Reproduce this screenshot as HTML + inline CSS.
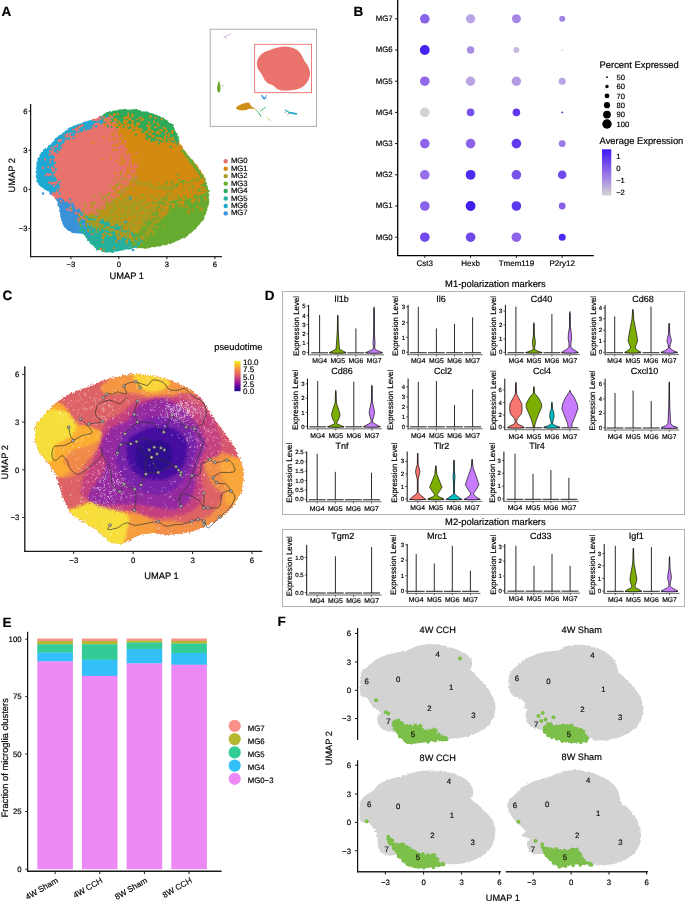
<!DOCTYPE html>
<html lang="en"><head><meta charset="utf-8"><title>Figure</title>
<style>
html,body{margin:0;padding:0;background:#fff}
svg{display:block}
text{font-family:"Liberation Sans", sans-serif;stroke:#000;stroke-width:0.18px;text-rendering:geometricPrecision}
</style></head><body>
<svg width="685" height="901" viewBox="0 0 685 901">
<rect width="685" height="901" fill="#fff"/>
<g id="panelA">
<text x="1.5" y="16" font-size="13.5" fill="#000" font-weight="bold" stroke="none">A</text>
<clipPath id="clipA"><path d="M37.7 175.6C37.8 172.4 37.5 166 38.3 162.2C39.2 158.4 40.5 155.6 42.7 152.8C44.9 149.9 48.9 147.7 51.8 145C54.7 142.4 56.9 139.4 60.2 136.6C63.5 133.8 67.5 130.5 71.6 128.2C75.7 126 80.3 124.7 84.7 123.2C89 121.7 94 120.8 97.8 119.2C101.6 117.6 103.6 114.9 107.5 113.5C111.3 112.1 116.4 111.2 120.9 110.8C125.4 110.3 129.9 110.3 134.3 110.8C138.8 111.2 143.3 112.2 147.8 113.5C152.2 114.8 157.3 116.5 161.2 118.5C165.1 120.5 168.7 122.4 171.3 125.2C173.8 128 175.1 132.1 176.3 135.3C177.5 138.5 177 141 178.6 144.4C180.3 147.7 183.4 151.7 186.4 155.5C189.3 159.3 193.6 163.6 196.4 167.2C199.2 170.9 201.3 173.4 203.1 177.3C205 181.2 206.8 186.3 207.5 190.7C208.2 195.2 208.2 199.7 207.5 204.2C206.8 208.7 205.3 213.7 203.1 217.6C201 221.5 197.8 224.6 194.8 227.7C191.7 230.8 188.6 233.8 184.7 236.1C180.8 238.5 175.7 240.3 171.3 241.8C166.8 243.3 162.3 244.3 157.8 245.2C153.4 246.1 148.3 247 144.4 247.2C140.5 247.4 137.7 246.3 134.3 246.5C131 246.7 127.6 247.8 124.3 248.5C120.9 249.3 117.6 250.5 114.2 250.9C110.8 251.3 107.2 251.6 104.1 250.9C101.1 250.2 98.3 248.4 95.7 246.5C93.2 244.7 91 242 89 239.8C87.1 237.6 85.7 234.8 84 233.4C82.3 232.1 80.9 232.1 79 231.7C77 231.4 74.5 232.3 72.2 231.4C70 230.5 67.2 228.7 65.5 226.4C63.9 224.1 63 220.8 62.2 217.6C61.3 214.5 61.3 210.6 60.5 207.5C59.7 204.5 58.8 201.8 57.1 199.1C55.5 196.5 52.9 193.5 50.4 191.4C47.9 189.3 44.2 188.1 42 186.4C39.9 184.7 38.4 183.1 37.7 181.3C36.9 179.5 37.6 178.8 37.7 175.6Z"/></clipPath>
<g clip-path="url(#clipA)">
<rect x="30" y="100" width="200" height="165" fill="#E8736C"/>
<polygon points="201.5,173.9 207.5,190.7 207.5,204.2 203.1,217.6 194.8,227.7 184.7,236.1 171.3,241.8 157.8,245.2 144.4,247.2 134.3,246.5 129.3,237.8 141.1,232.7 151.1,221 159.5,205.9 167.9,190.7 174.6,185.7 188,180.7" fill="#67AA30" stroke="#67AA30" stroke-width="3" stroke-linejoin="round"/>
<polygon points="129.3,179 141.1,183.4 157.8,186.7 169.6,190.1 161.2,207.5 151.1,222.7 141.1,233.8 132.7,239.5 117.6,232.7 100.8,226 87.3,221.7 79.3,214.9 97.4,200.2 114.2,186.7" fill="#A79B20" stroke="#A79B20" stroke-width="3" stroke-linejoin="round"/>
<polygon points="79.3,214.9 87.3,221 100.8,225 117.6,231.7 132.7,238.5 135,246.5 124.3,248.5 114.2,250.9 104.1,250.9 95.7,246.5 89,239.8 84,233.4 80.6,227.7 78,221" fill="#25B09B" stroke="#25B09B" stroke-width="3" stroke-linejoin="round"/>
<polygon points="99.1,120.2 107.5,113.5 120.9,110.8 134.3,110.8 147.8,113.5 161.2,118.5 171.3,125.2 176.3,135.3 179.7,146.4 170.6,144.4 158.8,142.4 144.1,134 129.6,127.9 114.9,122.5 108.2,124.2" fill="#2DAA5A" stroke="#2DAA5A" stroke-width="3" stroke-linejoin="round"/>
<polygon points="109.2,125.6 114.9,122.9 129.6,127.9 144.1,134 158.8,142.4 170.6,144.4 179.7,146.4 186.4,155.5 196.4,167.2 202.5,176 188,182.3 174.6,187.4 157.8,188.1 141.1,184.7 129.3,180 121.6,158.8 114.9,142" fill="#D48910" stroke="#D48910" stroke-width="3" stroke-linejoin="round"/>
<polygon points="51.1,153.8 55.5,145.4 67.2,133 84,124.2 100.8,119.5 108.2,126.2 114.9,140.3 121.6,157.1 129,172.3 114.9,188.1 98.1,201.5 84.7,211.6 79.3,215.9 71.2,205.9 63.2,195.8 56.5,189.1 51.4,178 50.4,164.5" fill="#E8736C" stroke="#E8736C" stroke-width="3" stroke-linejoin="round"/>
<polygon points="37.7,175.6 38,162.2 42,152.1 50.4,143.7 58.8,135.3 70.6,126.9 84,121.9 97.4,118.5 100.8,118.8 86.7,124.9 72.2,130.9 61.2,139.3 53.8,148.7 50.1,158.8 49.1,170.6 50.8,180.7 55.5,188.4 53.1,192.8 50.4,191.4 42,186.4 37.7,181.3" fill="#1EA9D3" stroke="#1EA9D3" stroke-width="3" stroke-linejoin="round"/>
<polygon points="59.8,199.1 67.2,203.5 78,214.3 81.3,224.3 84.7,233.8 79,231.7 72.2,231.4 65.5,226.4 62.2,217.6 60.5,207.5" fill="#3992D8" stroke="#3992D8" stroke-width="3" stroke-linejoin="round"/>
</g>
<path d="M152.1 213.8h0M138.6 235.3h0M170.9 190.3h0M143.4 229.7h0M132.4 233.6h0M137.4 237.7h0M200.3 176.1h0M150.2 222.3h0M133.1 239.1h0M140.4 231.8h0M193.5 181h0M134.9 241.7h0M138.5 237.1h0M167 183.3h0M133.8 236.8h0M152.4 213.5h0M167.8 186.9h0M174.4 186.1h0M163.3 198h0M136.5 234.4h0M146.6 226.7h0M193.5 180.1h0M136.9 234.7h0M174.5 186.5h0M157.1 207.3h0M153.7 220h0M163.3 192.8h0M170.4 189.3h0M158.3 212.7h0M188.1 183.4h0M187.6 182.6h0M182.7 181.5h0M136.2 237.3h0M177.7 175.1h0M150.2 224.2h0M155.5 216.9h0M168.3 191.5h0M145.8 229.8h0M150 210.8h0M143 230.6h0M163.4 205.6h0M194.6 178.7h0M187.4 183.9h0M143.2 227.1h0M141.6 234.9h0M204.6 179h0M204.7 180.3h0M204.8 180.9h0M205.4 182.8h0M205.9 183.7h0M205.6 185.2h0M206.7 186.6h0M206.9 188.1h0M207.1 189.7h0M208.6 191h0M207.2 192.1h0M207.6 193.4h0M208.3 194.9h0M207.4 196.1h0M207.9 197.1h0M208.1 199.2h0M208.1 200.3h0M208.2 201.7h0M207.7 203.1h0M208.1 204.3h0M207.1 205.9h0M206.8 207h0M206.4 208h0M206.3 210h0M205.4 210.7h0M205.3 212.3h0M205 213.9h0M203.7 215.3h0M203.5 216.5h0M203.2 217.6h0M203.3 219h0M201.7 219.6h0M201.6 220.8h0M199.9 221.8h0M199.4 223.2h0M198.6 224.1h0M197.4 224.7h0M197.1 225.8h0M195.7 226.9h0M195.2 228.5h0M193.7 228.9h0M192.6 229.3h0M192.4 230.5h0M191.4 231.2h0M190.4 232.5h0M188.6 232.7h0M188 233.6h0M187.3 234.9h0M186.2 235.7h0M185.3 236.5h0M184.3 237.3h0M182.7 237.1h0M181 237.9h0M179.8 238.6h0M178.8 239.3h0M177.8 239.4h0M176.1 240.3h0M175 240.1h0M174.2 241.6h0M172.3 241.8h0M171.8 242.2h0M170.5 243h0M169.4 242.9h0M167.1 243.2h0M166.5 244.2h0M165.2 244.4h0M163 244h0M161.9 244.2h0M161.1 244.8h0M159.8 245.5h0M158.2 245.6h0M156.7 245.2h0M155.4 246.2h0M154.1 246.3h0M152.5 245.8h0M151.4 246.1h0M150 246.9h0M148.6 246.5h0M147.6 247.6h0M146.2 247.6h0M144.4 247.8h0M142.7 247.1h0M141.2 247.2h0M140 247.1h0M138.7 246.8h0M137.4 247.5h0" stroke="#67AA30" stroke-width="2.3" stroke-linecap="round" fill="none"/>
<path d="M111.8 228.6h0M149.8 230.4h0M164.4 208.9h0M167.3 211.3h0M88.4 222.4h0M87.8 219.8h0M132.6 177.1h0M172.2 189h0M86.2 206.2h0M129.9 174.9h0M102.3 226.1h0M126.8 234.9h0M164.4 189h0M149.8 229h0M163.3 214.3h0M140.3 236.8h0M139.7 183.8h0M132.5 241.3h0M161.8 214.8h0M97.4 227.1h0M84.1 210.2h0M115.8 233.2h0M77.8 213.6h0M110.4 229.8h0M156 219.4h0M97.1 226.8h0M131.1 239.7h0M122 178.3h0M160.9 218.6h0M152.2 224.4h0M91.4 221.1h0M106.7 233.6h0M146 232h0M153.6 222.6h0M155.6 226.9h0M157.3 216.8h0M136.2 243h0M71.4 208.8h0M153.8 232.8h0M150.6 187.5h0M110.6 227.5h0M96.7 228.9h0M151.3 229.5h0M165.6 187.4h0M136.8 178.6h0M163.8 185.7h0M175.8 198.5h0M115.8 229.8h0M156.4 223.1h0M100.2 194.3h0M136.1 182.8h0M173.5 192.4h0M125.1 234.8h0M107.6 226.8h0M158.6 183.5h0M162.5 210.9h0M99.7 227.8h0M139.5 240h0M138.7 237.5h0M125.9 237.1h0M108.1 194.9h0M165.7 204.6h0M118.3 230.7h0M173.8 190h0M118 185.2h0M141.1 243.7h0M130.7 176.5h0M147.9 236.1h0M146.1 230.8h0M167.8 188.3h0M163.3 207.4h0M138.6 184.2h0M120.8 236.9h0M160.1 218.8h0M94.4 223.1h0M93.7 206.4h0M111.1 228.2h0M86.8 222.3h0M164.8 214.8h0M130.5 174.6h0M93.6 202.7h0M153 224.9h0M98.8 224.1h0M173.4 195.9h0M141.1 185.1h0M96.2 223.8h0M133.5 181.4h0M79.4 223.8h0M82.8 216.9h0M85.7 219.4h0M108.7 194.1h0M100.1 230h0M119.3 231.8h0M92.6 206.7h0M168.4 200.3h0M155.6 188.1h0M98 223.6h0M109.9 186.4h0M161.2 215.3h0M150.5 186.7h0M116.9 234.8h0M157.2 221.5h0M161.1 218.6h0M130.1 236.5h0M94.1 203.1h0M83.5 210h0M109.2 193.9h0M141.9 238.8h0M133.7 178h0M88.7 221.6h0M167.4 202.6h0M164.1 225.5h0M117 187.8h0M91 229.2h0M104.4 228.9h0M152.6 184.8h0M172.1 189.6h0M158.9 186.8h0M83.2 223h0M148.9 186.4h0M119.8 182.1h0M132.7 238.5h0M143.5 184.9h0M93.5 203.6h0M109.2 193.2h0M151.4 231.4h0M90.7 220.7h0" stroke="#A79B20" stroke-width="2.3" stroke-linecap="round" fill="none"/>
<path d="M115.8 225.5h0M79.8 224.3h0M83.4 229.2h0M94.6 219.8h0M109.6 226.8h0M137.8 242.3h0M112.7 227.1h0M82.6 213.5h0M126 232.7h0M83.4 226.8h0M87.5 217.2h0M134.4 238.8h0M128.3 234.7h0M134.8 239.4h0M121.5 230h0M134.8 234.4h0M83.8 230h0M83.1 215h0M131.7 233.5h0M106.4 225.6h0M81.3 222.9h0M80.9 219.7h0M93.7 219.9h0M135.1 235.5h0M133.6 235.4h0M103.7 222.8h0M116.9 224.8h0M103.9 223h0M116.8 229.5h0M81.6 220.5h0M101.7 222.6h0M83.1 226.4h0M115.6 228.9h0M102.9 221.7h0M105.9 223h0M108.5 225.8h0M111.1 227.4h0M135.7 246.7h0M134.3 247h0M133 247h0M131.4 248h0M130.1 248.3h0M128.3 248.7h0M126.9 248.2h0M125.4 248.5h0M124.6 248.6h0M123 249.5h0M121.6 249.3h0M119.9 250h0M118.4 250.2h0M116.9 250.5h0M115.9 250.6h0M114.3 250.4h0M112.9 251.9h0M111.1 251.5h0M109.5 251.2h0M108.7 251.3h0M107.1 251.4h0M105.5 251.6h0M104 250.9h0M102.5 251.1h0M101.9 249.6h0M100.4 249.3h0M99 248.4h0M97.5 248.7h0M96.5 247.8h0M95.5 247h0M94.6 245.7h0M93.8 244.9h0M92.8 244h0M91.3 243.3h0M90.6 242.3h0M90.1 241h0M89.3 239.9h0M88 239.9h0M86.9 237.7h0M86.6 236.8h0M85.6 235.3h0M84.9 234.6h0M83.8 233.2h0" stroke="#25B09B" stroke-width="2.3" stroke-linecap="round" fill="none"/>
<path d="M177.6 145.1h0M111 124h0M123.5 127h0M148.9 137.4h0M102.7 121.4h0M151.9 138.2h0M101.2 120.1h0M146.3 134.4h0M151.6 141.2h0M147.4 134.8h0M102.3 116.6h0M104 115.5h0M105.2 114.4h0M106.3 114.5h0M107.3 112.8h0M108.8 112.8h0M110.1 112.2h0M111.6 113h0M113.1 112h0M114 111.7h0M115.8 111.4h0M117.3 111.5h0M118.1 111h0M119.9 110.5h0M120.7 110.3h0M122.5 110.6h0M123.4 110.2h0M125 109.8h0M126.4 110.7h0M127.9 110.6h0M129.2 110.8h0M130.3 110.7h0M131.9 110.4h0M132.7 111.1h0M134.3 109.9h0M135.8 110.4h0M136.9 110.1h0M138.6 111.2h0M139.7 111.1h0M140.7 112.4h0M142.4 112.3h0M143.9 112.6h0M145 112.7h0M146.5 112.4h0M148 112.8h0M149.2 113.9h0M150.4 114.5h0M151.3 114.2h0M153.2 114.6h0M153.8 115h0M155.2 115.9h0M156.8 116h0M157.9 117.3h0M159.2 116.8h0M160.1 117.6h0M161.1 118.6h0M162.9 118.5h0M163.9 119.7h0M165 120.3h0M166.1 121.1h0M167.1 121.7h0M168 123.2h0M168.6 123.9h0M170.1 124.2h0M171.5 124.7h0M172.7 125.5h0M173 127.8h0M173.4 128.6h0M174.1 130.2h0M174 131.9h0M175 132.3h0M176.2 133.8h0M176.5 134.9h0M176.3 136.7h0M178 137.4h0M177.6 138.8h0M178.3 140.3h0M178.1 141.6h0" stroke="#2DAA5A" stroke-width="2.3" stroke-linecap="round" fill="none"/>
<path d="M122.9 188.3h0M126.1 191.7h0M126.1 174h0M161.1 138.7h0M175.4 142.3h0M161.1 193.6h0M200.2 180.2h0M168.1 138.6h0M149.3 130.3h0M148.9 122.4h0M166 207.6h0M137.1 129.1h0M174.5 199.6h0M113.4 150h0M132.2 121.8h0M156.5 190.7h0M181.4 189.1h0M176 189.9h0M179.8 188.6h0M140.4 129.1h0M168.8 196.8h0M114.5 195.8h0M146.4 131.7h0M181.4 192.7h0M194.3 182.9h0M200 194.2h0M161.7 195.7h0M196.1 180.9h0M171.8 189.3h0M132.3 189.8h0M186.7 190h0M165.1 138.8h0M121.7 201.8h0M186.1 187.7h0M180.3 189.4h0M140.1 191.3h0M147.8 190h0M154.1 136.1h0M180 196.5h0M125.9 186.9h0M127.1 195.2h0M145.7 195.3h0M126.5 175.2h0M136.9 127.3h0M125.5 122.6h0M194.2 189.8h0M155.6 214.1h0M128.4 113.6h0M190.8 189.9h0M107 124.5h0M140 190.8h0M143 198.2h0M199.5 182.3h0M188.6 212.7h0M92.7 143h0M138.5 191.1h0M198.8 201h0M155.2 190h0M123 181.4h0M170 191h0M136 195h0M156.4 196.1h0M151.9 130.9h0M125.8 180.7h0M131.3 126.1h0M191.1 188.3h0M163.8 189.8h0M156.6 133h0M147.6 200.7h0M136.5 189.9h0M172.4 189.8h0M194.4 188.9h0M201.9 190.8h0M135.4 199.2h0M144.8 188.5h0M175.6 191.6h0M201.4 190.2h0M181.3 194h0M117.2 160.8h0M132.2 195.1h0M173.8 193.9h0M159 197.2h0M135.7 184.7h0M115.8 119.1h0M109.8 122.5h0M124 184.4h0M157.8 131.9h0M137.3 124.5h0M151.6 200.5h0M139.6 188.7h0M197.6 184.3h0M149.4 199.6h0M160 138.2h0M133.2 120.8h0M151.9 192.9h0M150.9 116.2h0M126.1 122.7h0M185.7 185.5h0M170.3 195.9h0M154 188.9h0M177.7 189.2h0M173.1 195.5h0M126 164.2h0M204.7 192.4h0M196.6 183.5h0M123.6 180.8h0M129.5 184.4h0M131.9 191.8h0M187.1 190.7h0M150.4 191.2h0M162.1 130.7h0M187.8 195.5h0M131.2 191.4h0M167.8 199.6h0M198.6 180.6h0M162.6 194.5h0M128.2 116.3h0M155.6 118h0M137.8 189.4h0M178.1 188.6h0M128.2 171.5h0M110.9 158.2h0M191.5 195.4h0M128.2 184.6h0M162.1 139.8h0M189.1 193.2h0M167.2 196.6h0M183.8 189.5h0M165 136.6h0M131.4 125.6h0M158.7 190.6h0M195.3 186.2h0M171.6 189.8h0M147.3 125.3h0M114.7 140.7h0M132.1 121.3h0M200.1 183.5h0M169 197h0M191.9 200.9h0M140.5 196.1h0M143.7 190h0M195.3 183.7h0M119.1 189.3h0M163.8 191.3h0M171.6 139.7h0M141.5 120.7h0M107.2 122.7h0M119.3 122h0M124.9 196h0M125.9 118.2h0M149.3 134.4h0M151.4 135.6h0M143.2 119.4h0M124.4 118h0M188.8 184h0M139.7 189.5h0M165.2 137.7h0M123.8 122.1h0M178.5 190.6h0M183.3 203.7h0M133.2 127.2h0M123.8 194.7h0M199.2 193.6h0M185.8 192h0M150.6 190.3h0M198.3 185h0M187 192.9h0M181.9 187.3h0M126.6 179h0M132.9 188.1h0M112.4 134.4h0M137.1 185.2h0M118 205.5h0M143.6 184.8h0M137.2 209.2h0M98 212.1h0M150.4 212.5h0M134 234.1h0M142.8 212.4h0M121.6 228.5h0M116.7 201.8h0M137.1 184.3h0M119.4 214.4h0M126.5 233.2h0M130 186.5h0M113.5 224.9h0M121.8 211.3h0M116.6 190.5h0M121.9 212h0M91.8 221.4h0M159.4 198.3h0M138.1 227.2h0M126.5 232.8h0M132 227.8h0M103.3 207h0M143 223.1h0M131.4 200.8h0M118.8 219h0M146 201.2h0M123.2 196.6h0M126.1 226.8h0M133 218.2h0M137.9 186.6h0M131.5 229.1h0M146.4 207.3h0M140.9 220.9h0M160.4 204.8h0M128.8 203.6h0M106.3 212.8h0M151.6 218.3h0M131.7 236h0M161.4 190.4h0M118.9 185.9h0M113.7 196.5h0M140.4 198.7h0M137.2 231.5h0M141.7 204.8h0M156.5 205.7h0M158 191.8h0M139.6 217.4h0M165 204.2h0M195.7 181.5h0M200.2 181.1h0M196.6 187.5h0M181.2 196.6h0M172.5 197.9h0M181.3 195h0M163.1 205.2h0M186.7 196.4h0M174.4 186.3h0M178.4 202.3h0M185.7 185.5h0M173.2 206.1h0M171.6 204h0M164.9 203.9h0M175 186.8h0M191.2 192.7h0M197.3 186.6h0M167.6 208.9h0M206.6 191.1h0M190.4 196.6h0M204.7 188.5h0M167.8 192.4h0M196.8 189.1h0M161.1 210.5h0M182.9 202.6h0M173 195.1h0M181.9 204.2h0M162.4 212.9h0M202.6 192.9h0M206.5 190.9h0M161.6 211.7h0M199.9 193.6h0M184.2 198.9h0M179.5 186.2h0M184.6 186.1h0M203.7 188.2h0M161.3 211.3h0M189.2 184h0M192.6 195.7h0M103.1 237.2h0M118 239h0M87 225.3h0M100.9 249h0M113.9 248.1h0M102.9 241.8h0M103.1 238.3h0M120.2 233.3h0M178.7 143.1h0M178.4 144.7h0M180.1 145.5h0M180.9 146.2h0M181.8 147.1h0M181.9 148.4h0M182.6 150.1h0M183.7 151.1h0M184.4 151.9h0M185 152.9h0M186.4 154.1h0M186.5 155.3h0M187.6 156.3h0M188.4 157.2h0M189 158.7h0M189.9 159.5h0M192.2 160.6h0M191.9 161.5h0M193.3 162.5h0M194.2 163.8h0M195.2 165.2h0M196.6 165.6h0M196.7 167.4h0M197.7 167.9h0M197.7 169.3h0M199.7 170.7h0M200.1 171.3h0M200.2 173.1h0M201.4 173.6h0M201.8 175h0M202.9 175.8h0M203.3 177.2h0" stroke="#D48910" stroke-width="2.3" stroke-linecap="round" fill="none"/>
<path d="M78.8 220.5h0M123.8 184h0M118.5 187.6h0M127.8 162.9h0M128.1 167h0M96.7 204.7h0M121.4 152.1h0M107.3 118.1h0M122 151.3h0M123.2 181.4h0M113.1 130.3h0M115.7 193.2h0M103.6 199.5h0M121.7 184.8h0M111.1 127.9h0M128.7 179.4h0M127.9 161.1h0M117.2 128.6h0M121.7 147.9h0M130.8 177.7h0M112.2 196.8h0M127.8 181.9h0M100.2 204.5h0M113.7 128h0M97.4 205h0M114.9 193.1h0M109.5 199.4h0M127.6 183.1h0M124.5 187.4h0M106.2 120.4h0M101.9 119.6h0M68.8 210.2h0M109.6 202.6h0M86.7 213.1h0M81.7 218.7h0M85.5 212.8h0M101.9 202h0M116.3 135.9h0M84.9 214.8h0M116.5 122.3h0M120 141.1h0M120.2 148.4h0M119.4 186.7h0M121 186.1h0M51.6 183.8h0M129.8 179h0M99.9 203.1h0M95.1 207.7h0M125.1 183.3h0M128 159h0M85.2 215.4h0M86.5 214.3h0M136.5 153h0M131.2 166.9h0M58.7 141h0M123.9 155.7h0M135.6 177.7h0M110.6 127.2h0M114.8 190.1h0M119 195.4h0M73 129.4h0M45.1 159.5h0M120.8 135.7h0M108.2 123h0M108.9 123.7h0M137.2 165.4h0M122.3 138.1h0M113.2 191.5h0M114.9 134.9h0M123 147.4h0M119.1 186.7h0M117.7 141.1h0M88.7 212.5h0M110.3 125.4h0M126.8 164.4h0M61.7 139.9h0M112.3 123.5h0M123.6 148.3h0M114.7 136.1h0M75.7 212.8h0M85 215.7h0M108.3 196.7h0M123.1 149.8h0M124.8 141.5h0M113.7 195.2h0M124.2 148h0M136.1 176.1h0M136 167.3h0M124.1 147.3h0M48.2 166.8h0M63.9 134.4h0M129.2 176.2h0M98.2 207.5h0M81 125.1h0M112.7 193.3h0M113.5 131.2h0M130.5 163h0M115.2 133.5h0M50.1 151.1h0M111.3 195.8h0M124.1 183.3h0M104.4 201.9h0M131 165h0M106.5 119.6h0M102.2 208.8h0M118.2 141h0M123.5 151h0M114.5 190.8h0M109 123.9h0M118.8 186.8h0M71.3 210.7h0M90.4 210.8h0M53.2 152.3h0M57.3 145.2h0M98.7 120.5h0M120.6 184.4h0M129 178.6h0M52 157.9h0M91.2 209h0M113.9 128.9h0M107.2 197.4h0M128.9 154.2h0M61 201.5h0M86.2 213.3h0M129.7 157.7h0M128.4 176.5h0M50.8 182.9h0M51.7 147.8h0M111 120.3h0M103.4 117.7h0M54.2 185.9h0M94.3 212.5h0M86.4 215.5h0M96 206.9h0M115.3 137.2h0M120.1 185.9h0M125.2 192.3h0M92.4 120.3h0M93.4 119.8h0M95.3 119.9h0M96.6 119.4h0M98 118.8h0M98.8 118.2h0M99.8 117h0M101.4 116.8h0M55.6 198.2h0M55.2 196.7h0M54.6 195.9h0M52.7 195h0M52.5 193.5h0" stroke="#E8736C" stroke-width="2.3" stroke-linecap="round" fill="none"/>
<path d="M51.9 162.9h0M51.6 161.9h0M87.6 126.8h0M52.8 164.8h0M64 139.8h0M104.8 121.8h0M51.2 172.3h0M92.8 123.9h0M54.1 178.7h0M53.7 180.4h0M51.8 173.4h0M55.9 169.4h0M59.4 182h0M58.6 187.4h0M67.6 137.5h0M98.7 121.9h0M51.7 159.3h0M52.6 156.7h0M55.3 151.2h0M80.7 130.4h0M98.9 121.7h0M101.5 117.4h0M59.6 144.2h0M55.4 180.5h0M86.2 129.8h0M75.2 132.3h0M59.7 193.6h0M59.7 146.9h0M81.8 128.8h0M52.4 161.6h0M102.2 119.8h0M54.2 157.6h0M71.9 134.9h0M73.5 138.2h0M52 158.3h0M63.2 142.4h0M57.9 184.3h0M63.6 139.4h0M56.5 187h0M88.9 126.7h0M55.7 149.6h0M84.4 127.6h0M36.9 175.9h0M37.3 174.2h0M37.7 173.2h0M36.6 171.8h0M37.5 170.6h0M37 168.5h0M37.5 167.3h0M37.5 166.3h0M37.5 164.7h0M37.5 163.3h0M37.7 162.1h0M38.6 160.6h0M38.5 158.9h0M39.6 157.8h0M41.1 157.2h0M40.5 155.4h0M41.6 153.8h0M42.1 152.9h0M44 152.2h0M44 150.4h0M45.8 149.9h0M45.6 149.2h0M48 148.4h0M48.6 147.8h0M48.9 146.4h0M50.3 145.6h0M51.9 145.1h0M52.3 144.1h0M53.3 142.7h0M54.4 142.2h0M55.2 141.2h0M55.6 139.5h0M56.6 138.9h0M57.8 138h0M59 137.2h0M59.4 136.2h0M60.8 136h0M62.3 134.8h0M63.2 133.7h0M64.5 133.1h0M65.4 132.2h0M66.4 131.2h0M68 131h0M68.8 129.2h0M70 128.5h0M71.6 128.2h0M72.6 127.6h0M73.7 126.6h0M75.3 126.5h0M76.6 126.1h0M77.8 125.1h0M79.7 125.2h0M80.3 124.4h0M81.8 124.5h0M83.2 123.3h0M84.5 122.8h0M85.6 122.3h0M87.1 122.6h0M88.2 121.6h0M90.2 121.5h0M91.4 121.2h0M50.7 192.9h0M49.5 191.1h0M49.6 190.9h0M47.3 190h0M46.6 189.1h0M44.9 188.7h0M44 187.6h0M43 186.8h0M42 186.3h0M40.9 185.6h0M39.6 184.4h0M39.8 183.7h0M38.7 182.4h0M37.4 181h0M38 180h0M37.4 178.1h0M36.9 177h0" stroke="#1EA9D3" stroke-width="2.3" stroke-linecap="round" fill="none"/>
<path d="M85.3 229.6h0M83.3 223.7h0M85.2 228.1h0M85.6 220h0M83.8 216.1h0M78.8 209.7h0M88.8 236.7h0M82.4 219.1h0M72.4 205.9h0M70 199.5h0M90.3 228.8h0M74.6 208.1h0M77.4 210.2h0M82.2 233.1h0M81.1 232.4h0M79.9 232.8h0M78.9 232.1h0M77.4 232.5h0M75.4 232.3h0M74.5 231.9h0M73.2 232.1h0M72.2 231.8h0M71.1 230.7h0M69 230.2h0M68.5 229.3h0M67 228.4h0M66.6 227.5h0M65 226.6h0M64.6 225.7h0M64 224.4h0M63.4 223h0M63.2 222.1h0M62.5 220.4h0M62.1 219.5h0M61.7 217.6h0M61.4 216.5h0M61.1 214.9h0M61.1 213.3h0M60.8 211.7h0M60 210.6h0M60.6 208.7h0M60.2 207.5h0M59.8 206.3h0M58.6 205.4h0M58.5 203.9h0M58.7 201.9h0M57.6 200.6h0M56.8 199.3h0" stroke="#3992D8" stroke-width="2.3" stroke-linecap="round" fill="none"/>
<path d="M171.3 188.6h0M131.7 246.3h0M153.7 218.6h0M133.9 242.9h0M184.2 181h0M133.6 241.2h0M160.9 203.3h0M156.7 215h0M132 242.9h0M168.7 194.6h0M170.2 189.1h0M176 185.4h0M190 182.7h0M170.7 190.7h0M176.9 185.2h0M177.3 184.1h0M139.4 235.1h0M150.1 224.9h0M154.5 217.8h0M164.4 190.7h0M141.5 229.5h0M163.4 202.9h0M153.8 212.2h0M167.7 195h0M191.6 181.1h0M153.5 219.4h0M149.2 223.1h0M133.8 240.5h0M154.4 217.3h0M148.5 221.7h0M180.6 181.9h0M159.4 203.3h0M139.1 234.9h0M152 221.3h0M145.7 227.5h0M145.4 231.1h0M142.4 233.9h0M137.3 236.7h0M189.2 182.1h0M197.7 179.4h0M137.6 236.7h0M134.2 244.3h0M150.1 221.1h0M165.4 195.8h0M144.8 222.3h0M169.9 191.3h0M143.6 222.1h0M166 190.8h0M168 190.7h0M163.1 195.6h0M183.8 183.9h0M164.4 204.2h0M133.1 240.8h0M158.8 202.4h0M162.9 207h0M159.9 207h0M151.2 221.4h0M152.8 217.8h0M156.7 213.5h0M134.3 243h0M176.1 185.5h0M157.5 213.5h0M146.7 223.4h0M141.3 233.5h0M163.5 201.9h0M133 238.5h0M137.2 238h0M160.1 210.2h0M169.1 192.2h0M148 226.6h0M176.3 186.5h0M152 223.5h0M170.1 191.9h0M196.3 180.1h0" stroke="#67AA30" stroke-width="2.3" stroke-linecap="round" fill="none"/>
<path d="M121.4 234h0M148.2 228.2h0M171.3 191.9h0M161.5 189.3h0M168.9 204.2h0M123.5 236.5h0M151.1 226.2h0M108.2 227.7h0M106.4 227.7h0M107.8 227.7h0M84.6 203.8h0M133.4 181.4h0M103.2 198.1h0M155.8 220.7h0M155.6 222.3h0M148.5 228.6h0M103.2 224.7h0M139.4 236.8h0M132.9 237.6h0M128.4 236.3h0M115.9 231.3h0M103.1 196.9h0M159.8 188.2h0M97.7 223.4h0M82.8 216.5h0M132 180h0M148.1 231.9h0M158.9 187.1h0M174.1 188.3h0M127.9 236.3h0M133.4 183h0M94.9 203.1h0M139.5 185.6h0M122.8 236.1h0M143.6 235.3h0M140 242.7h0M163.2 207.6h0M130.6 238.3h0M97.8 222.8h0M139.5 236.8h0M161 211.1h0M95.3 222.8h0M154 221.8h0M88.9 223h0M88.8 222.8h0M87.4 224.7h0M145.9 239.8h0M160.4 185.1h0M126.8 243.1h0M152.6 231.6h0M80.5 213.4h0M92.7 221.9h0M146.7 232.5h0M143.2 184.9h0M101 224.5h0M159.3 221.4h0M115.3 179.6h0M93.3 225h0M142 238.8h0M139.2 242h0M120.9 174.2h0M131.4 179.4h0M173.1 203.9h0M130.3 175.3h0M160.5 214.1h0M118.8 237.1h0M81.5 220.5h0M167.3 206.4h0M84.1 226.1h0M167.6 198h0M170 204.2h0M137.8 176.4h0M102.1 228.1h0M85.7 224.2h0M142.7 239.3h0M141.6 183.2h0M80.5 217.8h0M144.2 183.1h0M120.2 238.7h0M153.5 222h0M157.7 217.3h0M134.6 244.5h0M137 181.8h0M137.5 183.9h0M116.2 184.7h0M100.6 225.7h0M94.2 196.4h0M153.5 186.2h0M149.3 233.8h0M167.4 204.1h0M105.2 232.3h0M93.8 222h0M83 216.2h0M158 228.2h0M151.5 224.7h0M136.2 239.1h0M79.1 215.4h0M116.6 235.7h0M131 178.9h0M161.4 217.9h0M118.2 185.7h0M165.8 189.1h0M170 210.5h0M127.9 238.5h0M150.3 185.4h0M149.7 186.2h0M114.5 189.7h0M115.4 230.4h0M130.1 180.9h0M119.2 232.9h0M141.4 237.2h0M168.7 187.2h0" stroke="#A79B20" stroke-width="2.3" stroke-linecap="round" fill="none"/>
<path d="M103 219.9h0M109.1 224.5h0M118.4 229.3h0M121.8 228.5h0M83.3 215.7h0M101.9 220.4h0M101.6 223.3h0M87.2 218.3h0M80.8 214.1h0M128.8 230.1h0M79.9 221.2h0M141.8 241.4h0M96.1 216h0M133.3 236.6h0M107.4 222.9h0M81.1 231.2h0M76.4 220.1h0M139.5 243.5h0M126.8 230.6h0M98.9 222.2h0M101.8 222.4h0M84.1 229.4h0M85.2 214.7h0M139 242.1h0M102.6 224.1h0M137.8 243.5h0M107.2 224.9h0M84.8 230.9h0M104.2 224.2h0M87.2 218.9h0M129 235h0M139.2 243.3h0M123.9 231.8h0M90.8 220h0M137.5 235.8h0M93.6 219.5h0M136.6 239.1h0M83.5 232.6h0M79.2 218.3h0M120.4 230.6h0M79.6 229.9h0M100.5 221.8h0M110.3 227.1h0M99.7 221.8h0M82.2 226.7h0M121 225.8h0M90.6 219.5h0M99.3 219.7h0M82.5 224.5h0M90.3 220.1h0" stroke="#25B09B" stroke-width="2.3" stroke-linecap="round" fill="none"/>
<path d="M151.9 139.1h0M158.6 143.6h0M142.9 132.1h0M108 126.5h0M133.6 130.3h0M111.8 127.1h0M109.5 124h0M149 136.7h0M105.3 121.9h0M115.5 122.4h0M128.4 128h0M119.3 125.1h0M136 134.6h0" stroke="#2DAA5A" stroke-width="2.3" stroke-linecap="round" fill="none"/>
<path d="M188.4 210.4h0M189.3 185.1h0M166.2 135h0M156.8 193.9h0M150.8 192.6h0M110.5 123.2h0M152.9 136.7h0M149.4 201.7h0M198 186h0M155.6 191.5h0M146 189.1h0M164.8 201.9h0M177.9 193.1h0M150.8 133.4h0M189.2 195.2h0M122.2 157.5h0M158.8 191h0M146.3 132.6h0M170.3 142h0M132.2 114.5h0M164.8 140.7h0M197.5 183.7h0M108.3 120.5h0M134.8 187.2h0M159.5 212.2h0M197.8 206.7h0M122.5 161h0M185 185.1h0M128 180.7h0M180.6 187.3h0M109.9 115.1h0M189.1 183.7h0M126.4 123.6h0M113.7 135.3h0M151.3 190h0M199.7 186.2h0M119 190.9h0M193.5 193.7h0M188.8 192h0M202.1 193h0M150.5 189.4h0M163.9 127.9h0M149.8 129.9h0M186.9 192.5h0M137.6 200.6h0M171.9 193.7h0M191.8 188.1h0M183.3 198.4h0M132.5 123.9h0M155.1 126.8h0M193.9 181.6h0M198.1 184.9h0M158.6 138.5h0M124.8 122.9h0M164.2 194h0M192.3 191.2h0M140.6 118.4h0M168.3 195.8h0M132.7 116.3h0M186.1 185.2h0M156.5 191.3h0M105 119.2h0M115 173.5h0M134.1 187.6h0M115 114.1h0M127.5 168h0M198.2 183.4h0M129.4 191.6h0M132.5 124.8h0M197.6 182.2h0M152.3 192.4h0M110.3 117.3h0M122.8 163.4h0M165.2 195.6h0M120.8 172.2h0M141.3 189.1h0M195.3 190.5h0M120.6 164.4h0M116.2 145h0M128.5 172.8h0M127 175.8h0M113.3 198.2h0M118.1 114.2h0M134.1 128h0M146.1 190.1h0M191.2 189.3h0M157.2 191.1h0M135.9 192.5h0M162.5 189.6h0M145 188.9h0M158.8 125.3h0M144.7 193.4h0M106.1 119.2h0M127.4 117.2h0M170.3 189.4h0M147.4 131.7h0M167.5 194.2h0M150 193.8h0M191.1 191.9h0M150.2 188.5h0M112.3 133.8h0M158 139.3h0M174.8 191.9h0M122.1 159.7h0M158.4 133.7h0M150.4 188.5h0M168.4 141h0M200.4 208.5h0M158.6 138.3h0M186.9 195.9h0M195.9 191.4h0M130.7 187.3h0M118.6 190.6h0M128.6 118.9h0M161.1 191.4h0M202.3 210.3h0M171 142.8h0M157.4 123.4h0M168.6 194.2h0M137.9 185.8h0M180.5 202.6h0M163.9 140.4h0M188.3 184.3h0M129.9 125.1h0M145.6 193h0M129.4 190.2h0M182.2 201.7h0M169.2 133.8h0M151.3 198.9h0M147.6 198.1h0M153.3 132.1h0M109.4 120.8h0M164.7 193.7h0M155.1 194.3h0M119.5 190.6h0M129.2 119.4h0M178.7 190h0M134 128h0M204.8 197.5h0M144.8 192.2h0M190.3 184.4h0M182.7 192.3h0M163.2 192.8h0M120.7 198.9h0M165.5 212.3h0M161.6 139.2h0M191.3 188.1h0M161.5 216.8h0M162 191.6h0M203.5 181h0M109.4 139.3h0M199 198.1h0M148.5 127.7h0M176.4 189h0M159.5 193h0M175.1 196.4h0M144.4 187.4h0M127.1 184.1h0M146.6 190.4h0M135.3 188.6h0M137.7 125.2h0M175.4 194.3h0M159.5 191.4h0M124.6 161.7h0M137.4 129h0M154.3 194.8h0M194.8 192.9h0M150.8 205.8h0M114.9 120h0M150.5 125.1h0M172.9 137.9h0M174.4 191.2h0M165.1 128.7h0M138.5 192.1h0M137.8 128.2h0M136.6 187.3h0M102.4 210h0M118.7 210.1h0M135.5 197.2h0M164.8 192.3h0M153.9 193.4h0M104.3 212.9h0M88.3 219.5h0M121.3 199h0M142.9 213.5h0M129.2 217.5h0M116.6 190.4h0M91 206.9h0M151 204.1h0M112 195.9h0M160.9 188.9h0M134.3 193.6h0M107.6 215.3h0M116.3 202.4h0M107.4 210h0M123.2 220.3h0M135.6 222.7h0M155.8 194.4h0M111.3 206.8h0M152.9 186.6h0M99.3 220.4h0M127.3 229.6h0M129.4 235.2h0M114.3 187.2h0M127.5 194h0M132.9 185.2h0M119.8 225.4h0M100 218.5h0M117 197.4h0M130.4 220.3h0M111 199.9h0M102.9 214.3h0M84.9 215.7h0M116.2 192.7h0M151 191.8h0M153.8 211h0M113.1 188.3h0M119 208.9h0M124.4 218.7h0M115.4 230.1h0M85.6 214.4h0M117.3 213h0M163.7 194.9h0M125.8 203.5h0M102.5 201h0M146.3 196.5h0M127.8 192.1h0M109.9 207.9h0M122.7 208.6h0M95.4 214.4h0M92.6 212.4h0M132.7 191.6h0M120 224.6h0M142.1 184.2h0M199.8 193.1h0M176.1 195.8h0M187.1 189.7h0M183.8 191.7h0M189 195.4h0M170.9 198.3h0M166.5 210.5h0M189 187.1h0M195.6 179.2h0M185 194.6h0M176.3 193.6h0M188.9 196.4h0M157.9 209.1h0M171.1 199.1h0M168.6 199.9h0M159.4 210.2h0M193.9 194.5h0M190.9 190.2h0M178.2 187.7h0M158.6 216.2h0M162.3 215.1h0M201.6 175.2h0M180.8 185.7h0M175.1 189.2h0M194.4 178.2h0M193.7 198.8h0M199.1 175.5h0M167.8 207h0M188.3 190.1h0M202.2 187.5h0M181 191.2h0M200.5 177h0M163.3 203.9h0M166.7 212.5h0M154.3 217.1h0M161.5 211.3h0M189 192.7h0M185.4 192.7h0M192.2 183.9h0M180.1 194.5h0M165.7 199.3h0M164.8 200.6h0M186 189.5h0M166.7 212h0M158.2 216.5h0M178.4 198.7h0M98.6 224.4h0M109.8 233.9h0M97.8 225h0M88.1 230.5h0M92.1 234.1h0M116.3 241.4h0M103.8 250.3h0M80.8 225.3h0M79.4 220.3h0M130 237.6h0" stroke="#D48910" stroke-width="2.3" stroke-linecap="round" fill="none"/>
<path d="M52.4 151.4h0M118.7 188h0M111.8 196.2h0M67 136.1h0M108.6 118.3h0M47.4 173.8h0M69.8 133.6h0M131.4 171.4h0M114 197.8h0M115.1 122.5h0M115.9 196.4h0M105.1 200.8h0M125.4 150.7h0M135.7 175.7h0M120 148.4h0M125.6 153.3h0M108.6 119.9h0M124.9 157.1h0M76.7 129.9h0M117.4 194.6h0M134.3 165.9h0M123.6 144.6h0M115.5 130h0M105 119.9h0M45.9 175.4h0M101.7 202.5h0M104 199h0M110.5 195.8h0M129.8 177.8h0M89.5 214.3h0M94.8 205.9h0M49.4 154.5h0M70.5 207.1h0M82.9 219h0M109.1 197.7h0M52.8 183.2h0M90.2 209.9h0M77.4 127.6h0M75.5 129.4h0M65.8 136.8h0M129 175.3h0M126.6 163.5h0M93.2 210.1h0M131.7 176.6h0M52.9 154.6h0M112.6 197.3h0M113.4 127h0M67.4 209h0M121 141.9h0M91.3 209.9h0M119 186.5h0M128.3 165h0M86.4 212.3h0M109.8 125.7h0M89 212h0M66.4 135.5h0M79.4 127.1h0M95 208.9h0M117.5 136.8h0M135.2 180h0M111.6 200.6h0M124.6 147h0M123.6 188.4h0M134.4 169.8h0M90.6 212.3h0M53.7 149.3h0M124.1 152.9h0M133.8 166.8h0M133.6 170.5h0M75.6 213.3h0M120 145.6h0M127.8 156.5h0M124 157.6h0M129.4 179.9h0M93.9 212.3h0M82.8 125.2h0M122.1 183.5h0M50.5 162.1h0M117.6 188.6h0M117.2 134.4h0M100.3 206.3h0M125.6 180.1h0M118.2 141.8h0M117.1 140.2h0M112.9 128.8h0M112.5 131.4h0M123.3 184.1h0M122 147h0M112.4 116.9h0M117.6 138.2h0M96.3 207.9h0M49 175.2h0M131.3 174.5h0M50.7 173.7h0M127.7 165h0M98.3 204.7h0M135.4 164.4h0M122.3 187.5h0M80.2 125.9h0M126.9 149.9h0" stroke="#E8736C" stroke-width="2.3" stroke-linecap="round" fill="none"/>
<path d="M90.3 128.4h0M56.7 186h0M67.8 138.2h0M91.8 126.4h0M82.1 129.1h0M54.9 179.2h0M51 171.1h0M52 161.9h0M55.9 180.2h0M96.2 126.5h0M52.1 173.3h0M73.8 134.8h0M63.2 141h0M87.1 126.7h0M50.7 170.3h0M59.2 150.1h0M103.3 118.7h0M86.7 128h0M59.9 147.2h0M87.3 128.2h0M58.7 148h0M57.9 190.5h0M61.1 147.7h0M90.9 125.5h0M81.1 131h0M60.3 144.4h0M52.3 161h0M52.8 163.6h0" stroke="#1EA9D3" stroke-width="2.3" stroke-linecap="round" fill="none"/>
<path d="M71.7 203.7h0M79 210.9h0M85.6 228.2h0M86.6 233.6h0M80.3 211.9h0M72.9 203.7h0M81.7 216h0M83 223.1h0M83.6 222.7h0M79 212.7h0M87.7 224.2h0" stroke="#3992D8" stroke-width="2.3" stroke-linecap="round" fill="none"/>
<path d="M133.4 237.1h0M134.8 239.7h0M163.4 204.7h0M154.5 219.9h0M156.8 210.2h0M174.7 188.7h0M148.5 224.8h0M139.3 236.2h0M162.2 202.4h0M154.5 218.7h0M135.7 244.4h0M164.4 201.3h0M144.7 227.7h0M152.9 202.3h0M173.2 188.4h0M201.2 177.7h0M133.2 241.8h0M166 199.3h0M171.6 181.6h0M171.3 187.3h0M188.2 182.4h0M145 228.4h0M154.3 217.9h0M136.9 235.2h0M137.8 237.2h0M143.1 233.2h0M133 244.5h0M165.9 200.9h0M200.3 178.1h0M142.5 232.7h0M179 179.7h0M156.4 215.4h0M144.3 226.8h0M161.4 209.8h0M166.2 198.5h0M154.4 214.9h0M169.6 190.7h0M167.3 194.5h0M138.1 233.7h0M162.4 199.6h0M149.6 219.3h0M172.7 183.8h0M134.8 234.3h0M164.7 197.6h0M151.5 219h0M178.5 186.2h0M151.5 222.6h0M149.6 226h0M160.3 203h0M162.6 203.1h0M164.5 187.2h0M182 151h0M183.5 150.9h0M182.7 151.1h0M184.2 152.6h0M185 152.9h0M184.7 152.7h0M185.5 154.1h0M185 154.3h0M185.9 155.6h0M185.8 156.2h0M187.8 156.6h0M188.3 156.9h0M187 156.9h0M188.6 157.6h0M188.6 158.6h0M189.8 159.4h0M190.5 159.6h0M189.3 160.6h0M191.2 160.4h0M190.5 162.2h0M192.2 161.4h0M191.1 163.1h0M192.9 163.3h0M192.3 163.2h0M193.4 163.8h0M194.1 165.3h0M193.4 165.9h0M195 166.6h0M195.7 167.2h0M196.1 167h0M195.2 167.6h0M196 168.5h0M195.9 169.1h0M197.3 169.4h0M196.7 169.7h0M197.3 171h0M199.3 171.1h0M198.3 171.7h0M198.4 172h0M199.7 172.8h0M199.3 174h0M200.2 174.2h0M201 175.6h0M200.9 175.3h0M202.8 175.9h0M202.7 176.9h0" stroke="#67AA30" stroke-width="2.3" stroke-linecap="round" fill="none"/>
<path d="M168 203h0M121.3 233.1h0M147 182.8h0M163.3 207.3h0M102.8 225.7h0M154.5 222.1h0M150.8 186.6h0M110.7 231.2h0M95.8 224.6h0M151.3 187.6h0M151.8 187.1h0M97.1 224.9h0M91.5 224h0M168.3 187.8h0M143.4 237.4h0M166.1 215h0M85.4 222.2h0M166.6 202.5h0M148.1 233.2h0M109.1 227.4h0M171.4 192.2h0M105.8 196.8h0M117.9 231.1h0M153.6 223.2h0M148.3 183.9h0M98.8 223.5h0M102.7 199.3h0M119.6 232.9h0M170.6 192.4h0M92.7 221.2h0M176 195.5h0M97 226.9h0M138.2 184.1h0M125 233.6h0M117 232.6h0M145.8 184.7h0M167.2 186.9h0M166.3 186.5h0M134.5 240.6h0M129.4 180.2h0M151.5 231h0M80.8 218h0M131.2 238h0M131 179.7h0M124.4 233.6h0M121.2 232.5h0M137.9 239h0M162.9 213.6h0M160.2 187.4h0M145 185.2h0M95.2 226.3h0M109.1 229.3h0M109.7 235.4h0M150.8 187.8h0M90.1 220.8h0M167.1 200.1h0M174.2 188.5h0M119.7 241.6h0M169.3 186h0M140.9 182.6h0M125.8 234h0M151.5 226.7h0M157.5 216.3h0M157.7 187.9h0M115.2 189.6h0M86.1 221.2h0M132.3 240.7h0M124.3 178.3h0M123.4 233h0M123.1 233.1h0M108.1 228h0M166.9 187h0M118.9 232.8h0M150.8 182h0M165.8 205.4h0M120.9 233h0M169.9 195.3h0M142.3 238.5h0M165.2 211.8h0M155.8 188.6h0M140 184.3h0M93.5 227h0M136.9 238.9h0M132.1 180.9h0M113 230.2h0M172.8 187.4h0M156.6 220.5h0M160.6 188.3h0M148.7 235.3h0M84 210.7h0M118.2 184.1h0M161.5 187.6h0M118.1 230.8h0M111.7 235.1h0M162.8 187.9h0M116.3 187.7h0M145.7 234.7h0M140.8 181.4h0M153 226.7h0M118.7 232h0M107.7 228.5h0M103.5 224.8h0M124.9 233.8h0M91.6 221.5h0M170.7 200.8h0M83.3 216.8h0M138.2 182.9h0M153.1 235.3h0M122.9 235.6h0M153.1 187.3h0M96.4 232h0M158.2 220.8h0M100 224.8h0M107.2 195.5h0M159.5 215.4h0M93.2 223.9h0M163.7 216.4h0M169.1 187.6h0M160.5 211.4h0M89.9 225h0M162.9 209.6h0M84.8 217.3h0M130.6 179.4h0M172.3 193.6h0M112.8 229.5h0M163.2 189.3h0M166.3 206h0M166.7 180.9h0M137.5 184.7h0M91.5 203.6h0M134.8 179h0M154.5 188.8h0M168.3 200.8h0M87.9 221.1h0M106.3 195.4h0" stroke="#A79B20" stroke-width="2.3" stroke-linecap="round" fill="none"/>
<path d="M105.5 224h0M116.9 229h0M116.2 228.5h0M125.4 231.8h0M81.6 227h0M106.9 223.4h0M86.2 216.3h0M113.9 227.4h0M120.9 230.1h0M121 230.2h0M132.7 235.1h0M86.9 217.7h0M120.1 228.2h0M81 222.3h0M101.3 223.3h0M89 219.5h0M86.9 217.5h0M91.2 218.9h0M83.4 229.5h0M108.6 224.5h0M103.4 222.8h0M136.6 246.2h0M138.2 244.1h0M84.5 231.8h0M108 222.3h0M108.7 224.3h0M117 229.1h0M81.1 229.5h0M115.1 228.7h0M138.4 242.7h0M118.1 228.7h0M102.5 223h0M139.3 239.3h0M118.8 226.6h0M121.8 229.9h0M121.3 230.4h0M81.9 225.7h0M135.2 241.4h0M85.5 232.8h0M118.2 227.3h0" stroke="#25B09B" stroke-width="2.3" stroke-linecap="round" fill="none"/>
<path d="M154 140.4h0M116.9 127.6h0M130.6 127.6h0M162 141.6h0M146.6 137.5h0M101.9 118.4h0M101.5 120.4h0M170.7 147h0M147.2 138.8h0M117.2 122.2h0M156.7 139.6h0M154.1 139.3h0M151.3 136.5h0M159.1 140.8h0" stroke="#2DAA5A" stroke-width="2.3" stroke-linecap="round" fill="none"/>
<path d="M120.3 156.3h0M195.4 199.6h0M179.6 187.2h0M201.2 182.6h0M133.3 184.6h0M104.7 124.5h0M202.1 183.4h0M202.1 180.7h0M205.9 199.8h0M136.1 127.3h0M178.9 190.3h0M182.3 191.9h0M198.6 188h0M181.2 193.9h0M189.6 183.5h0M185.9 185.1h0M184.1 194.3h0M149.4 128.4h0M102.2 159.3h0M172.3 192.2h0M152.6 198.3h0M163.3 197.7h0M149.2 193.4h0M171.9 197.9h0M137.5 195.7h0M151.1 188.6h0M172.2 132.9h0M139.2 189.6h0M170.2 138.3h0M152.6 190.1h0M203.1 178.7h0M147.1 131.6h0M198.3 192.1h0M114.4 119.4h0M150.7 190.9h0M186.5 185.7h0M173.7 198.8h0M183.6 206.6h0M153 189.9h0M199.6 184.5h0M134.6 193.7h0M134.6 186.1h0M134.5 185.8h0M181.8 197.4h0M194 185.3h0M163.6 191.6h0M149.9 117.3h0M135 193.7h0M195.6 188.6h0M140 197.8h0M141.8 129.6h0M139.2 129.7h0M130.5 118.7h0M169.2 190.9h0M124.6 195.4h0M142.8 187.8h0M147.1 195.6h0M161.8 119.4h0M141.6 187.8h0M139.8 190.4h0M147 188h0M103.7 137h0M192.5 209.9h0M118.1 177.6h0M182.6 186.3h0M116.3 150.1h0M140.9 189h0M164.3 193.6h0M190 187.2h0M160.1 129.9h0M148.6 126.3h0M170.1 197.9h0M114 138.5h0M168.5 135.8h0M151.8 193.1h0M176.1 196.5h0M163.4 192.2h0M152.2 136h0M133.4 125.3h0M143.3 189.5h0M168.4 190.5h0M154 122h0M186.7 206.7h0M164.3 193.2h0M134.3 185h0M157 137.9h0M150.2 134.1h0M146.1 195h0M192.8 191.4h0M116.9 145.8h0M124.1 186.8h0M120.7 184.7h0M166.9 130.9h0M173.7 143.5h0M131.3 183h0M156.9 197.7h0M195.2 182h0M155.6 127.2h0M186.1 190.9h0M191.8 194.4h0M189.1 193.1h0M117.7 189.5h0M177.3 189.4h0M144.8 188.1h0M137.4 123.5h0M161.5 207.8h0M114.1 114.9h0M124.8 117.5h0M139.3 123.7h0M140.7 187.8h0M186.5 193.1h0M172.3 131.4h0M188.5 197.8h0M179.4 202.7h0M137.3 192.1h0M132.5 126.5h0M172.7 130.8h0M179.4 194.5h0M178.7 189.4h0M141.2 117.8h0M190.5 184.7h0M128.5 115.8h0M147.5 198.8h0M126.7 121.3h0M174.4 192.3h0M154.2 201h0M127.7 121.3h0M127.7 192h0M133.9 197.7h0M178.3 188.8h0M132.1 183.9h0M124.8 120.4h0M200.5 186.9h0M180.5 187.5h0M126.2 180.3h0M140.9 187.2h0M129.8 193.1h0M167.7 192.4h0M165.9 192.9h0M173.6 139.7h0M201.5 190.2h0M165.5 191h0M193.3 202.4h0M195.3 183.2h0M146.4 193.9h0M131.2 192h0M145 193.6h0M185.2 185.4h0M137.3 190.6h0M120.1 163.8h0M137.5 119.3h0M172.2 195.3h0M128.3 124.9h0M121.2 187h0M164 192.9h0M131.9 194.1h0M142.6 191.9h0M199.3 181.4h0M116.8 120.5h0M193.2 200.7h0M200.6 180h0M163.7 201.4h0M137.3 209.1h0M202.8 180.3h0M186.9 186.9h0M157.5 200.7h0M168.8 191.2h0M113.2 145.7h0M127.7 170.6h0M192.2 182.6h0M194.3 182.8h0M129.4 189.5h0M177.4 192.2h0M165.5 132.7h0M159.9 133.1h0M175.7 189.6h0M138.9 185.5h0M195.5 185.3h0M162 194.9h0M187.4 189h0M154.8 195.1h0M149 190.6h0M162.9 195.9h0M144.3 202.8h0M140.1 222.4h0M148.9 207.8h0M140.4 197.5h0M153.6 217.7h0M115.2 218.3h0M129.6 185.1h0M119.6 197.2h0M149.8 199.8h0M112.6 194.1h0M163.2 192.3h0M112.6 215h0M151.1 219.6h0M166.5 192.6h0M120.9 229.5h0M125.8 197.6h0M138.3 194h0M130.1 183.6h0M118.6 187.6h0M152.4 206.1h0M114.7 219.1h0M149.1 213.2h0M149.6 196.5h0M117 200.9h0M131.9 184h0M90.5 213.5h0M153 191.3h0M140.8 192.8h0M134.7 216.4h0M138.2 223.6h0M131 193.8h0M128.1 212.3h0M128.8 220h0M140 212.8h0M150.9 219.2h0M115.7 195.1h0M150.9 191.3h0M134 192.4h0M129.8 209.6h0M137.3 206.6h0M124.5 227.8h0M99.7 217.6h0M103.5 201.5h0M131.5 228.5h0M179.3 206.3h0M182.7 194.4h0M176.7 198h0M160.8 204.8h0M179.9 185.2h0M184 199h0M159.7 214.3h0M178.5 187.6h0M178.3 193.8h0M186.3 184.2h0M182.4 188h0M164.4 207h0M164.3 213.5h0M183.3 199.6h0M202.1 180.1h0M174.1 205.2h0M169.3 199.7h0M197.6 194.7h0M161.3 205.8h0M163 211.5h0M176.2 188.5h0M188.5 181.3h0M167.5 203.7h0M181.9 194.9h0M187.9 197.9h0M181 194.1h0M173.5 199.3h0M179 184.5h0M192 197.7h0M153.8 217.8h0M165.6 207.8h0M172.2 194.8h0M195.8 182.4h0M184.9 188.6h0M163.8 213.9h0M173.2 207.2h0M180.6 192.2h0M184.3 199.8h0M184.1 194.8h0M203.6 189.8h0M188 193.7h0M203.2 182.3h0M194.7 187.3h0M196.6 193.2h0M121.8 234.9h0M104.6 235.8h0M126.8 241h0M118 236.4h0M102.9 234.2h0M121.1 234.1h0M97.2 224h0" stroke="#D48910" stroke-width="2.3" stroke-linecap="round" fill="none"/>
<path d="M93.7 207.6h0M94.2 208.2h0M95.1 207.1h0M108.9 201h0M118.2 137.2h0M113.1 132h0M114.1 196.2h0M135.2 171.9h0M133.2 172.5h0M104.3 206.5h0M100.3 208h0M109.7 118.1h0M126.4 149.7h0M67.3 133.9h0M122 145.4h0M131.9 167.2h0M112.4 130h0M133.5 184.7h0M76.6 128.5h0M115.7 137.4h0M95.7 213.9h0M107.7 121.5h0M125.4 156.3h0M122.8 182.2h0M105.4 120.9h0M128.4 180.1h0M43 168h0M59.4 140h0M97.3 120h0M116.6 132h0M107.7 123.5h0M53.8 193.6h0M125 184.7h0M120.7 188.3h0M80.9 216.9h0M112.6 128.6h0M116.4 135.6h0M116.6 134.7h0M125.2 181.7h0M125.4 158.2h0M124.1 153.1h0M85.8 219.1h0M125.9 158h0M50.7 159.6h0M105.7 199.2h0M103 200.7h0M105.1 199.5h0M129.1 176.4h0M126.5 163.8h0M50 174.9h0M130 160h0M116.6 140.5h0M67.2 136.5h0M108 197.7h0M118.3 129.7h0M102.5 201h0M128.7 178.7h0M52.5 154h0M95.2 212h0M103.6 203.7h0M124.7 156.5h0M77.8 129.3h0M98.1 119.2h0M120.6 146.1h0M127.7 158.2h0M49.2 182.7h0M99.2 208.6h0M104.6 205h0M110.8 194.6h0M54.8 146.7h0M65.3 200.9h0M108.7 123.9h0M135.4 167.6h0M103.8 117.6h0M104.9 120.8h0M127.1 179.3h0M131.1 154.8h0M100.7 205.7h0M101.1 118.9h0M127.1 156h0M88.2 210.9h0M95.4 208h0M113.3 123.2h0M126.4 161.4h0M116.6 189.3h0M115.1 135.2h0M86.9 212.2h0M120 146.3h0M128.2 183.3h0M125.8 142.7h0M83.8 214.3h0M60.6 141.4h0M77.8 128.8h0M118.3 142.2h0M102.5 201.4h0M81.9 126h0M104.4 208.2h0M111.1 117.1h0M117.4 189.1h0M128.3 157.2h0M132 170.6h0M128.1 175.8h0M118.7 188.6h0M121.8 191.8h0M95.7 208.6h0M126.7 183.6h0M130.8 179.3h0M126.1 160.3h0M98.4 212.5h0M123.8 154.4h0M78.9 213.7h0M102.4 204.5h0M119.2 186.8h0M131.3 168.8h0M107.8 196.9h0M78.1 219h0M104.9 119.3h0M127.5 165.6h0M127.4 185.6h0M97 214.6h0M110.4 125.1h0M51.4 153.3h0M109.6 125h0" stroke="#E8736C" stroke-width="2.3" stroke-linecap="round" fill="none"/>
<path d="M88.9 128.6h0M73.6 133.6h0M63.3 142.4h0M54.9 177.9h0M78.4 131.9h0M61.1 142.9h0M52.7 160.3h0M101.3 122.4h0M63.2 141h0M57.3 152.3h0M56.9 149h0M52.4 162.5h0M101.4 123.6h0M82.8 130h0M53.1 162.8h0M102 121.8h0M55.1 180h0M53.5 167.2h0M59.2 145.1h0M101.1 120.7h0M51.5 165.5h0M52.8 156.9h0M53.1 176.1h0M60.4 143.9h0M69.3 139h0M54.2 172.6h0M74.5 133.1h0M90.1 127.9h0M85.9 129.4h0M53.2 156.5h0M66.2 138.8h0M52.2 179.2h0M91.4 124.6h0M107.3 116h0M51.8 176.2h0M59 185.9h0M52.8 176.7h0M55 163.1h0" stroke="#1EA9D3" stroke-width="2.3" stroke-linecap="round" fill="none"/>
<path d="M84 224.4h0M87 232.7h0M77.8 211.9h0M82.3 220.4h0M73.6 206.3h0M84.3 226.7h0M82.9 223.1h0M90.4 235.4h0M83.2 224.2h0M87 232.4h0M81.8 220.2h0M84.2 223.7h0M84.8 221.5h0" stroke="#3992D8" stroke-width="2.3" stroke-linecap="round" fill="none"/>
<circle cx="43" cy="193.5" r="1.3" fill="#3992D8"/>
<circle cx="50.8" cy="193.5" r="1.3" fill="#3992D8"/>
<circle cx="130.3" cy="198.2" r="1.3" fill="#3992D8"/>
<circle cx="97.4" cy="249.2" r="1.3" fill="#25B09B"/>
<circle cx="119.5" cy="241" r="1.3" fill="#3992D8"/>
<circle cx="133" cy="250" r="1.3" fill="#3992D8"/>
<circle cx="125.5" cy="222" r="1.3" fill="#1EA9D3"/>
<path d="M30.6 104L30.6 257.2" stroke="#111" stroke-width="1.25" fill="none"/>
<path d="M30 256.6L222 256.6" stroke="#222" stroke-width="1.35" fill="none"/>
<path d="M28.6 111L30.6 111" stroke="#000" stroke-width="0.9" fill="none"/>
<text x="27.4" y="113.7" font-size="7.6" fill="#000" text-anchor="end">6</text>
<path d="M214.9 256.6L214.9 259.2" stroke="#000" stroke-width="0.9" fill="none"/>
<text x="214.9" y="266.7" font-size="7.6" fill="#000" text-anchor="middle">6</text>
<path d="M28.6 150.2L30.6 150.2" stroke="#000" stroke-width="0.9" fill="none"/>
<text x="27.4" y="152.9" font-size="7.6" fill="#000" text-anchor="end">3</text>
<path d="M166.9 256.6L166.9 259.2" stroke="#000" stroke-width="0.9" fill="none"/>
<text x="166.9" y="266.7" font-size="7.6" fill="#000" text-anchor="middle">3</text>
<path d="M28.6 189.4L30.6 189.4" stroke="#000" stroke-width="0.9" fill="none"/>
<text x="27.4" y="192.1" font-size="7.6" fill="#000" text-anchor="end">0</text>
<path d="M118.9 256.6L118.9 259.2" stroke="#000" stroke-width="0.9" fill="none"/>
<text x="118.9" y="266.7" font-size="7.6" fill="#000" text-anchor="middle">0</text>
<path d="M28.6 228.6L30.6 228.6" stroke="#000" stroke-width="0.9" fill="none"/>
<text x="27.4" y="231.3" font-size="7.6" fill="#000" text-anchor="end">−3</text>
<path d="M70.9 256.6L70.9 259.2" stroke="#000" stroke-width="0.9" fill="none"/>
<text x="70.9" y="266.7" font-size="7.6" fill="#000" text-anchor="middle">−3</text>
<text x="126.8" y="278.8" font-size="9.3" fill="#000" text-anchor="middle">UMAP 1</text>
<text x="15.4" y="175.2" font-size="9.3" fill="#000" text-anchor="middle" transform="rotate(-90 15.4 175.2)">UMAP 2</text>
<circle cx="225.7" cy="161.2" r="2.2" fill="#E8736C"/>
<text x="230.9" y="163.2" font-size="7.7" fill="#000">MG0</text>
<circle cx="225.7" cy="168.7" r="2.2" fill="#D48910"/>
<text x="230.9" y="170.7" font-size="7.7" fill="#000">MG1</text>
<circle cx="225.7" cy="176.1" r="2.2" fill="#A79B20"/>
<text x="230.9" y="178.1" font-size="7.7" fill="#000">MG2</text>
<circle cx="225.7" cy="183.6" r="2.2" fill="#67AA30"/>
<text x="230.9" y="185.6" font-size="7.7" fill="#000">MG3</text>
<circle cx="225.7" cy="191" r="2.2" fill="#2DAA5A"/>
<text x="230.9" y="193" font-size="7.7" fill="#000">MG4</text>
<circle cx="225.7" cy="198.5" r="2.2" fill="#25B09B"/>
<text x="230.9" y="200.5" font-size="7.7" fill="#000">MG5</text>
<circle cx="225.7" cy="206" r="2.2" fill="#1EA9D3"/>
<text x="230.9" y="208" font-size="7.7" fill="#000">MG6</text>
<circle cx="225.7" cy="213.4" r="2.2" fill="#3992D8"/>
<text x="230.9" y="215.4" font-size="7.7" fill="#000">MG7</text>
<rect x="210.2" y="29.3" width="106.3" height="97.1" fill="#fff" stroke="#b4b4b4" stroke-width="1.1"/>
<path d="M256.9 64.6C256.8 62.8 256.9 60.8 257.9 58.9C258.8 57 260.6 54.7 262.6 53.2C264.7 51.7 267.7 50.9 270.2 50C272.8 49 275.3 48.1 277.8 47.5C280.3 47 282.9 46.5 285.4 46.6C287.9 46.7 290.8 47.3 293 48.1C295.2 48.9 297.3 50.1 298.7 51.3C300.1 52.5 300.6 53.5 301.5 55.1C302.5 56.7 303.3 58.9 304.4 60.8C305.5 62.7 307.2 64.4 308.2 66.5C309.1 68.6 310 70.9 310.1 73.1C310.1 75.4 309.5 77.7 308.6 79.8C307.6 81.8 306 84 304.4 85.5C302.7 87 300.9 87.9 298.7 88.7C296.5 89.5 293.6 89.9 291.1 90.2C288.6 90.5 285.7 90.8 283.5 90.6C281.3 90.4 279.6 90.1 277.8 89.3C276.1 88.4 274.7 86.4 273.1 85.5C271.5 84.5 269.7 84.5 268.3 83.6C266.9 82.6 265.6 81.4 264.5 79.8C263.4 78.2 262.7 75.8 261.7 74.1C260.7 72.4 259.2 71.3 258.5 69.7C257.7 68.1 257 66.4 256.9 64.6Z" fill="#EA746D"/>
<rect x="254.7" y="44.3" width="56.9" height="48.4" fill="none" stroke="#E9605F" stroke-width="0.8"/>
<path d="M236.1 107.7C236.4 106.8 238.7 105.3 240.8 104.5C242.9 103.6 246.7 102.3 248.4 102.6C250.1 102.8 249.9 104.8 250.9 105.8C251.8 106.8 254.3 107.9 254.1 108.4C253.9 108.9 251.3 108.5 249.7 108.8C248.1 109.1 246.4 110.1 244.6 110.3C242.8 110.5 240.3 110.4 238.9 110C237.5 109.5 235.7 108.6 236.1 107.7Z" fill="#CF9017"/>
<path d="M253.1 108.3L256.9 110.1" stroke="#CF9017" stroke-width="0.6"/>
<path d="M219 81.1C219.3 81.3 219.9 83.2 220.1 84.5C220.4 85.9 220.6 87.9 220.5 89.3C220.4 90.6 219.9 92.2 219.4 92.5C218.9 92.8 217.8 92 217.5 91.2C217.1 90.3 217 88.6 217.1 87.4C217.2 86.1 217.7 84.6 218 83.6C218.3 82.5 218.6 81 219 81.1Z" fill="#6CA62F"/>
<path d="M221.3 85.5L224.3 86" stroke="#7FBF6A" stroke-width="0.5" stroke-linecap="round"/>
<path d="M223.7 37.5L230.4 34.2" stroke="#B58AD8" stroke-width="0.6" stroke-linecap="round"/>
<path d="M225.1 36.7L225.8 38.6" stroke="#B58AD8" stroke-width="0.5" stroke-linecap="round"/>
<path d="M261.7 95.5L264.5 98.8" stroke="#3F8FDD" stroke-width="1.2" stroke-linecap="round"/>
<path d="M266.4 95.5L264.1 98.8" stroke="#3F8FDD" stroke-width="1.0" stroke-linecap="round"/>
<path d="M262.3 98.2L266.4 98.2" stroke="#3F8FDD" stroke-width="0.8" stroke-linecap="round"/>
<path d="M256.9 110.7L260.7 115.8" stroke="#2EAF63" stroke-width="0.8" stroke-linecap="round"/>
<path d="M260.4 111.1L265.5 107.3" stroke="#2EAF63" stroke-width="0.8" stroke-linecap="round"/>
<path d="M259.2 113.4L261.1 116.8" stroke="#2EAF63" stroke-width="0.6" stroke-linecap="round"/>
<path d="M267.4 117.7L270.6 121" stroke="#D9A34A" stroke-width="0.7" stroke-linecap="round"/>
<path d="M285.4 110.1L289.2 112.6" stroke="#30B8C0" stroke-width="1.2" stroke-linecap="round"/>
<path d="M289.2 112.6L296.4 113.9" stroke="#1CA9C9" stroke-width="1.6" stroke-linecap="round"/>
<path d="M286.4 111.5L285 113" stroke="#E068B0" stroke-width="0.8" stroke-linecap="round"/>
<path d="M288.8 113L287.7 115.3" stroke="#E0A030" stroke-width="0.6" stroke-linecap="round"/>
</g>
<g id="panelB">
<text x="353.5" y="16" font-size="13.5" fill="#000" font-weight="bold" stroke="none">B</text>
<path d="M397.7 0L397.7 256.1" stroke="#000" stroke-width="1.3" fill="none"/>
<path d="M397.2 255.6L593.8 255.6" stroke="#000" stroke-width="1.3" fill="none"/>
<path d="M395 18.8L397.7 18.8" stroke="#000" stroke-width="0.9" fill="none"/>
<text x="392.6" y="21.1" font-size="7.8" fill="#000" text-anchor="end">MG7</text>
<circle cx="424.8" cy="18.8" r="4.8" fill="#8A63E9"/>
<circle cx="470.6" cy="18.8" r="4.6" fill="#B8A3E6"/>
<circle cx="516.4" cy="18.8" r="4.5" fill="#A587E6"/>
<circle cx="562.2" cy="18.8" r="3.0" fill="#A182E3"/>
<path d="M395 50L397.7 50" stroke="#000" stroke-width="0.9" fill="none"/>
<text x="392.6" y="52.3" font-size="7.8" fill="#000" text-anchor="end">MG6</text>
<circle cx="424.8" cy="50" r="4.9" fill="#4622F2"/>
<circle cx="470.6" cy="50" r="3.7" fill="#A98DE3"/>
<circle cx="516.4" cy="50" r="3.0" fill="#C6BADE"/>
<circle cx="562.2" cy="50" r="0.5" fill="#9070E8"/>
<path d="M395 81.2L397.7 81.2" stroke="#000" stroke-width="0.9" fill="none"/>
<text x="392.6" y="83.5" font-size="7.8" fill="#000" text-anchor="end">MG5</text>
<circle cx="424.8" cy="81.2" r="4.8" fill="#9269E8"/>
<circle cx="470.6" cy="81.2" r="4.7" fill="#B9A5E4"/>
<circle cx="516.4" cy="81.2" r="4.7" fill="#B39CE5"/>
<circle cx="562.2" cy="81.2" r="3.5" fill="#B7A2E3"/>
<path d="M395 112.4L397.7 112.4" stroke="#000" stroke-width="0.9" fill="none"/>
<text x="392.6" y="114.7" font-size="7.8" fill="#000" text-anchor="end">MG4</text>
<circle cx="424.8" cy="112.4" r="4.8" fill="#D3D3D5"/>
<circle cx="470.6" cy="112.4" r="3.8" fill="#7850EC"/>
<circle cx="516.4" cy="112.4" r="3.8" fill="#6038EE"/>
<circle cx="562.2" cy="112.4" r="0.9" fill="#4020F0"/>
<path d="M395 143.6L397.7 143.6" stroke="#000" stroke-width="0.9" fill="none"/>
<text x="392.6" y="145.9" font-size="7.8" fill="#000" text-anchor="end">MG3</text>
<circle cx="424.8" cy="143.6" r="4.8" fill="#8C62EA"/>
<circle cx="470.6" cy="143.6" r="4.8" fill="#8C64EA"/>
<circle cx="516.4" cy="143.6" r="4.8" fill="#6038EE"/>
<circle cx="562.2" cy="143.6" r="3.4" fill="#9A78E6"/>
<path d="M395 174.8L397.7 174.8" stroke="#000" stroke-width="0.9" fill="none"/>
<text x="392.6" y="177.1" font-size="7.8" fill="#000" text-anchor="end">MG2</text>
<circle cx="424.8" cy="174.8" r="4.8" fill="#966FE8"/>
<circle cx="470.6" cy="174.8" r="4.9" fill="#4F2AEF"/>
<circle cx="516.4" cy="174.8" r="4.8" fill="#7A52EA"/>
<circle cx="562.2" cy="174.8" r="4.3" fill="#7048EC"/>
<path d="M395 206L397.7 206" stroke="#000" stroke-width="0.9" fill="none"/>
<text x="392.6" y="208.3" font-size="7.8" fill="#000" text-anchor="end">MG1</text>
<circle cx="424.8" cy="206" r="4.8" fill="#8860EA"/>
<circle cx="470.6" cy="206" r="4.9" fill="#3F1EF0"/>
<circle cx="516.4" cy="206" r="4.8" fill="#5E38EE"/>
<circle cx="562.2" cy="206" r="3.4" fill="#8A60EA"/>
<path d="M395 237.2L397.7 237.2" stroke="#000" stroke-width="0.9" fill="none"/>
<text x="392.6" y="239.5" font-size="7.8" fill="#000" text-anchor="end">MG0</text>
<circle cx="424.8" cy="237.2" r="4.8" fill="#7448EC"/>
<circle cx="470.6" cy="237.2" r="4.8" fill="#7048EC"/>
<circle cx="516.4" cy="237.2" r="4.8" fill="#8C62EA"/>
<circle cx="562.2" cy="237.2" r="3.5" fill="#4C28F0"/>
<path d="M424.8 255.6L424.8 258" stroke="#000" stroke-width="0.8" fill="none"/>
<text x="424.8" y="265.8" font-size="8" fill="#000" text-anchor="middle">Cst3</text>
<path d="M470.6 255.6L470.6 258" stroke="#000" stroke-width="0.8" fill="none"/>
<text x="470.6" y="265.8" font-size="8" fill="#000" text-anchor="middle">Hexb</text>
<path d="M516.4 255.6L516.4 258" stroke="#000" stroke-width="0.8" fill="none"/>
<text x="516.4" y="265.8" font-size="8" fill="#000" text-anchor="middle">Tmem119</text>
<path d="M562.2 255.6L562.2 258" stroke="#000" stroke-width="0.8" fill="none"/>
<text x="562.2" y="265.8" font-size="8" fill="#000" text-anchor="middle">P2ry12</text>
<text x="599.6" y="67.8" font-size="9.4" fill="#000">Percent Expressed</text>
<circle cx="607" cy="77.2" r="0.9" fill="#000"/>
<text x="616.6" y="79.9" font-size="7.6" fill="#000">50</text>
<circle cx="607" cy="86.5" r="1.7" fill="#000"/>
<text x="616.6" y="89.2" font-size="7.6" fill="#000">60</text>
<circle cx="607" cy="95.9" r="2.4" fill="#000"/>
<text x="616.6" y="98.6" font-size="7.6" fill="#000">70</text>
<circle cx="607" cy="105.2" r="3.1" fill="#000"/>
<text x="616.6" y="108" font-size="7.6" fill="#000">80</text>
<circle cx="607" cy="114.6" r="3.9" fill="#000"/>
<text x="616.6" y="117.3" font-size="7.6" fill="#000">90</text>
<circle cx="607" cy="124" r="4.7" fill="#000"/>
<text x="616.6" y="126.7" font-size="7.6" fill="#000">100</text>
<text x="599.6" y="144.4" font-size="9.4" fill="#000">Average Expression</text>
<defs><linearGradient id="gB" x1="0" y1="0" x2="0" y2="1"><stop offset="0" stop-color="#3A18F6"/><stop offset="0.35" stop-color="#7C52EC"/><stop offset="0.7" stop-color="#AE94E2"/><stop offset="1" stop-color="#D3D3D3"/></linearGradient></defs>
<rect x="602" y="149.3" width="9.3" height="46.1" fill="url(#gB)"/>
<text x="616.2" y="159.1" font-size="7.6" fill="#000">1</text>
<text x="616.2" y="171.1" font-size="7.6" fill="#000">0</text>
<text x="616.2" y="182.7" font-size="7.6" fill="#000">−1</text>
<text x="616.2" y="194.9" font-size="7.6" fill="#000">−2</text>
</g>
<g id="panelC">
<text x="2.5" y="299.8" font-size="13.5" fill="#000" font-weight="bold" stroke="none">C</text>
<defs><clipPath id="clipC"><path d="M35.1 432.2C35.2 428.6 35.1 426.9 36.8 423.8C38.5 420.7 42.4 416.8 45.2 413.7C48 410.6 51.1 407.7 53.6 405.3C56.1 403 57.5 401.6 60.3 399.6C63.1 397.7 65.9 395.7 70.4 393.6C74.8 391.5 81 389.3 87.2 386.9C93.3 384.5 101.7 380.9 107.3 379.1C112.9 377.3 116.3 377 120.7 376.1C125.2 375.3 128.6 374.1 134.2 374.1C139.8 374.1 148.2 375 154.3 376.1C160.5 377.2 165.5 378.7 171.1 380.8C176.7 382.9 183.1 385.9 187.9 388.5C192.7 391.2 196.6 393.9 199.7 396.9C202.7 400 204.1 403.7 206.4 407C208.6 410.4 210.6 413.4 213.1 417.1C215.6 420.7 218.7 424.9 221.5 428.8C224.3 432.8 227.1 436.1 229.9 440.6C232.7 445.1 236 450.7 238.3 455.7C240.5 460.7 242.6 465.5 243.3 470.8C244 476.1 243.4 482.6 242.3 487.6C241.2 492.6 238.9 497.1 236.6 501C234.2 505 231.6 507.9 228.2 511.1C224.8 514.4 220.9 517.7 216.4 520.5C212 523.3 206.6 525.8 201.3 527.9C196 530 190.1 531.8 184.5 532.9C178.9 534.1 172.8 534.6 167.8 534.6C162.7 534.6 158.8 532.9 154.3 532.9C149.8 532.9 144.8 533.5 140.9 534.6C137 535.7 134.2 538.1 130.8 539.7C127.5 541.2 124 543.1 120.7 543.7C117.5 544.2 114.1 544.2 111.3 543C108.5 541.8 106.6 538.5 103.9 536.3C101.3 534.1 98.6 531.8 95.6 529.6C92.5 527.3 88.8 524.9 85.5 522.9C82.1 520.8 78.2 519.4 75.4 517.2C72.6 514.9 70.6 512.4 68.7 509.4C66.7 506.5 65.2 503 63.7 499.4C62.1 495.7 60.9 491.5 59.6 487.6C58.4 483.7 57.8 479.5 56.3 475.8C54.7 472.2 52.6 469.1 50.2 465.8C47.8 462.4 44.2 459.1 41.8 455.7C39.5 452.3 37.2 449.5 36.1 445.6C35 441.7 35 435.8 35.1 432.2Z"/></clipPath>
<filter id="blC" x="-10%" y="-10%" width="120%" height="120%"><feGaussianBlur stdDeviation="1.3"/></filter>
<filter id="rghC" x="-5%" y="-5%" width="110%" height="110%"><feTurbulence type="fractalNoise" baseFrequency="0.55" numOctaves="2" seed="3" result="n"/><feDisplacementMap in="SourceGraphic" in2="n" scale="5" xChannelSelector="R" yChannelSelector="G"/></filter></defs>
<g filter="url(#rghC)">
<g clip-path="url(#clipC)">
<rect x="25" y="365" width="230" height="190" fill="#DD6265"/>
<g filter="url(#blC)">
<path d="M48.5 407C51.9 405.2 56.7 401.9 60.3 403C63.9 404.1 67.6 410.3 70.4 413.7C73.2 417.2 73.4 421.6 77.1 423.8C80.7 426 88.3 425.8 92.2 427.2C96.1 428.6 99.5 429.7 100.6 432.2C101.7 434.7 101.7 439.8 98.9 442.3C96.1 444.8 88.6 445.6 83.8 447.3C79 449 73.7 450.1 70.4 452.3C67 454.6 63.7 457.7 63.7 460.7C63.7 463.8 70.9 468 70.4 470.8C69.8 473.6 63.4 477.5 60.3 477.5C57.2 477.5 55.3 473.6 51.9 470.8C48.5 468 43.8 464.7 40.1 460.7C36.5 456.8 31.8 452.9 30.1 447.3C28.4 441.7 28.4 432.8 30.1 427.2C31.8 421.6 37.1 417.1 40.1 413.7C43.2 410.4 45.2 408.8 48.5 407Z" fill="#FBAE33"/>
<path d="M63.7 460.7C63.7 457.7 67 454.6 70.4 452.3C73.7 450.1 79 449 83.8 447.3C88.6 445.6 97 441.4 98.9 442.3C100.9 443.1 97.5 449.3 95.6 452.3C93.6 455.4 89.7 457.7 87.2 460.7C84.6 463.8 83.2 468.1 80.4 470.8C77.6 473.5 73.8 475.7 70.4 476.9C66.9 478 59.6 478.5 59.6 477.5C59.6 476.5 69.7 473.6 70.4 470.8C71 468 63.7 463.8 63.7 460.7Z" fill="#F18A48"/>
<path d="M30.1 432.2C30.4 428.1 31.2 425.5 33.4 422.1C35.7 418.8 40.4 414.1 43.5 412C46.6 410 48.3 409.7 51.9 409.7C55.5 409.7 61.4 409.7 65.3 412C69.3 414.4 74.6 420 75.7 423.8C76.9 427.6 74.4 432.1 72.4 434.9C70.4 437.6 66.6 438.5 63.7 440.3C60.7 442 56.7 442.7 54.9 445.6C53.1 448.5 54.3 454.9 52.9 457.7C51.6 460.5 49.3 462.5 46.9 462.4C44.5 462.4 41 460 38.5 457.4C36 454.8 33.2 450.8 31.8 446.6C30.4 442.4 29.8 436.3 30.1 432.2Z" fill="#F7DF3A"/>
<path d="M103.9 383.5C106.7 380.8 112.3 375.7 117.4 373.4C122.4 371.2 128 370.4 134.2 370.1C140.3 369.8 148.2 370.6 154.3 371.8C160.5 372.9 166.1 374.8 171.1 376.8C176.1 378.7 180.1 381 184.5 383.5C189 386 194.3 388.8 198 391.9C201.6 395 206.9 400 206.4 402C205.8 403.9 198.8 404.5 194.6 403.7C190.4 402.8 186.2 398.3 181.2 396.9C176.1 395.5 170 395.3 164.4 395.3C158.8 395.3 152.4 397.2 147.6 396.9C142.8 396.7 140.3 394.1 135.8 393.6C131.4 393 125.5 393.5 120.7 393.6C116 393.7 110.7 394.9 107.3 394.3C103.9 393.6 101.2 391.3 100.6 389.6C100 387.8 101.2 386.2 103.9 383.5Z" fill="#F59642"/>
<path d="M133.5 371.8C136.6 370.4 148.3 372.1 154.3 373.4C160.3 374.7 167.6 377 169.4 379.5C171.2 382 167.9 386.5 165.1 388.5C162.3 390.6 156.7 391.9 152.6 391.9C148.6 391.9 143.7 390.2 140.9 388.5C138.1 386.9 137.1 384.6 135.8 381.8C134.6 379 130.4 373.2 133.5 371.8Z" fill="#F9D339"/>
<path d="M203 457.4C203.8 453.5 208.9 453.7 213.1 452.3C217.3 450.9 223.2 448.7 228.2 449C233.2 449.3 239.9 450.4 243.3 454C246.7 457.7 247.8 464.9 248.3 470.8C248.9 476.7 247.8 483.7 246.7 489.3C245.5 494.9 244.1 499.9 241.6 504.4C239.1 508.9 235.5 512.7 231.6 516.1C227.6 519.6 222.9 522.6 218.1 525.2C213.4 527.8 208.6 529.9 203 531.9C197.4 533.9 190.4 536.2 184.5 537.3C178.7 538.4 172.8 538.6 167.8 538.6C162.7 538.6 156.6 539.9 154.3 537.3C152.1 534.7 151.5 525.7 154.3 522.9C157.1 520.1 165.5 520.5 171.1 520.5C176.7 520.5 182 523.3 187.9 522.9C193.8 522.4 201.6 520.3 206.4 517.8C211.1 515.3 213.6 511.7 216.4 507.8C219.2 503.8 223.4 497.7 223.2 494.3C222.9 491 217.3 490.7 214.8 487.6C212.2 484.5 210 480.9 208 475.8C206.1 470.8 202.2 461.3 203 457.4Z" fill="#F18F47"/>
<path d="M221.5 460.7C224.6 458.2 235.9 456.8 239.9 459.1C244 461.3 245.1 468.7 245.7 474.2C246.2 479.6 245.1 486.6 243.3 491.6C241.5 496.7 238 502.7 234.9 504.4C231.8 506.1 226.2 504.5 224.8 501.7C223.4 498.9 227.1 492.2 226.5 487.6C226 483 222.3 478.6 221.5 474.2C220.6 469.7 218.4 463.3 221.5 460.7Z" fill="#F9A63A"/>
<path d="M120.7 511.8C121.6 510.9 129.7 511.8 134.2 512.8C138.6 513.8 144.2 516.1 147.6 517.8C151 519.5 153.1 519.6 154.3 522.9C155.5 526.1 157.2 534.5 155 537.3C152.8 540.1 144.9 538.5 140.9 539.7C136.9 540.8 134.2 542.6 130.8 544C127.5 545.4 121.3 550.7 120.7 548C120.2 545.4 126.1 532.9 127.5 527.9C128.9 522.9 130.3 520.5 129.1 517.8C128 515.1 119.9 512.6 120.7 511.8Z" fill="#F69D3E"/>
<path d="M65.3 511.1C66.5 508.9 72.9 508.5 77.1 507.1C81.3 505.7 86 502.6 90.5 502.7C95 502.8 98.9 506.2 103.9 507.8C109 509.3 116.5 510.1 120.7 511.8C124.9 513.5 128 515.1 129.1 517.8C130.3 520.5 128.7 523 127.5 527.9C126.2 532.8 124.5 544 121.4 547.4C118.3 550.7 112.5 549.3 109 548C105.5 546.8 103.4 542.2 100.6 539.7C97.8 537.1 95.3 535.2 92.2 532.9C89.1 530.7 85.8 528.3 82.1 526.2C78.5 524.1 73.2 523 70.4 520.5C67.6 518 64.2 513.3 65.3 511.1Z" fill="#F8DE3A"/>
<path d="M177.8 392.9C180.9 392.5 193.6 392.3 199.7 396.3C205.7 400.2 210 410.8 214.1 416.4C218.2 422 219.9 423.3 224.2 429.8C228.5 436.4 240.3 451.9 239.9 455.7C239.6 459.5 225.8 452.5 222.1 452.7C218.5 452.8 218.1 458.2 218.1 456.7C218.1 455.3 222.1 448.3 222.1 443.9C222.1 439.6 219.9 435 218.1 430.5C216.3 426 214.8 421.3 211.4 417.1C208 412.9 203 408.4 198 405.3C192.9 402.3 184.5 400.7 181.2 398.6C177.8 396.5 174.7 393.3 177.8 392.9Z" fill="#D7586E"/>
<path d="M102.3 432.2C103.6 428.3 104.2 423.5 107.3 420.4C110.4 417.4 116.5 416.5 120.7 413.7C124.9 410.9 128 406.3 132.5 403.7C137 401 142.3 398.7 147.6 397.6C152.9 396.5 158.8 396.8 164.4 396.9C170 397.1 175.6 397.2 181.2 398.6C186.8 400 192.9 402.3 198 405.3C203 408.4 208 412.9 211.4 417.1C214.8 421.3 216.4 426 218.1 430.5C219.8 435 221.5 439.8 221.5 443.9C221.5 448.1 220.6 452.9 218.1 455.7C215.6 458.5 209.2 457.7 206.4 460.7C203.6 463.8 201.9 469.1 201.3 474.2C200.8 479.2 203.3 485.9 203 491C202.7 496 202.2 500.8 199.7 504.4C197.1 508 192.1 510.8 187.9 512.8C183.7 514.7 178.9 515.3 174.5 516.1C170 517 165.5 517.8 161 517.8C156.6 517.8 152.1 517.2 147.6 516.1C143.1 515.1 138.6 512.7 134.2 511.8C129.7 510.8 125.8 511.2 120.7 510.4C115.7 509.7 109 508.5 103.9 507.1C98.9 505.6 94.4 504.1 90.5 501.7C86.6 499.3 81.6 496.7 80.4 492.6C79.3 488.6 82 482.3 83.8 477.5C85.6 472.8 89.4 468 91.2 464.1C93 460.2 93.2 457.4 94.5 454C95.9 450.7 98 447.6 99.2 443.9C100.5 440.3 100.9 436.1 102.3 432.2Z" fill="#C4417F"/>
<path d="M102.3 440.6C104.2 436.7 108.1 430.5 112.3 427.2C116.5 423.8 123.3 423.8 127.5 420.4C131.7 417.1 133.1 410.5 137.5 407C142 403.5 148.7 400.6 154.3 399.6C159.9 398.6 166 399.2 171.1 401C176.3 402.8 181.2 406.8 185.2 410.4C189.2 413.9 192.3 417.9 195.3 422.1C198.3 426.3 201.7 431.4 203.3 435.6C205 439.8 205.8 443.6 205.4 447.3C204.9 451.1 202.2 454.1 200.7 458.1C199.1 462 197.3 465.9 196.3 470.8C195.3 475.7 196 482.3 194.6 487.6C193.2 492.9 191.3 499.1 187.9 502.7C184.5 506.4 179.5 508.6 174.5 509.4C169.4 510.3 163.3 508.6 157.7 507.8C152.1 506.9 147 505 140.9 504.4C134.7 503.8 127.5 504.4 120.7 504.4C114 504.4 105.9 505.2 100.6 504.4C95.3 503.6 90.2 502.2 88.8 499.4C87.4 496.6 90 491.8 92.2 487.6C94.4 483.4 100 478.6 102.3 474.2C104.5 469.7 105.9 464.7 105.6 460.7C105.3 456.8 101.2 454 100.6 450.7C100 447.3 100.3 444.5 102.3 440.6Z" fill="#952AA0"/>
<path d="M120.7 438.9C123.3 433.9 126.3 430.5 130.8 427.2C135.3 423.8 142 420.4 147.6 418.8C153.2 417.1 158.8 416.5 164.4 417.1C170 417.6 176.4 419.6 181.2 422.1C185.9 424.6 190.4 428 192.9 432.2C195.5 436.4 196.6 442 196.3 447.3C196 452.6 193.2 459.1 191.3 464.1C189.3 469.1 187.3 473.3 184.5 477.5C181.7 481.7 178.4 486.5 174.5 489.3C170.5 492.1 166.1 493.8 161 494.3C156 494.9 149.3 494 144.2 492.6C139.2 491.2 134.7 489 130.8 485.9C126.9 482.8 123.3 478.9 120.7 474.2C118.2 469.4 115.7 463.3 115.7 457.4C115.7 451.5 118.2 443.9 120.7 438.9Z" fill="#7720A8"/>
<path d="M127.5 442.3C128.7 437.8 131.9 436.4 135.8 433.9C139.8 431.4 145.6 428.3 151 427.2C156.3 426 162.7 426 167.8 427.2C172.8 428.3 177.9 430.8 181.2 433.9C184.4 437 186.6 441.2 187.2 445.6C187.9 450.1 186.8 456.3 185.2 460.7C183.6 465.2 181.3 469.4 177.8 472.5C174.4 475.6 169.1 478.1 164.4 479.2C159.6 480.3 154 480 149.3 479.2C144.5 478.4 139.4 477.2 135.8 474.2C132.3 471.1 129.5 466.1 128.1 460.7C126.7 455.4 126.2 446.7 127.5 442.3Z" fill="#4511A0"/>
<path d="M135.8 450.7C136.7 446.9 139.5 444.1 142.6 442.3C145.6 440.5 150.4 439.9 154.3 439.9C158.2 439.9 163.2 440.2 166.1 442.3C169 444.3 171.2 448.4 171.8 452.3C172.3 456.3 171.5 462.4 169.4 465.8C167.4 469.1 163.3 471.4 159.4 472.5C155.4 473.6 149.6 473.8 145.9 472.5C142.3 471.2 139.2 468.4 137.5 464.8C135.8 461.1 135 454.4 135.8 450.7Z" fill="#2D0C90"/>
</g>
<path d="M78.5 475.7h0M212.3 431.4h0M73.2 454.2h0M179.8 511.8h0M87.3 401.9h0M198.4 483.5h0M230.2 499h0M137.7 428.1h0M255.7 447.7h0M105.6 403.4h0M170.8 482.1h0M112.2 451.7h0M170.3 497.6h0M218.6 468h0M61.1 486.3h0M69.8 449.3h0M67.6 457.5h0M97.6 469.4h0M258.6 456.1h0M197.5 397.4h0M130.3 496.3h0M141.2 489.3h0M157.5 405h0M187 414.8h0M244.5 436.7h0M201.3 457.5h0M209.5 427h0M214.5 450.9h0M223.5 486.8h0M160.7 413.2h0M201.6 482.7h0M239 440.8h0M190 486.7h0M182.7 476.5h0M164.9 419.7h0M87.9 437.2h0M183.2 524.9h0M206.7 506.7h0M199.8 493.4h0M163.6 501h0M243.1 443.4h0M117.7 534.4h0M166.5 508.1h0M200.9 404.2h0M237.6 509.2h0M163.3 500.4h0M159.3 409.5h0M139.4 489.1h0M216.4 491.5h0M154.4 522h0M103.8 497.7h0M219 442.7h0M63.3 421h0M169.9 492h0M230.4 415.1h0M151.1 497.4h0M144.1 372.6h0M185.3 538.2h0M209.3 413.7h0M113.5 473.9h0M253.1 478.2h0M157.3 528.1h0M146.8 535.3h0M104.6 431h0M190.5 521.5h0M197.9 475.1h0M60.4 428.3h0M109.2 427.5h0M194.3 437.1h0M205.3 462h0M113.8 468.2h0M178.6 502.8h0M110.9 441.4h0M86.2 519.9h0M233.3 449.1h0M122.9 398h0M174.8 481.2h0M251.8 466.7h0M119 375.1h0M231.7 466.3h0M63.2 465.4h0M105.7 537.7h0M217.6 485.3h0M142.7 375.1h0M144 386.8h0M178.3 377h0M100.2 513.3h0M231 410.2h0M70.5 495.2h0M201.2 409.7h0M106.5 420.9h0M82 425h0M222.5 489.7h0M250.1 454h0M142.3 405.9h0M143.7 394.2h0M61.4 486.2h0M228.6 494.4h0M228.5 469.4h0M99.5 462.5h0M128.2 402h0M74.1 402.2h0M149.6 486.7h0M124.3 523.1h0M164.9 494.5h0M220 419.3h0M57.5 486.7h0M112.1 518.1h0M172.1 509h0M186 379.1h0M197 422h0M100.6 433.6h0M197.7 501.5h0M201.4 389.5h0M125.8 374.3h0M143 495.7h0M98.5 471.2h0M165.6 509.5h0M101 416h0M112.5 529.7h0M218.6 451.1h0M184.2 471.2h0M177.5 435h0M131.3 396.6h0M117.3 528.3h0M195.6 461.8h0M115.6 465.8h0M176.1 419.7h0M175.3 481.8h0M104.4 417.2h0M94.3 407.9h0M188 376.8h0M131.1 420.1h0M103.5 463.5h0M220.3 461.2h0M140.2 419h0M142.5 506.3h0M127.2 400.8h0M83.1 408.7h0M78.2 504.6h0M185.4 438.5h0M230.9 427.8h0M197.6 498.1h0M79.5 398.4h0M96.2 501.2h0M218.6 404.8h0M215.6 438h0M121.9 424h0M134.3 380.9h0M95.9 401.7h0M174 537.8h0M256.5 446.7h0M60.7 439.9h0M107.5 532.5h0M188.2 418.4h0M209.3 484.8h0M64.4 434.2h0M114 459.8h0M165.4 427.1h0M165.6 420.2h0M103.9 522.7h0M180.1 486.4h0M63.6 449.9h0M196.7 398.3h0M217.8 437.9h0M190.2 446.7h0M164.1 516.6h0M128.9 527.4h0M103.9 411.4h0M193.1 405.6h0M127.2 505.1h0M207.7 389.1h0M176.1 534.3h0M222.8 445.5h0M106.4 439.3h0M81 444.2h0M121.7 438.7h0M222.3 446h0M75.1 502.2h0M85.6 435h0M136.5 427h0M87.7 444.5h0M249.6 434.9h0M142.6 514h0M197.5 496.5h0M191.4 381.7h0M93.4 464.4h0M179.8 518.7h0M190.6 440.9h0M157.7 427.8h0M168.7 497.1h0M128.4 413.1h0M101.6 509.3h0M220.8 501.7h0M202.8 498.7h0M150.8 497.9h0M85.3 447h0M104.7 495h0M105.1 450.4h0M173.9 521.1h0M103.5 411.2h0M198.3 404.8h0M183.3 424h0M145.5 380.3h0M198.5 430h0M110.3 534.4h0M172.4 544.1h0M185 433.5h0M156.8 529.4h0M148.5 491.8h0M183.4 410.5h0M161.9 422.3h0M81.3 497.4h0M200.3 461.9h0M109.1 381.5h0M193.5 450.4h0M60.7 454.7h0M65.9 456.2h0M166 487.9h0M180.6 476.5h0M82.2 438.4h0M109.5 441.7h0M170.9 494.9h0M208.6 383.2h0M188.6 442.1h0M247.6 489.9h0M62.7 475h0M118.9 507.6h0M84.9 452.2h0M122 439.9h0M121.7 381.9h0M179.5 508.1h0M146.6 404.5h0M166.9 493.7h0M114.9 455h0M224.2 409.7h0M123.5 380.4h0M106.6 418.9h0M92.8 422.9h0M244.2 449h0M145.7 540.5h0M147.8 382.2h0M176.5 408.7h0M230 408.1h0M120 387.2h0M157.1 404.6h0M144.1 424.9h0M113.2 505h0M211.8 460.7h0M99.1 406.8h0M162.6 542.1h0M120.9 415.1h0M109.8 404.4h0M88.9 446.6h0M232.8 457.3h0M123.6 386.5h0M187.3 453.6h0M84.4 409h0M148.3 510.1h0M197.8 470h0M121 481.7h0M150.4 540.3h0M82.4 439.1h0M225.8 444.5h0M232.5 455.3h0M165.8 426.4h0M77 414.7h0M249.8 481h0M188.2 505.4h0M185.6 508.4h0M120.9 436.7h0M212.8 439.2h0M73.4 446.6h0M113.9 491.6h0M108.3 405.9h0M132.7 527.4h0M140.7 485.7h0M152.2 488.6h0M200.9 518.9h0M73.5 509.9h0M150.6 425.7h0M254.6 451.4h0M241.5 494.3h0M87.8 481.9h0M203 450.1h0M48.7 445h0M139.2 401.5h0M244.7 447.1h0M116.4 435.8h0M102.5 418h0M162.1 487.9h0M107.6 451h0M72.5 481.5h0M98.9 469.6h0M93.9 430.8h0M163.9 397.8h0M255.5 456.1h0M145.8 414.6h0M226.6 511.3h0M168.2 392.8h0M116.2 492.2h0M120.7 400h0M82.8 421.1h0M152 417.3h0M151.7 544.7h0M236.5 416.3h0M189.2 465.3h0M142.3 511.1h0M120.6 433h0M112 448.8h0M223.2 493.1h0M74 436.6h0M102.1 498.4h0M165.7 505.2h0M147.8 378.5h0M190 473.5h0M180.2 395.9h0M156.9 416.2h0M103.1 477.6h0M173.7 410.1h0M90 385.1h0M116.7 512.1h0M148.5 373.6h0M95.3 479.7h0M232 503.8h0M187.1 473.3h0M86.2 434.7h0M128.5 414.6h0M157.4 424.6h0M170 523.9h0M200.8 480.4h0M137.6 388h0M141.6 493.8h0M95.8 513.6h0M121.9 484h0M131.6 396.6h0M241.3 415.8h0M208.3 428.9h0M169.7 413h0M124.5 505.3h0M242.9 424.6h0M151.6 507.7h0M110.1 495.1h0M100.8 489h0M176.8 516.1h0M172.7 399h0M190.3 404h0M191.2 523.8h0M191.7 426.4h0M222.9 465.7h0M77.5 440.2h0M231.7 443.2h0M164.2 426.7h0M62.4 435.4h0M186.3 474.3h0M142.8 375.1h0M221 491.2h0M206.3 515h0M119.6 422.4h0M167.7 530.6h0M61 447.3h0M104 487.5h0M233.4 443.7h0M76.8 459.8h0M135.2 387.5h0M206.9 430.3h0M189.5 396.5h0M207.8 396.1h0M201.2 386.6h0M229.8 439.8h0M65.1 446.7h0M172.2 406.3h0M110.9 475.3h0M145 369.5h0M117.4 484.7h0M169.6 509.3h0M123.3 541.1h0M204.5 474.5h0M212.8 502h0M158.8 418.5h0M214.3 478.8h0M63.4 415.5h0M192.8 465.4h0M171.3 495.6h0M159 528.7h0M108.5 433.8h0M173 499.2h0M193.2 522.8h0M122.6 514.3h0M179.6 405h0M144.4 539h0M202.4 432.1h0M50.7 432.2h0M100.1 462h0M250.1 483.6h0M171 408.3h0M79.4 447.1h0M134.5 544.3h0M122.2 421.5h0M220.3 461.3h0M86.5 512.6h0M132.8 394.1h0M176.5 489.2h0M127.4 497.2h0M200.5 413.7h0M80.9 390.5h0M143.3 517.8h0M204.3 518.1h0M245.9 458h0M204.9 393.3h0M198.5 479.6h0M142.2 423.6h0M82.3 464.5h0M225.8 439.8h0M186.7 420.8h0M167 405.4h0M187 440.3h0M174.1 420.9h0M80.3 441.2h0M203.5 523h0M129.3 501.2h0M201.9 479h0M65.6 472h0M96.8 511.3h0M201.2 489.6h0M48.4 478h0M190.7 397.9h0M213.3 461.4h0M137.9 415.8h0M88 435.4h0M258.1 463.2h0M166.3 418.3h0M109.1 426.7h0M98 500.3h0M133.2 504.1h0M85.8 500.4h0M149 498h0M144.1 409.3h0M222.6 436.3h0M141.3 409.5h0M170.3 427.1h0M177.5 484h0M112.9 393.5h0M178.4 505.1h0M191.6 402.5h0M194.5 480h0M175.2 487.5h0M117.4 475.6h0M209.1 431.4h0M68.9 452.5h0M161 380h0M106.3 489.3h0M120.2 472.9h0M81.1 498.6h0M243 448.8h0M108.5 402.3h0M209.7 463h0M105.8 514h0M200.1 489.1h0M58.6 452.9h0M187.2 399.2h0M200.5 519.9h0M212.5 422.2h0M108 504.3h0M205.7 512.9h0M223.4 452.4h0M130.2 380.5h0M184.8 538h0M116.5 428.3h0M196.8 479h0M74.8 424.8h0M101.9 531.5h0M106.7 500.6h0M226.4 518.5h0M217.5 519.7h0M77.8 440.6h0M100.5 440.9h0M241.4 409.9h0M183.4 398.4h0M219.3 511.8h0M126.8 537.4h0M155.4 520.3h0M174.5 422.6h0M112.2 447.5h0M198.1 465.3h0M254.2 450.5h0M119.7 417.9h0M108.8 393.3h0M93.4 500.8h0M163 429.4h0M172.5 511.3h0M190.3 497.9h0M107.8 440.8h0M97.1 451.9h0M97 437.2h0M127.2 433.3h0M129.3 424.5h0M227.2 441h0M87.1 467.4h0M90.2 408.3h0M155.5 383.8h0M43.8 465.2h0M202.2 389.5h0M94.9 487h0M58.4 424h0M78.6 447.6h0M59 491.6h0M134.2 486.3h0M135.6 375.8h0M142.1 393.3h0M151.6 410.4h0M117.6 439.2h0M198.9 496.5h0M87 456.5h0M232.2 479.9h0M99.2 450.3h0M128.8 506.5h0M154.5 490h0M240.5 411.6h0M101.3 387.9h0M83.5 492.9h0M113.7 503.7h0M77.4 468.6h0M132.1 495.3h0M123.1 493.1h0M109.5 480.7h0M109.5 492.7h0M106.4 485.4h0M132.2 465.1h0M97 488.8h0M104.8 478.7h0M142.6 486.7h0M102.3 496.3h0M149.3 465.4h0M98.3 482.5h0M98.8 511.3h0M117.4 475.3h0M116.8 469.7h0M99.3 482.4h0M147.2 449.4h0M115.7 499.8h0M120.8 507.8h0M116.2 482.9h0M106.9 468.9h0M135.1 464.3h0M107 473.6h0M96.4 449.8h0M102.9 482.8h0M111.3 492.7h0M106.4 471.9h0M113.9 490.2h0M94.5 459.6h0M92.6 495.7h0M125 468.5h0M110.8 492.6h0M130.2 471.7h0M105.1 500.6h0M147.6 502.3h0M90.7 487.2h0M104.2 480.1h0M98.4 474.2h0M108.8 506.1h0M120.2 486.9h0M109.4 470.4h0M105.3 498.2h0M122.3 508.4h0M113.2 480.6h0M83.1 486.5h0M81.4 502.2h0M98.9 480.9h0M87.4 473.9h0M94.1 496.7h0M113 464.4h0M78.1 479.9h0M101.2 465.3h0M118.4 478.3h0M110.8 472.6h0M99.9 474.4h0M83.3 489.7h0M115.4 456.8h0M110.6 497h0M112.8 499h0M104.7 480.9h0M88.2 468.2h0M79.8 468.4h0M112.9 488.2h0M127.6 482.7h0M93.1 486.9h0M106.7 505.9h0M140.3 494.3h0M90.8 473.5h0M112 470.9h0M117.4 490.5h0M122.4 484.1h0M94.8 469.1h0M107 499.5h0M134.2 494.6h0M114.8 490.3h0M122.1 499h0M122.7 459.4h0M124.2 486.3h0M101.6 488.2h0M113.6 480.1h0M82 482.4h0M117.9 480.2h0M83.6 487.3h0M120.5 483.4h0M115.8 476h0M98.5 488.2h0M103.3 483.4h0M161.1 490.9h0M111.2 458.2h0M110.5 491.5h0M97.7 477.6h0M72.9 488.7h0M99.5 490.5h0M130.8 478.6h0M124.7 484.4h0M105.7 477h0M95.4 498.9h0M123.1 466.8h0M122.5 470.7h0M84.9 497.7h0M88.5 497.5h0M112.2 493.5h0M117.2 497.1h0M114.5 489h0M113 496.2h0M102.7 495.1h0M133.1 480h0M116 473.7h0M104.4 484.5h0M103.5 468.5h0M108.5 483.6h0M114.2 490.8h0M80.6 500.7h0M106.2 470.1h0M103 487.1h0M122.9 475.8h0M111.5 458.5h0M111.7 479.3h0M102.1 493.3h0M137.7 495.3h0M96.5 502.3h0M103.6 480.3h0M99.7 487.3h0M117.8 482.9h0M105.6 478.9h0M102.6 494.5h0M100.7 478.8h0M105.6 470.4h0M105.3 460.4h0M115.5 488.5h0M104.2 502.6h0M95.9 488.6h0M116.6 473.4h0M105.1 493.3h0M110 484.8h0M131.3 483.9h0M82.3 470.6h0M122.3 479.1h0M91.8 453.3h0M114.1 501.8h0M89 450.7h0M116.9 473.4h0M104.3 476.4h0M94.6 487h0M123.6 486h0M100.1 495.4h0M107.2 489h0M94.1 490h0M120.8 498.8h0M109.4 487.1h0M99.8 493.2h0M121.3 495.9h0M102.9 463.9h0M107.9 478h0M97.2 489.3h0M124 486.4h0M126.6 486.4h0M93.5 472.8h0M103.4 490.4h0M123.6 482.8h0M125.1 469.5h0M107.2 501.6h0M116 495.4h0M79.2 457.8h0M95.4 494.8h0M134.7 472.4h0M93.5 466.9h0M94.9 488.6h0M104.1 506.9h0M120.4 471.5h0M112.7 478.8h0M121.5 493.4h0M103.5 493.2h0M118 479.7h0M113.1 490.3h0M104 471.6h0M129 481h0M99.7 487.3h0M85.8 481.7h0M87.6 475.1h0M81 471h0M123.1 478.4h0M89.9 504.9h0M99.1 501.4h0M100.8 460.8h0M138.1 475h0M121 497.3h0M88.4 481.9h0M100 489.3h0M108.9 463.6h0M110 491.5h0M104.4 488.7h0M100.7 480.3h0M114.6 482.9h0M129 494h0M122.3 490.9h0M111.5 465h0M125.7 504.8h0M112.6 477.5h0M108.5 497.5h0M113.6 467.5h0M106.4 470.5h0M105.9 468.7h0M95.4 501.3h0M125.5 458.9h0M93.7 474.9h0M103 462h0M123 458.9h0M120 490.5h0M103.4 472h0M110 483h0M76.3 463.8h0M117.4 479.5h0M102.6 467.4h0M98.1 470.5h0M152.8 463.8h0M133.1 487.6h0M112.5 483.7h0M103.2 503h0M117.1 480.6h0M107.2 483.7h0M91.3 476.6h0M99.4 489.5h0M118.5 455.5h0M105.6 494.5h0M88.9 464.8h0M124.8 479.2h0M102.1 464.4h0M111.8 473.4h0M112.4 486.8h0M120.1 476.6h0M100.9 481.4h0M107.6 483.4h0M100.8 477.7h0M99.9 472.9h0M111.6 496.8h0M100.7 489h0M114.5 482.5h0M119.7 473.4h0M117.9 485.1h0M54.5 485.9h0M118.5 507.8h0M92.5 482.3h0M114.6 467.7h0M127.9 487.2h0M96.6 464.6h0M102.6 513.5h0M142.9 447.1h0M80.6 490.2h0M107.4 472.3h0M118.6 482.3h0M113.6 484.6h0M92.1 499h0M101.9 496.5h0M120 481.5h0M111.3 480.4h0M80.2 476.5h0M188.1 400.9h0M163.6 416.8h0M192.9 401.3h0M188.5 410.1h0M195.1 408.5h0M179.8 406h0M184.9 409.7h0M174.3 408.4h0M173 414.1h0M169.4 401.2h0M170.3 416.8h0M176.1 414.2h0M192 407.4h0M192.3 413.4h0M182.1 406.2h0M181.8 402.8h0M179.1 407h0M188.2 412.4h0M174.4 415.5h0M197.9 410.8h0M173.1 413.4h0M151.3 406.9h0M190.1 422.2h0M173.1 419.4h0M212.4 421.5h0M152.4 416.9h0M185.1 416.4h0M180.3 406.8h0M179.7 419.3h0M193.4 408.7h0M187.5 415.5h0M189.9 410.1h0M174.1 406h0M177 407.1h0M162.3 402h0M193.9 403.7h0M165.7 410.1h0M201.2 417.9h0M177.3 404.2h0M175.7 405h0M175.5 413.2h0M168.9 405.7h0M179.2 410.2h0M172.7 405.7h0M168 405.9h0M189.3 408.9h0M142.4 414.1h0M181.7 405.2h0M179.3 392.3h0M161.2 417.3h0M210.1 423.4h0M173 410.6h0M192.6 403h0M205.1 406.1h0M187.1 403.5h0M187.3 410.3h0M196.6 403.5h0M182.4 421.3h0M167.1 412.5h0M188.2 407.4h0M179.1 418.8h0M197.3 413.8h0M186 403.6h0M183.7 421.1h0M196.2 402.2h0M155.6 406.4h0M184.7 407.1h0M178.5 412.4h0M194.2 411.6h0M198.8 401.8h0M188.6 412.9h0M163.2 417.9h0M161.8 401.7h0M217.3 418.1h0M187.4 418.5h0M197.5 403.6h0M188.8 418.8h0M180.5 410.8h0M176.5 414.8h0M175.3 406.8h0M166.6 404.8h0M185.4 413.2h0M177.5 404.1h0M187 412.5h0M199.2 407.4h0M177.2 413.5h0M202.5 410.1h0M181.5 404.7h0M177.6 416.1h0M193.7 417.1h0M161.1 415.4h0M170.4 414h0M151.6 409.8h0M171 418.1h0M184.1 418.2h0M176.8 422.3h0M176.7 421.8h0M176.2 404.4h0M194.3 408h0M181.8 402.2h0M178 411.1h0M173.3 412.7h0M152.4 415.8h0M177.2 419.3h0M177.9 406.4h0M176.6 412.1h0M190.4 407.6h0M172.1 413h0M193.4 399.8h0M168.8 406.3h0M205 417.8h0M193 413.4h0M167.8 417.2h0M176.7 405.6h0M208 401.6h0M200.7 411.6h0M170.4 411.5h0M171.5 411.5h0M174.1 403.2h0M217.5 407.3h0M195.5 410.1h0M191.5 402.7h0M168.8 390.5h0M195.8 413.1h0M167.1 415.5h0M190.4 428.2h0M185.7 415.9h0M190.6 415.1h0M182.2 407.9h0M191.9 417.9h0M167.2 403.5h0M182 421.3h0M179.8 400.1h0M193.2 415h0M208.2 411.5h0M208.5 406h0M194.5 411.2h0M166.9 408.7h0M200.1 417.2h0M177.6 417.1h0M194.5 415.9h0M186.4 412.2h0M171.7 410h0M184.2 405.9h0M178.8 411.4h0M185.4 416.8h0M169.1 408h0M186.1 408.1h0M187 407.6h0M198.1 409h0M167.6 414.9h0M204.5 398.7h0M180.9 410.8h0M196.2 419.5h0M180.5 400.9h0M191.4 416.5h0M188.7 410.9h0M171.9 425.2h0M166.8 401.3h0M195.5 412.1h0M191.4 412.6h0M204.8 419.1h0M175.4 416.5h0M167.1 400.1h0M198.4 407.8h0M154.4 410.3h0M173.9 413.5h0M181.9 405.7h0M173.2 415.1h0M170.4 411.2h0M169.6 413.1h0M206 413.9h0M197.3 413.1h0M170 408.6h0M183.5 413.1h0M174.7 414.1h0M173.2 410.8h0M182.5 403.4h0M195.8 410.7h0M184 410.2h0M155 401.9h0M170.9 416.4h0M175 414.1h0M169.1 405.3h0M176.5 416.8h0M160.9 409.3h0M187.9 411.2h0M182.4 415.1h0M186.4 404.3h0M190.9 405.7h0M178.2 419.2h0M214.7 419.2h0M188.2 405.7h0M172.6 420.5h0M187 402h0M203.2 413.9h0M199.9 412.9h0M154.3 406h0M180.7 409.4h0M202.4 406.3h0M181.3 410.1h0M181.4 404.1h0M166.6 394.8h0M187 409.2h0M185.3 404h0M182.6 404.5h0M169.3 412.4h0M190.9 413.9h0M182 408.1h0M200.9 417.9h0M174.3 403.8h0M187.5 412.3h0M170.6 424.2h0M155.2 405.4h0M185.8 416.4h0M158.3 407.8h0M201.4 418.9h0M179.3 410.6h0M171 412.8h0M168.9 398.1h0M162.7 410.7h0M165.3 417.1h0M199.4 416.4h0M191.2 417.3h0M186.1 415.7h0M188.7 415.1h0M169.3 406.4h0M169.5 415.4h0M189.2 405.6h0M169.7 406.9h0M194 409.7h0M179.4 406.2h0M181 420.1h0M173.6 408.3h0M204.8 414.8h0M167.7 417h0M166.1 413.8h0M149.5 404.4h0M194.6 406.8h0M173.1 410.7h0M182.6 407.6h0M173.8 421.3h0M202.2 412.4h0M167.5 407.2h0M178.8 413.4h0M203.6 407.3h0M184.5 407.8h0M184.5 406.3h0M187.6 417.4h0M177.4 408.4h0M184.1 402.5h0M206.3 402.3h0M177.9 405.1h0M202.3 407.5h0M176 421.8h0M181 405.7h0M182.5 411.6h0M172.9 409.3h0M179.9 414.8h0M192.7 415.5h0M181 415.2h0M179.9 417.4h0M187.9 407.8h0M198.8 401.3h0M169.9 405.6h0M180.9 403h0M166.9 399h0M184.1 405.8h0M211.3 415.1h0M167.7 418.4h0M184 416.9h0M168.1 417.4h0M197 407.9h0M171.5 408.1h0M186.1 425h0M206.3 419.5h0M179.8 408.4h0M187.4 408.8h0M176.5 409.2h0M193.7 410h0M185.7 408.8h0M180.1 408.4h0M199.1 411.8h0M202.2 409.4h0M196.5 402.1h0M177.4 410.1h0M174.3 409.7h0M170.5 409.4h0M173.9 410.4h0M178.8 404.4h0M177.3 410.6h0M166 411h0M199 409h0M189.8 414.2h0M172.2 418.4h0M215.4 404.2h0M210.7 406.1h0M201.7 399.5h0M197.5 411.2h0M165.9 405.4h0M168.9 405h0M187.6 409.3h0M149.8 408.5h0M188.7 410.9h0M204.7 399.3h0M185.8 410.6h0M192.1 402.3h0M165.5 409.4h0M183.6 399.5h0M187.4 410.4h0M192.2 394.7h0M189.2 405.1h0M176.4 415.1h0M204.7 411.3h0M181.2 418.3h0M170.9 409.5h0M176 404.5h0M185.2 422.7h0M185.9 413.4h0M182.2 417.2h0M185 405.1h0M183.9 419.1h0M181.5 417.7h0M181.7 422.6h0M186.3 414.4h0M178.8 415.5h0M179.7 401.5h0M186.6 403.1h0M202 415.2h0M182.8 414.6h0M175.3 459h0M194.9 446.8h0M227.2 414.6h0M197.2 442.2h0M205.6 413.5h0M192 458.3h0M195.4 445.1h0M187.6 424.5h0M183.1 441.1h0M213 438.7h0M198.6 440.7h0M206.1 433.2h0M207 464.8h0M223.8 429.3h0M188.7 464.3h0M211.3 454.5h0M207.5 434.2h0M211.2 453.1h0M213.2 422.1h0M211.8 432.4h0M197.8 442.3h0M197.9 470h0M207.1 441.1h0M199.5 440.9h0M199.1 445.6h0M210.1 449.2h0M188.8 432.7h0M202.3 420.2h0M205.2 435.4h0M202 442.7h0M195.2 459.3h0M211.9 429.6h0M206.1 447.8h0M193.7 432.4h0M208.5 401h0M188.2 442h0M207.7 424.3h0M210.1 468.6h0M203.5 436.8h0M202.1 423.1h0M207 439.9h0M208.9 457.5h0M201.8 439.9h0M204.7 461.9h0M186.8 437.3h0M195.1 439.2h0M209.8 438.4h0M208.8 440h0M194.3 428.1h0M187.5 440.5h0M197.5 449.2h0M211.2 424.9h0M190.5 445.9h0M192.6 440.3h0M207.6 432h0M219.3 426.5h0M205.7 431.6h0M172.5 435h0M199.9 445.6h0M200.1 427.1h0M196.3 433.1h0M209.1 433.5h0M213.8 449.4h0M194 451.9h0M178.7 437.8h0M191.6 436h0M213 437.4h0M199.8 455.4h0M193.8 425.7h0M211.2 446h0M187.1 439.5h0M209.3 435.1h0M197.4 439.3h0M203.6 427.5h0M209.9 415.2h0M200.7 467.5h0M190.8 436.9h0M178.6 425.7h0M189.9 438.3h0M196.5 463.2h0M192.2 437h0M203.6 446.4h0M210.4 415.4h0M223.4 433.1h0M194.2 414.3h0M197 412.5h0M203.3 429h0M204.7 426.3h0M202.2 468.6h0M213.2 439.6h0M191.5 457.9h0M184.4 417.5h0M214.4 428.9h0M215 445.4h0M223.3 462.4h0M207.3 428.5h0M207.4 457.1h0M202.8 396.7h0M197.6 432.2h0M200.8 432.4h0M212.9 419.5h0M205.8 409.5h0M179.6 423.1h0M193.9 424.7h0M194.3 445.9h0M207.2 438.4h0M203.4 427.6h0M191.5 417.3h0M197.2 421.4h0M198.1 447.5h0M206.9 455.9h0M192 406.4h0M190.2 465.3h0M208.4 431.1h0M214.6 431.5h0M218.1 431.6h0M197.3 447h0M189.9 434.9h0M220.8 443.4h0M190.3 433.7h0M96.7 399.4h0M106.3 419.5h0M98.3 415.9h0M103.8 408.4h0M80.7 416.7h0M127.1 402.5h0M77.9 412.2h0M99.5 418.3h0M108.1 405.7h0M66.7 413.2h0M99.4 394.3h0M64.4 388.7h0M110.9 402.6h0M24 398.2h0M83.2 405.9h0M98 403.6h0M113.6 417.3h0M92.3 422.8h0M94.4 398.3h0M100.6 392.6h0M90.6 396.4h0M87.7 409h0M43.2 410.9h0M102.9 404.8h0M113 410.4h0M89.2 396.9h0M113.3 414.6h0M64.7 399.7h0M71.1 415.3h0M84.5 394.5h0M130.4 411.5h0M102.3 409.4h0M93.2 407.3h0M116.9 411.4h0M87 407.9h0M138.4 401.4h0M68 408.1h0M72 433.3h0M110.9 412.8h0M105.2 426.7h0M74.7 406.4h0M60.3 419.4h0M95.4 424.7h0M91 396.5h0M81.6 415h0M78.9 409.5h0M81.1 399.8h0M84.7 423.3h0M73.3 410.2h0M114.8 399.5h0M63.8 422h0M135.4 404.4h0M70.5 415.7h0M96.2 398.6h0M88.5 382.9h0M79 394.7h0M67.8 412.8h0M102.9 424h0M37.6 400.2h0M78.3 420.2h0M119.9 408.1h0M99 399.3h0M85.5 402.4h0M41 426h0M113.2 427.9h0M124.3 411.9h0M115.4 389.8h0M74.4 415.4h0M88.4 390.6h0M96.6 393.9h0M96.9 422.6h0M71.7 402.3h0M109.1 406.6h0M101 398.3h0M89.3 382.8h0M92.9 419.8h0M71.9 404.9h0M112.6 419.2h0M122.7 397.9h0M87.5 424.6h0M86.4 409.7h0M78 400.2h0M30.8 401.3h0M47.8 396.5h0M74.9 420.5h0M113.8 410.9h0M85.2 392.7h0M107.4 398.4h0M94.2 416.3h0M92.5 406.5h0M74.5 417.4h0M108.5 414h0M132.9 390.3h0M97.3 413.3h0M104.1 409.9h0M107.1 391.2h0M94.9 418.6h0M95.5 404.8h0M115.5 389h0M105.5 422.1h0M91 398.4h0M108.4 402.2h0M78.4 408.4h0M59.6 413.5h0M69.9 401.2h0M112.8 406.4h0M102.4 420.7h0M130.5 427.9h0M84.4 416.1h0M59.8 414.9h0M125.7 399.4h0M107 415.3h0M93.1 400.3h0M130.3 393.4h0M100.3 416.4h0M101.9 422.8h0M129.7 411.5h0M136.2 414.4h0M69.2 403.5h0M102.7 408.7h0" stroke="#fff" stroke-width="0.75" stroke-linecap="round" fill="none" opacity="0.85"/>
</g>
</g>
<path d="M140.2 387.5C139.9 386.9 138.9 384.5 138.2 383.5C137.5 382.6 137.4 381.9 135.8 381.8C134.3 381.7 131.1 382.1 129.1 382.8C127.2 383.6 124.5 384.4 124.1 386.2C123.7 388 127.3 392.5 126.8 393.6C126.2 394.7 122.3 393.2 120.7 392.9C119.2 392.6 118.8 391.7 117.4 391.9C116 392.1 113.9 394 112.3 394.3C110.8 394.5 109.5 393 108 393.6C106.5 394.1 104.1 396.9 103.3 397.6M135.8 381.8C137 382.2 140.6 383.6 142.6 384.2C144.5 384.7 145.9 385.9 147.6 385.2C149.3 384.5 150.7 380.9 152.6 380.1C154.6 379.4 157.4 380.3 159.4 380.8C161.3 381.4 162.7 382.1 164.4 383.5C166.1 385 167.2 388.4 169.4 389.6C171.7 390.7 175.3 390.4 177.8 390.2C180.3 390.1 182.4 388 184.5 388.5C186.7 389.1 188.9 392.2 190.6 393.6C192.3 395 192.5 395.5 194.6 396.9C196.7 398.3 201.2 400 203 402C204.8 403.9 204.8 406.7 205.4 408.7C205.9 410.6 206.6 411.9 206.4 413.7C206.1 415.6 204.6 418.1 204 419.8C203.5 421.5 204 422.7 203 423.8C202 424.9 199.4 425.6 198 426.5C196.6 427.3 195.2 428.4 194.6 428.8M68.7 427.2C69 428.6 69.6 433.3 70.4 435.6C71.1 437.8 73.5 439.2 73.1 440.6C72.6 442 69.3 443.1 67.7 443.9C66.1 444.8 65.3 445.3 63.7 445.6C62 446 59.3 445.7 57.6 446C55.9 446.2 54.5 445.7 53.6 447.3C52.6 448.9 51.6 453.5 51.9 455.7C52.2 457.9 53.6 460.7 55.3 460.7C56.9 460.7 60 455.7 62 455.7C63.9 455.7 65.6 458.5 67 460.7C68.4 463 68.7 466.9 70.4 469.1C72 471.4 75.1 473.6 77.1 474.2C79 474.7 80.4 473.3 82.1 472.5C83.8 471.7 85.5 470.4 87.2 469.1C88.8 467.8 90.5 466.2 92.2 464.8C93.9 463.4 95.6 462.5 97.2 460.7C98.9 458.9 101.7 456.3 102.3 454C102.8 451.8 100.9 448.4 100.6 447.3M73.1 440.6C74.6 439.8 79.8 436.6 82.1 435.6C84.5 434.5 85.5 435.1 87.2 434.5C88.8 434 92.2 433.7 92.2 432.2C92.2 430.7 89.1 427.7 87.2 425.5C85.2 423.2 81.6 419.9 80.4 418.8M88.8 423.8C90 423.7 93.3 423.5 95.6 423.1C97.8 422.7 101.9 422.3 102.3 421.5C102.7 420.6 99 419 97.9 417.8C96.8 416.5 95.8 415.4 95.6 413.7C95.3 412 96 409.4 96.6 407.7C97.1 406 97.4 404.8 98.9 403.7C100.4 402.5 103.7 401.5 105.6 401C107.6 400.4 108.8 400 110.7 400.3C112.5 400.6 115 402.4 116.7 403C118.4 403.5 119.4 404.2 120.7 403.7C122.1 403.1 123.6 400.7 124.8 399.6C125.9 398.5 127 397.4 127.5 396.9M110 525.2C109.7 525.9 106.7 529.1 108 529.6C109.2 530 115 528.7 117.4 527.9C119.8 527.1 120.7 525.4 122.4 524.5C124.1 523.7 125.5 522.7 127.5 522.9C129.4 523 131.9 524.9 134.2 525.2C136.4 525.5 138.1 525 140.9 524.5C143.7 524.1 148.1 523 151 522.5C153.9 522.1 156.2 521.4 158.3 521.9C160.5 522.3 162.2 524.5 163.7 525.2C165.3 525.9 165.8 526.3 167.8 526.2C169.7 526.1 172.9 524.8 175.1 524.5C177.4 524.3 178.4 525.1 181.2 524.5C184 524 189.1 522 191.9 521.2C194.7 520.3 196 519.5 198 519.5C200 519.5 202.3 519.8 204 521.2C205.7 522.6 206.3 527.8 208 527.9C209.8 528 212.8 523.6 214.8 521.9C216.7 520.1 218 518.8 219.8 517.2C221.6 515.5 223.8 513.3 225.5 511.8C227.2 510.2 228.3 510.1 229.9 507.8C231.4 505.4 234.7 500.5 234.9 497.7C235.1 494.9 232.4 492 230.9 491C229.3 490 227.1 491.1 225.5 491.6C223.9 492.2 222.3 492.6 221.5 494.3C220.7 496 221.4 499.5 220.8 501.7C220.2 503.9 220.2 506.7 218.1 507.8C216 508.8 210.4 507.8 208 507.8C205.7 507.8 205.4 508.8 204 507.8C202.6 506.7 201.2 503.4 199.7 501.7C198.1 500 196.6 498.8 194.6 497.7C192.7 496.6 189.9 495.5 187.9 495C185.9 494.4 184.5 493.3 182.9 494.3C181.2 495.3 178.1 499.1 177.8 501C177.5 503 180.6 505.2 181.2 506.1M230.9 491C230.2 489.8 228.1 485.5 226.5 484.2C224.9 483 223.2 483.9 221.5 483.6C219.8 483.3 217.8 483.6 216.4 482.6C215 481.6 212.9 478.9 213.1 477.5C213.3 476.1 216 475 217.4 474.2C218.8 473.3 219.6 472.8 221.5 472.5C223.4 472.2 226.6 472.8 228.9 472.5C231.1 472.2 234.5 472.5 234.9 470.8C235.4 469.1 233 464.2 231.6 462.4C230.2 460.6 228.3 460.2 226.5 460.1C224.7 460 222.8 461.4 220.8 461.7C218.8 462.1 216.6 462.8 214.8 462.4C212.9 462.1 211.3 459.7 209.7 459.7C208.2 459.7 206.8 461.7 205.4 462.4C204 463.1 202.3 462.1 201.3 464.1C200.4 466.1 201.2 472.2 199.7 474.2C198.1 476.1 193.2 475.6 191.9 475.8M117.4 453C117.9 451.6 119.3 446.2 120.7 444.6C122.1 443 124.1 443.4 125.8 443.3C127.5 443.2 129 444.2 130.8 443.9C132.6 443.7 134.7 442.4 136.5 441.6C138.3 440.8 139.7 439.7 141.6 439.2C143.4 438.8 145.9 438.1 147.6 438.9C149.3 439.7 150.5 442.5 151.6 443.9C152.8 445.3 152.8 446.6 154.3 447.3C155.9 448 159.4 447.5 161 448C162.7 448.4 163.8 449.7 164.4 450M102.3 454C103 455.4 105.2 459.6 106.6 462.4C108 465.2 109.7 467.2 110.7 470.8C111.6 474.5 110.8 480.8 112.3 484.2C113.9 487.7 117.8 491.6 119.7 491.6C121.7 491.6 122.5 484.9 124.1 484.2C125.7 483.6 127.3 486.8 129.1 487.6C130.9 488.4 133.7 487.3 134.8 489.3C136 491.2 136 495.9 135.8 499.4C135.7 502.8 134.5 508.3 134.2 510.1M140.9 484.9C141.7 483.1 144 476.2 145.9 474.2C147.9 472.1 150.6 472.8 152.6 472.5C154.7 472.2 156.5 473 158.3 472.5C160.2 472 162.2 470.3 163.7 469.5C165.3 468.6 165.7 467.9 167.8 467.5C169.8 467 174.4 466.3 176.1 466.8C177.9 467.2 177.7 469.2 178.5 470.1C179.3 471.1 180.8 471.7 181.2 472.5C181.5 473.3 180.6 474.7 180.5 475.2M191.9 475.8C191.3 477.5 189.1 483.5 187.9 485.9C186.7 488.3 185.7 489.2 184.5 490.3C183.4 491.4 182 491.1 181.2 492.6C180.4 494.2 179.8 497.1 179.8 499.4C179.8 501.6 181 505 181.2 506.1M124.8 433.9C125.9 432.8 129.4 429.1 131.5 427.2C133.6 425.2 137.1 424.2 137.5 422.1C138 420 134.5 416.9 134.2 414.4C133.9 411.9 135.3 409.3 135.8 407C136.4 404.8 137.2 402 137.5 401M137.5 422.1C138.9 422.2 143.1 422.2 145.9 422.5C148.7 422.7 151.4 422.2 154.3 423.8C157.3 425.4 161.5 432.3 163.7 432.2C166 432.1 166.4 425.9 167.8 423.1C169.1 420.3 169.8 415.9 171.8 415.4C173.7 415 177.1 418.5 179.5 420.4C181.9 422.4 183.7 425.8 186.2 427.2C188.7 428.6 192.4 427.3 194.6 428.8C196.9 430.4 198.3 434 199.7 436.6C201 439.1 203.3 440.5 203 443.9C202.7 447.4 199.4 453.5 198 457.4C196.6 461.3 195.6 464.4 194.6 467.5C193.6 470.5 192.4 474.5 191.9 475.8M151.6 457.4C151.2 456.1 149.7 451.2 149.3 450M151.6 457.4C152.5 456.8 155.4 455.6 157 454C158.6 452.5 160.4 449 161 448M151.6 457.4C152.1 458.5 153.2 461.6 154.3 464.1C155.4 466.6 157.7 471.1 158.3 472.5M151.6 457.4C150.7 457.9 146.9 457.9 145.9 460.7C145 463.5 145.9 471.9 145.9 474.2M151.6 457.4C153.8 457.9 160.3 459.2 164.4 460.7C168.5 462.3 174.2 465.8 176.1 466.8M151.6 457.4C150.4 456.8 146.8 456.7 144.2 454C141.7 451.4 137.8 443.7 136.5 441.6M204 493.3C204 495.7 204 505.3 204 507.8M204 521.2C204 521.7 204 524 204 524.5" fill="none" stroke="#30352f" stroke-width="0.7" stroke-linejoin="round"/>
<circle cx="140.2" cy="387.5" r="1.45" fill="#cfcfcf" stroke="#222" stroke-width="0.5"/><circle cx="140.2" cy="387.5" r="0.45" fill="#333"/>
<circle cx="124.1" cy="386.2" r="1.45" fill="#cfcfcf" stroke="#222" stroke-width="0.5"/><circle cx="124.1" cy="386.2" r="0.45" fill="#333"/>
<circle cx="135.8" cy="381.8" r="1.45" fill="#cfcfcf" stroke="#222" stroke-width="0.5"/><circle cx="135.8" cy="381.8" r="0.45" fill="#333"/>
<circle cx="103.3" cy="397.6" r="1.45" fill="#cfcfcf" stroke="#222" stroke-width="0.5"/><circle cx="103.3" cy="397.6" r="0.45" fill="#333"/>
<circle cx="106.6" cy="394.3" r="1.45" fill="#cfcfcf" stroke="#222" stroke-width="0.5"/><circle cx="106.6" cy="394.3" r="0.45" fill="#333"/>
<circle cx="137.5" cy="401" r="1.45" fill="#cfcfcf" stroke="#222" stroke-width="0.5"/><circle cx="137.5" cy="401" r="0.45" fill="#333"/>
<circle cx="80.4" cy="418.8" r="1.45" fill="#cfcfcf" stroke="#222" stroke-width="0.5"/><circle cx="80.4" cy="418.8" r="0.45" fill="#333"/>
<circle cx="88.8" cy="423.8" r="1.45" fill="#cfcfcf" stroke="#222" stroke-width="0.5"/><circle cx="88.8" cy="423.8" r="0.45" fill="#333"/>
<circle cx="102.3" cy="421.5" r="1.45" fill="#cfcfcf" stroke="#222" stroke-width="0.5"/><circle cx="102.3" cy="421.5" r="0.45" fill="#333"/>
<circle cx="68.7" cy="427.2" r="1.45" fill="#cfcfcf" stroke="#222" stroke-width="0.5"/><circle cx="68.7" cy="427.2" r="0.45" fill="#333"/>
<circle cx="73.1" cy="440.6" r="1.45" fill="#cfcfcf" stroke="#222" stroke-width="0.5"/><circle cx="73.1" cy="440.6" r="0.45" fill="#333"/>
<circle cx="134.2" cy="414.4" r="1.45" fill="#cfcfcf" stroke="#222" stroke-width="0.5"/><circle cx="134.2" cy="414.4" r="0.45" fill="#333"/>
<circle cx="137.5" cy="422.1" r="1.45" fill="#cfcfcf" stroke="#222" stroke-width="0.5"/><circle cx="137.5" cy="422.1" r="0.45" fill="#333"/>
<circle cx="171.8" cy="415.4" r="1.45" fill="#cfcfcf" stroke="#222" stroke-width="0.5"/><circle cx="171.8" cy="415.4" r="0.45" fill="#333"/>
<circle cx="186.2" cy="427.2" r="1.45" fill="#cfcfcf" stroke="#222" stroke-width="0.5"/><circle cx="186.2" cy="427.2" r="0.45" fill="#333"/>
<circle cx="194.6" cy="428.8" r="1.45" fill="#cfcfcf" stroke="#222" stroke-width="0.5"/><circle cx="194.6" cy="428.8" r="0.45" fill="#333"/>
<circle cx="124.8" cy="433.9" r="1.45" fill="#cfcfcf" stroke="#222" stroke-width="0.5"/><circle cx="124.8" cy="433.9" r="0.45" fill="#333"/>
<circle cx="163.7" cy="432.2" r="1.45" fill="#cfcfcf" stroke="#222" stroke-width="0.5"/><circle cx="163.7" cy="432.2" r="0.45" fill="#333"/>
<circle cx="120.7" cy="444.6" r="1.45" fill="#cfcfcf" stroke="#222" stroke-width="0.5"/><circle cx="120.7" cy="444.6" r="0.45" fill="#333"/>
<circle cx="130.8" cy="443.9" r="1.45" fill="#cfcfcf" stroke="#222" stroke-width="0.5"/><circle cx="130.8" cy="443.9" r="0.45" fill="#333"/>
<circle cx="136.5" cy="441.6" r="1.45" fill="#cfcfcf" stroke="#222" stroke-width="0.5"/><circle cx="136.5" cy="441.6" r="0.45" fill="#333"/>
<circle cx="117.4" cy="453" r="1.45" fill="#cfcfcf" stroke="#222" stroke-width="0.5"/><circle cx="117.4" cy="453" r="0.45" fill="#333"/>
<circle cx="149.3" cy="450" r="1.45" fill="#cfcfcf" stroke="#222" stroke-width="0.5"/><circle cx="149.3" cy="450" r="0.45" fill="#333"/>
<circle cx="154.3" cy="447.3" r="1.45" fill="#cfcfcf" stroke="#222" stroke-width="0.5"/><circle cx="154.3" cy="447.3" r="0.45" fill="#333"/>
<circle cx="161" cy="448" r="1.45" fill="#cfcfcf" stroke="#222" stroke-width="0.5"/><circle cx="161" cy="448" r="0.45" fill="#333"/>
<circle cx="164.4" cy="450" r="1.45" fill="#cfcfcf" stroke="#222" stroke-width="0.5"/><circle cx="164.4" cy="450" r="0.45" fill="#333"/>
<circle cx="157" cy="454" r="1.45" fill="#cfcfcf" stroke="#222" stroke-width="0.5"/><circle cx="157" cy="454" r="0.45" fill="#333"/>
<circle cx="176.1" cy="466.8" r="1.45" fill="#cfcfcf" stroke="#222" stroke-width="0.5"/><circle cx="176.1" cy="466.8" r="0.45" fill="#333"/>
<circle cx="178.5" cy="470.1" r="1.45" fill="#cfcfcf" stroke="#222" stroke-width="0.5"/><circle cx="178.5" cy="470.1" r="0.45" fill="#333"/>
<circle cx="181.2" cy="472.5" r="1.45" fill="#cfcfcf" stroke="#222" stroke-width="0.5"/><circle cx="181.2" cy="472.5" r="0.45" fill="#333"/>
<circle cx="180.5" cy="475.2" r="1.45" fill="#cfcfcf" stroke="#222" stroke-width="0.5"/><circle cx="180.5" cy="475.2" r="0.45" fill="#333"/>
<circle cx="191.9" cy="475.8" r="1.45" fill="#cfcfcf" stroke="#222" stroke-width="0.5"/><circle cx="191.9" cy="475.8" r="0.45" fill="#333"/>
<circle cx="145.9" cy="474.2" r="1.45" fill="#cfcfcf" stroke="#222" stroke-width="0.5"/><circle cx="145.9" cy="474.2" r="0.45" fill="#333"/>
<circle cx="158.3" cy="472.5" r="1.45" fill="#cfcfcf" stroke="#222" stroke-width="0.5"/><circle cx="158.3" cy="472.5" r="0.45" fill="#333"/>
<circle cx="140.9" cy="484.9" r="1.45" fill="#cfcfcf" stroke="#222" stroke-width="0.5"/><circle cx="140.9" cy="484.9" r="0.45" fill="#333"/>
<circle cx="124.1" cy="484.2" r="1.45" fill="#cfcfcf" stroke="#222" stroke-width="0.5"/><circle cx="124.1" cy="484.2" r="0.45" fill="#333"/>
<circle cx="134.8" cy="489.3" r="1.45" fill="#cfcfcf" stroke="#222" stroke-width="0.5"/><circle cx="134.8" cy="489.3" r="0.45" fill="#333"/>
<circle cx="119.7" cy="491.6" r="1.45" fill="#cfcfcf" stroke="#222" stroke-width="0.5"/><circle cx="119.7" cy="491.6" r="0.45" fill="#333"/>
<circle cx="134.2" cy="510.1" r="1.45" fill="#cfcfcf" stroke="#222" stroke-width="0.5"/><circle cx="134.2" cy="510.1" r="0.45" fill="#333"/>
<circle cx="181.2" cy="506.1" r="1.45" fill="#cfcfcf" stroke="#222" stroke-width="0.5"/><circle cx="181.2" cy="506.1" r="0.45" fill="#333"/>
<circle cx="204" cy="507.8" r="1.45" fill="#cfcfcf" stroke="#222" stroke-width="0.5"/><circle cx="204" cy="507.8" r="0.45" fill="#333"/>
<circle cx="208" cy="507.8" r="1.45" fill="#cfcfcf" stroke="#222" stroke-width="0.5"/><circle cx="208" cy="507.8" r="0.45" fill="#333"/>
<circle cx="204" cy="493.3" r="1.45" fill="#cfcfcf" stroke="#222" stroke-width="0.5"/><circle cx="204" cy="493.3" r="0.45" fill="#333"/>
<circle cx="209.7" cy="459.7" r="1.45" fill="#cfcfcf" stroke="#222" stroke-width="0.5"/><circle cx="209.7" cy="459.7" r="0.45" fill="#333"/>
<circle cx="214.8" cy="462.4" r="1.45" fill="#cfcfcf" stroke="#222" stroke-width="0.5"/><circle cx="214.8" cy="462.4" r="0.45" fill="#333"/>
<circle cx="226.5" cy="460.1" r="1.45" fill="#cfcfcf" stroke="#222" stroke-width="0.5"/><circle cx="226.5" cy="460.1" r="0.45" fill="#333"/>
<circle cx="213.1" cy="477.5" r="1.45" fill="#cfcfcf" stroke="#222" stroke-width="0.5"/><circle cx="213.1" cy="477.5" r="0.45" fill="#333"/>
<circle cx="216.4" cy="482.6" r="1.45" fill="#cfcfcf" stroke="#222" stroke-width="0.5"/><circle cx="216.4" cy="482.6" r="0.45" fill="#333"/>
<circle cx="230.9" cy="491" r="1.45" fill="#cfcfcf" stroke="#222" stroke-width="0.5"/><circle cx="230.9" cy="491" r="0.45" fill="#333"/>
<circle cx="219.8" cy="517.2" r="1.45" fill="#cfcfcf" stroke="#222" stroke-width="0.5"/><circle cx="219.8" cy="517.2" r="0.45" fill="#333"/>
<circle cx="191.9" cy="521.2" r="1.45" fill="#cfcfcf" stroke="#222" stroke-width="0.5"/><circle cx="191.9" cy="521.2" r="0.45" fill="#333"/>
<circle cx="198" cy="519.5" r="1.45" fill="#cfcfcf" stroke="#222" stroke-width="0.5"/><circle cx="198" cy="519.5" r="0.45" fill="#333"/>
<circle cx="204" cy="521.2" r="1.45" fill="#cfcfcf" stroke="#222" stroke-width="0.5"/><circle cx="204" cy="521.2" r="0.45" fill="#333"/>
<circle cx="204" cy="524.5" r="1.45" fill="#cfcfcf" stroke="#222" stroke-width="0.5"/><circle cx="204" cy="524.5" r="0.45" fill="#333"/>
<circle cx="158.3" cy="521.9" r="1.45" fill="#cfcfcf" stroke="#222" stroke-width="0.5"/><circle cx="158.3" cy="521.9" r="0.45" fill="#333"/>
<circle cx="110" cy="525.2" r="1.45" fill="#cfcfcf" stroke="#222" stroke-width="0.5"/><circle cx="110" cy="525.2" r="0.45" fill="#333"/>
<circle cx="151.6" cy="457.4" r="1.1" fill="#fff" stroke="#7a7a20" stroke-width="0.4"/>
<path d="M24.8 366.3L24.8 552" stroke="#1a1a1a" stroke-width="1.35" fill="none"/>
<path d="M24.2 551.4L262.2 551.4" stroke="#1a1a1a" stroke-width="1.35" fill="none"/>
<path d="M22 374.4L24.8 374.4" stroke="#000" stroke-width="0.8" fill="none"/>
<text x="19.3" y="377.2" font-size="7.8" fill="#000" text-anchor="end">6</text>
<path d="M252 551.4L252 554" stroke="#000" stroke-width="0.9" fill="none"/>
<text x="252" y="563.4" font-size="7.8" fill="#000" text-anchor="middle">6</text>
<path d="M22 422.1L24.8 422.1" stroke="#000" stroke-width="0.8" fill="none"/>
<text x="19.3" y="424.9" font-size="7.8" fill="#000" text-anchor="end">3</text>
<path d="M192.6 551.4L192.6 554" stroke="#000" stroke-width="0.9" fill="none"/>
<text x="192.6" y="563.4" font-size="7.8" fill="#000" text-anchor="middle">3</text>
<path d="M22 469.8L24.8 469.8" stroke="#000" stroke-width="0.8" fill="none"/>
<text x="19.3" y="472.6" font-size="7.8" fill="#000" text-anchor="end">0</text>
<path d="M133.2 551.4L133.2 554" stroke="#000" stroke-width="0.9" fill="none"/>
<text x="133.2" y="563.4" font-size="7.8" fill="#000" text-anchor="middle">0</text>
<path d="M22 517.5L24.8 517.5" stroke="#000" stroke-width="0.8" fill="none"/>
<text x="19.3" y="520.3" font-size="7.8" fill="#000" text-anchor="end">−3</text>
<path d="M73.8 551.4L73.8 554" stroke="#000" stroke-width="0.9" fill="none"/>
<text x="73.8" y="563.4" font-size="7.8" fill="#000" text-anchor="middle">−3</text>
<text x="161.5" y="578.6" font-size="9.3" fill="#000" text-anchor="middle">UMAP 1</text>
<text x="7.9" y="462.3" font-size="9.3" fill="#000" text-anchor="middle" transform="rotate(-90 7.9 462.3)">UMAP 2</text>
<text x="214.3" y="349.7" font-size="9.3" fill="#000">pseudotime</text>
<defs><linearGradient id="gC" x1="0" y1="0" x2="0" y2="1"><stop offset="0" stop-color="#F2F227"/><stop offset="0.12" stop-color="#FBC328"/><stop offset="0.3" stop-color="#F48849"/><stop offset="0.5" stop-color="#D6556D"/><stop offset="0.68" stop-color="#A62098"/><stop offset="0.85" stop-color="#5B02A3"/><stop offset="1" stop-color="#1A0C87"/></linearGradient></defs>
<rect x="234.4" y="360.9" width="6.2" height="30.3" fill="url(#gC)"/>
<text x="243" y="365.1" font-size="8" fill="#000">10.0</text>
<text x="243" y="372.3" font-size="8" fill="#000">7.5</text>
<text x="243" y="379.5" font-size="8" fill="#000">5.0</text>
<text x="243" y="386.8" font-size="8" fill="#000">2.5</text>
<text x="243" y="394" font-size="8" fill="#000">0.0</text>
</g>
<g id="panelD">
<text x="264.8" y="300.2" font-size="13.5" fill="#000" font-weight="bold" stroke="none">D</text>
<text x="495.4" y="286.9" font-size="9.4" fill="#000" text-anchor="middle">M1-polarization markers</text>
<text x="495.4" y="524.6" font-size="9.4" fill="#000" text-anchor="middle">M2-polarization markers</text>
<rect x="282.5" y="291.5" width="402" height="223" fill="none" stroke="#b2b2b2" stroke-width="1"/>
<rect x="282.5" y="529.5" width="402" height="77" fill="none" stroke="#b2b2b2" stroke-width="1"/>
<path d="M311.2 352.8H328" stroke="#4d4d4d" stroke-width="1.3"/>
<path d="M329.4 352.8H346.1" stroke="#4d4d4d" stroke-width="1.3"/>
<path d="M347.5 352.8H364.3" stroke="#4d4d4d" stroke-width="1.3"/>
<path d="M365.7 352.8H382.4" stroke="#4d4d4d" stroke-width="1.3"/>
<path d="M319.6 352.8L319.6 314.9" stroke="#151515" stroke-width="0.9" fill="none"/>
<path d="M337.8 352.4L337.8 314.9" stroke="#151515" stroke-width="0.9" fill="none"/>
<path d="M337.94 315.78L338.12 328.81L338.74 338.73L339.24 346.18L339.61 349.28L342.71 350.89L346.19 352.63L341.12 353.2L334.38 353.2L329.31 352.63L332.79 350.89L335.89 349.28L336.26 346.18L336.76 338.73L337.38 328.81L337.56 315.78Z" fill="#7CAE00" stroke="#111" stroke-width="0.7" stroke-linejoin="round"/>
<path d="M355.9 352.8L355.9 328.4" stroke="#151515" stroke-width="0.9" fill="none"/>
<path d="M374.1 352.4L374.1 306.6" stroke="#151515" stroke-width="0.9" fill="none"/>
<path d="M374.24 308.33L374.42 335.01L374.92 339.97L375.04 343.69L374.67 347.42L375.29 349.65L379.01 351.14L382.49 352.63L377.42 353.2L370.68 353.2L365.61 352.63L369.09 351.14L372.81 349.65L373.43 347.42L373.06 343.69L373.18 339.97L373.68 335.01L373.86 308.33Z" fill="#C77CFF" stroke="#111" stroke-width="0.7" stroke-linejoin="round"/>
<path d="M308.6 304.9L308.6 355.3" stroke="#111" stroke-width="1.0" fill="none"/>
<path d="M308.1 354.8L384.1 354.8" stroke="#6a6a6a" stroke-width="1.0" fill="none"/>
<path d="M306.6 352.4L308.6 352.4" stroke="#000" stroke-width="0.6" fill="none"/>
<text x="305.6" y="354.5" font-size="6" fill="#000" text-anchor="end">0</text>
<path d="M306.6 343.2L308.6 343.2" stroke="#000" stroke-width="0.6" fill="none"/>
<text x="305.6" y="345.3" font-size="6" fill="#000" text-anchor="end">1</text>
<path d="M306.6 333.8L308.6 333.8" stroke="#000" stroke-width="0.6" fill="none"/>
<text x="305.6" y="335.9" font-size="6" fill="#000" text-anchor="end">2</text>
<path d="M306.6 324.6L308.6 324.6" stroke="#000" stroke-width="0.6" fill="none"/>
<text x="305.6" y="326.7" font-size="6" fill="#000" text-anchor="end">3</text>
<path d="M306.6 315.4L308.6 315.4" stroke="#000" stroke-width="0.6" fill="none"/>
<text x="305.6" y="317.5" font-size="6" fill="#000" text-anchor="end">4</text>
<path d="M306.6 306L308.6 306" stroke="#000" stroke-width="0.6" fill="none"/>
<text x="305.6" y="308.1" font-size="6" fill="#000" text-anchor="end">5</text>
<path d="M319.6 354.8L319.6 356.6" stroke="#000" stroke-width="0.6" fill="none"/>
<text x="319.6" y="363.3" font-size="6.8" fill="#000" text-anchor="middle">MG4</text>
<path d="M337.8 354.8L337.8 356.6" stroke="#000" stroke-width="0.6" fill="none"/>
<text x="337.8" y="363.3" font-size="6.8" fill="#000" text-anchor="middle">MG5</text>
<path d="M355.9 354.8L355.9 356.6" stroke="#000" stroke-width="0.6" fill="none"/>
<text x="355.9" y="363.3" font-size="6.8" fill="#000" text-anchor="middle">MG6</text>
<path d="M374.1 354.8L374.1 356.6" stroke="#000" stroke-width="0.6" fill="none"/>
<text x="374.1" y="363.3" font-size="6.8" fill="#000" text-anchor="middle">MG7</text>
<text x="341.6" y="302" font-size="9" fill="#000" text-anchor="middle">Il1b</text>
<text x="299.2" y="326" font-size="7.9" fill="#000" text-anchor="middle" transform="rotate(-90 299.2 326)">Expression Level</text>
<path d="M409.9 352.7H426.7" stroke="#4d4d4d" stroke-width="1.3"/>
<path d="M428 352.7H444.8" stroke="#4d4d4d" stroke-width="1.3"/>
<path d="M446.1 352.7H462.9" stroke="#4d4d4d" stroke-width="1.3"/>
<path d="M464.2 352.7H481" stroke="#4d4d4d" stroke-width="1.3"/>
<path d="M418.3 352.7L418.3 306.8" stroke="#151515" stroke-width="0.9" fill="none"/>
<path d="M436.4 352.7L436.4 328.4" stroke="#151515" stroke-width="0.9" fill="none"/>
<path d="M454.5 352.7L454.5 323.9" stroke="#151515" stroke-width="0.9" fill="none"/>
<path d="M472.6 352.7L472.6 317.3" stroke="#151515" stroke-width="0.9" fill="none"/>
<path d="M408.1 304.9L408.1 355.2" stroke="#111" stroke-width="1.0" fill="none"/>
<path d="M407.6 354.7L482.6 354.7" stroke="#6a6a6a" stroke-width="1.0" fill="none"/>
<path d="M406.1 352.3L408.1 352.3" stroke="#000" stroke-width="0.6" fill="none"/>
<text x="405.1" y="354.4" font-size="6" fill="#000" text-anchor="end">0</text>
<path d="M406.1 337.4L408.1 337.4" stroke="#000" stroke-width="0.6" fill="none"/>
<text x="405.1" y="339.5" font-size="6" fill="#000" text-anchor="end">1</text>
<path d="M406.1 322.4L408.1 322.4" stroke="#000" stroke-width="0.6" fill="none"/>
<text x="405.1" y="324.5" font-size="6" fill="#000" text-anchor="end">2</text>
<path d="M406.1 306.9L408.1 306.9" stroke="#000" stroke-width="0.6" fill="none"/>
<text x="405.1" y="309" font-size="6" fill="#000" text-anchor="end">3</text>
<path d="M418.3 354.7L418.3 356.5" stroke="#000" stroke-width="0.6" fill="none"/>
<text x="418.3" y="363.2" font-size="6.8" fill="#000" text-anchor="middle">MG4</text>
<path d="M436.4 354.7L436.4 356.5" stroke="#000" stroke-width="0.6" fill="none"/>
<text x="436.4" y="363.2" font-size="6.8" fill="#000" text-anchor="middle">MG5</text>
<path d="M454.5 354.7L454.5 356.5" stroke="#000" stroke-width="0.6" fill="none"/>
<text x="454.5" y="363.2" font-size="6.8" fill="#000" text-anchor="middle">MG6</text>
<path d="M472.6 354.7L472.6 356.5" stroke="#000" stroke-width="0.6" fill="none"/>
<text x="472.6" y="363.2" font-size="6.8" fill="#000" text-anchor="middle">MG7</text>
<text x="441" y="302" font-size="9" fill="#000" text-anchor="middle">Il6</text>
<text x="398" y="326" font-size="7.9" fill="#000" text-anchor="middle" transform="rotate(-90 398 326)">Expression Level</text>
<path d="M507.5 352.7H524.3" stroke="#4d4d4d" stroke-width="1.3"/>
<path d="M525.5 352.7H542.3" stroke="#4d4d4d" stroke-width="1.3"/>
<path d="M543.5 352.7H560.3" stroke="#4d4d4d" stroke-width="1.3"/>
<path d="M561.5 352.7H578.3" stroke="#4d4d4d" stroke-width="1.3"/>
<path d="M515.9 352.7L515.9 306.6" stroke="#151515" stroke-width="0.9" fill="none"/>
<path d="M533.9 352.3L533.9 322.4" stroke="#151515" stroke-width="0.9" fill="none"/>
<path d="M534.09 323.74L534.4 334.91L535.14 339.87L535.39 343.59L534.64 347.32L534.89 349.8L538.24 351.29L541.96 352.53L537.13 353.1L530.67 353.1L525.84 352.53L529.56 351.29L532.91 349.8L533.16 347.32L532.41 343.59L532.66 339.87L533.4 334.91L533.71 323.74Z" fill="#7CAE00" stroke="#111" stroke-width="0.7" stroke-linejoin="round"/>
<path d="M551.9 352.7L551.9 314" stroke="#151515" stroke-width="0.9" fill="none"/>
<path d="M569.9 352.3L569.9 311.3" stroke="#151515" stroke-width="0.9" fill="none"/>
<path d="M570.09 312.83L570.4 327.47L571.39 333.67L571.64 338.63L570.89 343.59L570.89 347.32L573 349.18L576.1 351.04L578.34 352.53L573.27 353.1L566.53 353.1L561.46 352.53L563.7 351.04L566.8 349.18L568.91 347.32L568.91 343.59L568.16 338.63L568.41 333.67L569.4 327.47L569.71 312.83Z" fill="#C77CFF" stroke="#111" stroke-width="0.7" stroke-linejoin="round"/>
<path d="M505.4 304.9L505.4 355.2" stroke="#111" stroke-width="1.0" fill="none"/>
<path d="M504.9 354.7L579.9 354.7" stroke="#6a6a6a" stroke-width="1.0" fill="none"/>
<path d="M503.4 352.3L505.4 352.3" stroke="#000" stroke-width="0.6" fill="none"/>
<text x="502.4" y="354.4" font-size="6" fill="#000" text-anchor="end">0</text>
<path d="M503.4 338.9L505.4 338.9" stroke="#000" stroke-width="0.6" fill="none"/>
<text x="502.4" y="341" font-size="6" fill="#000" text-anchor="end">1</text>
<path d="M503.4 324.8L505.4 324.8" stroke="#000" stroke-width="0.6" fill="none"/>
<text x="502.4" y="326.9" font-size="6" fill="#000" text-anchor="end">2</text>
<path d="M503.4 311L505.4 311" stroke="#000" stroke-width="0.6" fill="none"/>
<text x="502.4" y="313.1" font-size="6" fill="#000" text-anchor="end">3</text>
<path d="M515.9 354.7L515.9 356.5" stroke="#000" stroke-width="0.6" fill="none"/>
<text x="515.9" y="363.2" font-size="6.8" fill="#000" text-anchor="middle">MG4</text>
<path d="M533.9 354.7L533.9 356.5" stroke="#000" stroke-width="0.6" fill="none"/>
<text x="533.9" y="363.2" font-size="6.8" fill="#000" text-anchor="middle">MG5</text>
<path d="M551.9 354.7L551.9 356.5" stroke="#000" stroke-width="0.6" fill="none"/>
<text x="551.9" y="363.2" font-size="6.8" fill="#000" text-anchor="middle">MG6</text>
<path d="M569.9 354.7L569.9 356.5" stroke="#000" stroke-width="0.6" fill="none"/>
<text x="569.9" y="363.2" font-size="6.8" fill="#000" text-anchor="middle">MG7</text>
<text x="541.4" y="302" font-size="9" fill="#000" text-anchor="middle">Cd40</text>
<text x="496.3" y="326" font-size="7.9" fill="#000" text-anchor="middle" transform="rotate(-90 496.3 326)">Expression Level</text>
<path d="M606.3 352.7H623.1" stroke="#4d4d4d" stroke-width="1.3"/>
<path d="M624.5 352.7H641.2" stroke="#4d4d4d" stroke-width="1.3"/>
<path d="M642.6 352.7H659.4" stroke="#4d4d4d" stroke-width="1.3"/>
<path d="M660.8 352.7H677.6" stroke="#4d4d4d" stroke-width="1.3"/>
<path d="M614.7 352.7L614.7 316.4" stroke="#151515" stroke-width="0.9" fill="none"/>
<path d="M632.9 352.3L632.9 308.9" stroke="#151515" stroke-width="0.9" fill="none"/>
<path d="M633.04 310.1L633.84 320.02L635.58 328.71L637.19 337.39L637.56 341.11L635.58 346.08L635.08 347.94L637.81 350.42L640.91 352.28L636.08 353.1L629.62 353.1L624.79 352.28L627.89 350.42L630.62 347.94L630.12 346.08L628.14 341.11L628.51 337.39L630.12 328.71L631.86 320.02L632.66 310.1Z" fill="#7CAE00" stroke="#111" stroke-width="0.7" stroke-linejoin="round"/>
<path d="M651 352.7L651 306.6" stroke="#151515" stroke-width="0.9" fill="none"/>
<path d="M669.2 352.3L669.2 323" stroke="#151515" stroke-width="0.9" fill="none"/>
<path d="M669.34 323.74L669.77 333.67L671.01 338.63L671.38 341.11L670.14 344.84L669.77 347.94L672.87 350.42L677.21 352.28L672.38 353.1L665.92 353.1L661.09 352.28L665.43 350.42L668.53 347.94L668.16 344.84L666.92 341.11L667.29 338.63L668.53 333.67L668.96 323.74Z" fill="#C77CFF" stroke="#111" stroke-width="0.7" stroke-linejoin="round"/>
<path d="M605.1 304.9L605.1 355.2" stroke="#111" stroke-width="1.0" fill="none"/>
<path d="M604.6 354.7L679.2 354.7" stroke="#6a6a6a" stroke-width="1.0" fill="none"/>
<path d="M603.1 352.3L605.1 352.3" stroke="#000" stroke-width="0.6" fill="none"/>
<text x="602.1" y="354.4" font-size="6" fill="#000" text-anchor="end">0</text>
<path d="M603.1 341.3L605.1 341.3" stroke="#000" stroke-width="0.6" fill="none"/>
<text x="602.1" y="343.4" font-size="6" fill="#000" text-anchor="end">1</text>
<path d="M603.1 330.2L605.1 330.2" stroke="#000" stroke-width="0.6" fill="none"/>
<text x="602.1" y="332.3" font-size="6" fill="#000" text-anchor="end">2</text>
<path d="M603.1 318.8L605.1 318.8" stroke="#000" stroke-width="0.6" fill="none"/>
<text x="602.1" y="320.9" font-size="6" fill="#000" text-anchor="end">3</text>
<path d="M603.1 308L605.1 308" stroke="#000" stroke-width="0.6" fill="none"/>
<text x="602.1" y="310.1" font-size="6" fill="#000" text-anchor="end">4</text>
<path d="M614.7 354.7L614.7 356.5" stroke="#000" stroke-width="0.6" fill="none"/>
<text x="614.7" y="363.2" font-size="6.8" fill="#000" text-anchor="middle">MG4</text>
<path d="M632.9 354.7L632.9 356.5" stroke="#000" stroke-width="0.6" fill="none"/>
<text x="632.9" y="363.2" font-size="6.8" fill="#000" text-anchor="middle">MG5</text>
<path d="M651 354.7L651 356.5" stroke="#000" stroke-width="0.6" fill="none"/>
<text x="651" y="363.2" font-size="6.8" fill="#000" text-anchor="middle">MG6</text>
<path d="M669.2 354.7L669.2 356.5" stroke="#000" stroke-width="0.6" fill="none"/>
<text x="669.2" y="363.2" font-size="6.8" fill="#000" text-anchor="middle">MG7</text>
<text x="643.1" y="302" font-size="9" fill="#000" text-anchor="middle">Cd68</text>
<text x="595.6" y="326" font-size="7.9" fill="#000" text-anchor="middle" transform="rotate(-90 595.6 326)">Expression Level</text>
<path d="M309.3 426.8H326.1" stroke="#4d4d4d" stroke-width="1.3"/>
<path d="M327.4 426.8H344.1" stroke="#4d4d4d" stroke-width="1.3"/>
<path d="M345.4 426.8H362.2" stroke="#4d4d4d" stroke-width="1.3"/>
<path d="M363.5 426.8H380.2" stroke="#4d4d4d" stroke-width="1.3"/>
<path d="M317.7 426.8L317.7 381" stroke="#151515" stroke-width="0.9" fill="none"/>
<path d="M335.8 426.4L335.8 389.9" stroke="#151515" stroke-width="0.9" fill="none"/>
<path d="M335.94 391.39L336.37 402.81L338.48 409.01L340.09 414.59L338.85 418.94L336.74 422.66L336.99 423.9L340.71 425.39L343.81 426.75L338.98 427.2L332.52 427.2L327.69 426.75L330.79 425.39L334.51 423.9L334.76 422.66L332.65 418.94L331.41 414.59L333.02 409.01L335.13 402.81L335.56 391.39Z" fill="#7CAE00" stroke="#111" stroke-width="0.7" stroke-linejoin="round"/>
<path d="M353.8 426.8L353.8 381.6" stroke="#151515" stroke-width="0.9" fill="none"/>
<path d="M371.9 426.4L371.9 384.8" stroke="#151515" stroke-width="0.9" fill="none"/>
<path d="M372.04 386.06L372.35 401.57L373.71 407.77L374.58 412.73L373.71 416.45L372.47 420.8L372.84 422.66L376.81 424.89L380.29 426.63L375.22 427.2L368.48 427.2L363.41 426.63L366.89 424.89L370.86 422.66L371.23 420.8L369.99 416.45L369.12 412.73L369.99 407.77L371.35 401.57L371.66 386.06Z" fill="#C77CFF" stroke="#111" stroke-width="0.7" stroke-linejoin="round"/>
<path d="M307.5 378.6L307.5 429.3" stroke="#111" stroke-width="1.0" fill="none"/>
<path d="M307 428.8L381.9 428.8" stroke="#6a6a6a" stroke-width="1.0" fill="none"/>
<path d="M305.5 426.4L307.5 426.4" stroke="#000" stroke-width="0.6" fill="none"/>
<text x="304.5" y="428.5" font-size="6" fill="#000" text-anchor="end">0</text>
<path d="M305.5 412.4L307.5 412.4" stroke="#000" stroke-width="0.6" fill="none"/>
<text x="304.5" y="414.5" font-size="6" fill="#000" text-anchor="end">1</text>
<path d="M305.5 398.3L307.5 398.3" stroke="#000" stroke-width="0.6" fill="none"/>
<text x="304.5" y="400.4" font-size="6" fill="#000" text-anchor="end">2</text>
<path d="M305.5 383.9L307.5 383.9" stroke="#000" stroke-width="0.6" fill="none"/>
<text x="304.5" y="386" font-size="6" fill="#000" text-anchor="end">3</text>
<path d="M317.7 428.8L317.7 430.6" stroke="#000" stroke-width="0.6" fill="none"/>
<text x="317.7" y="437.7" font-size="6.8" fill="#000" text-anchor="middle">MG4</text>
<path d="M335.8 428.8L335.8 430.6" stroke="#000" stroke-width="0.6" fill="none"/>
<text x="335.8" y="437.7" font-size="6.8" fill="#000" text-anchor="middle">MG5</text>
<path d="M353.8 428.8L353.8 430.6" stroke="#000" stroke-width="0.6" fill="none"/>
<text x="353.8" y="437.7" font-size="6.8" fill="#000" text-anchor="middle">MG6</text>
<path d="M371.9 428.8L371.9 430.6" stroke="#000" stroke-width="0.6" fill="none"/>
<text x="371.9" y="437.7" font-size="6.8" fill="#000" text-anchor="middle">MG7</text>
<text x="342" y="374.3" font-size="9" fill="#000" text-anchor="middle">Cd86</text>
<text x="298.4" y="399.9" font-size="7.9" fill="#000" text-anchor="middle" transform="rotate(-90 298.4 399.9)">Expression Level</text>
<path d="M409.9 426.8H426.7" stroke="#4d4d4d" stroke-width="1.3"/>
<path d="M428 426.8H444.8" stroke="#4d4d4d" stroke-width="1.3"/>
<path d="M446.1 426.8H462.9" stroke="#4d4d4d" stroke-width="1.3"/>
<path d="M464.2 426.8H481" stroke="#4d4d4d" stroke-width="1.3"/>
<path d="M418.3 426.8L418.3 381.8" stroke="#151515" stroke-width="0.9" fill="none"/>
<path d="M436.4 426.8L436.4 381" stroke="#151515" stroke-width="0.9" fill="none"/>
<path d="M454.5 426.8L454.5 404.9" stroke="#151515" stroke-width="0.9" fill="none"/>
<path d="M472.6 426.8L472.6 389.3" stroke="#151515" stroke-width="0.9" fill="none"/>
<path d="M408.1 378.6L408.1 429.3" stroke="#111" stroke-width="1.0" fill="none"/>
<path d="M407.6 428.8L482.6 428.8" stroke="#6a6a6a" stroke-width="1.0" fill="none"/>
<path d="M406.1 426.4L408.1 426.4" stroke="#000" stroke-width="0.6" fill="none"/>
<text x="405.1" y="428.5" font-size="6" fill="#000" text-anchor="end">0</text>
<path d="M406.1 416.9L408.1 416.9" stroke="#000" stroke-width="0.6" fill="none"/>
<text x="405.1" y="419" font-size="6" fill="#000" text-anchor="end">1</text>
<path d="M406.1 407L408.1 407" stroke="#000" stroke-width="0.6" fill="none"/>
<text x="405.1" y="409.1" font-size="6" fill="#000" text-anchor="end">2</text>
<path d="M406.1 396.8L408.1 396.8" stroke="#000" stroke-width="0.6" fill="none"/>
<text x="405.1" y="398.9" font-size="6" fill="#000" text-anchor="end">3</text>
<path d="M406.1 386.9L408.1 386.9" stroke="#000" stroke-width="0.6" fill="none"/>
<text x="405.1" y="389" font-size="6" fill="#000" text-anchor="end">4</text>
<path d="M418.3 428.8L418.3 430.6" stroke="#000" stroke-width="0.6" fill="none"/>
<text x="418.3" y="437.7" font-size="6.8" fill="#000" text-anchor="middle">MG4</text>
<path d="M436.4 428.8L436.4 430.6" stroke="#000" stroke-width="0.6" fill="none"/>
<text x="436.4" y="437.7" font-size="6.8" fill="#000" text-anchor="middle">MG5</text>
<path d="M454.5 428.8L454.5 430.6" stroke="#000" stroke-width="0.6" fill="none"/>
<text x="454.5" y="437.7" font-size="6.8" fill="#000" text-anchor="middle">MG6</text>
<path d="M472.6 428.8L472.6 430.6" stroke="#000" stroke-width="0.6" fill="none"/>
<text x="472.6" y="437.7" font-size="6.8" fill="#000" text-anchor="middle">MG7</text>
<text x="443.1" y="374.3" font-size="9" fill="#000" text-anchor="middle">Ccl2</text>
<text x="393.2" y="399.9" font-size="7.9" fill="#000" text-anchor="middle" transform="rotate(-90 393.2 399.9)">Expression Level</text>
<path d="M507.5 427.7H524.3" stroke="#4d4d4d" stroke-width="1.3"/>
<path d="M525.5 427.7H542.3" stroke="#4d4d4d" stroke-width="1.3"/>
<path d="M543.5 427.7H560.3" stroke="#4d4d4d" stroke-width="1.3"/>
<path d="M561.5 427.7H578.3" stroke="#4d4d4d" stroke-width="1.3"/>
<path d="M515.9 427.3L515.9 381.8" stroke="#151515" stroke-width="0.9" fill="none"/>
<path d="M516.09 383.23L516.52 393.78L518.38 397.5L521.86 403.71L522.1 409.91L521.48 413.63L517.39 418.59L516.52 421.7L517.76 424.18L522.1 426.04L524.34 427.53L519.27 428.1L512.53 428.1L507.46 427.53L509.7 426.04L514.04 424.18L515.28 421.7L514.41 418.59L510.32 413.63L509.7 409.91L509.94 403.71L513.42 397.5L515.28 393.78L515.71 383.23Z" fill="#F8766D" stroke="#111" stroke-width="0.7" stroke-linejoin="round"/>
<path d="M533.9 427.3L533.9 386.3" stroke="#151515" stroke-width="0.9" fill="none"/>
<path d="M534.09 387.33L534.52 393.16L538.24 397.5L541.59 403.71L541.59 407.43L538.86 413.63L536.38 419.84L534.89 424.8L534.52 427.9L534.15 428.1L533.65 428.1L533.28 427.9L532.91 424.8L531.42 419.84L528.94 413.63L526.21 407.43L526.21 403.71L529.56 397.5L533.28 393.16L533.71 387.33Z" fill="#7CAE00" stroke="#111" stroke-width="0.7" stroke-linejoin="round"/>
<path d="M551.9 427.3L551.9 401.9" stroke="#151515" stroke-width="0.9" fill="none"/>
<path d="M552.09 402.84L552.52 408.67L553.76 412.39L554.13 416.73L552.89 421.08L552.52 423.56L555 425.42L559.96 427.28L555.13 428.1L548.67 428.1L543.84 427.28L548.8 425.42L551.28 423.56L550.91 421.08L549.67 416.73L550.04 412.39L551.28 408.67L551.71 402.84Z" fill="#00BFC4" stroke="#111" stroke-width="0.7" stroke-linejoin="round"/>
<path d="M569.9 427.3L569.9 389.9" stroke="#151515" stroke-width="0.9" fill="none"/>
<path d="M570.09 391.05L570.89 392.54L574.24 397.5L577.1 403.71L577.96 408.67L576.1 413.63L574.24 418.59L572.13 423.56L571.76 427.28L570.64 428.1L569.16 428.1L568.04 427.28L567.67 423.56L565.56 418.59L563.7 413.63L561.84 408.67L562.7 403.71L565.56 397.5L568.91 392.54L569.71 391.05Z" fill="#C77CFF" stroke="#111" stroke-width="0.7" stroke-linejoin="round"/>
<path d="M504.8 378.6L504.8 430.2" stroke="#111" stroke-width="1.0" fill="none"/>
<path d="M504.3 429.7L579.9 429.7" stroke="#6a6a6a" stroke-width="1.0" fill="none"/>
<path d="M502.8 427.3L504.8 427.3" stroke="#000" stroke-width="0.6" fill="none"/>
<text x="501.8" y="429.4" font-size="6" fill="#000" text-anchor="end">0</text>
<path d="M502.8 415.1L504.8 415.1" stroke="#000" stroke-width="0.6" fill="none"/>
<text x="501.8" y="417.2" font-size="6" fill="#000" text-anchor="end">2</text>
<path d="M502.8 402.5L504.8 402.5" stroke="#000" stroke-width="0.6" fill="none"/>
<text x="501.8" y="404.6" font-size="6" fill="#000" text-anchor="end">4</text>
<path d="M502.8 389.9L504.8 389.9" stroke="#000" stroke-width="0.6" fill="none"/>
<text x="501.8" y="392" font-size="6" fill="#000" text-anchor="end">6</text>
<path d="M515.9 429.7L515.9 431.5" stroke="#000" stroke-width="0.6" fill="none"/>
<text x="515.9" y="438.6" font-size="6.8" fill="#000" text-anchor="middle">MG4</text>
<path d="M533.9 429.7L533.9 431.5" stroke="#000" stroke-width="0.6" fill="none"/>
<text x="533.9" y="438.6" font-size="6.8" fill="#000" text-anchor="middle">MG5</text>
<path d="M551.9 429.7L551.9 431.5" stroke="#000" stroke-width="0.6" fill="none"/>
<text x="551.9" y="438.6" font-size="6.8" fill="#000" text-anchor="middle">MG6</text>
<path d="M569.9 429.7L569.9 431.5" stroke="#000" stroke-width="0.6" fill="none"/>
<text x="569.9" y="438.6" font-size="6.8" fill="#000" text-anchor="middle">MG7</text>
<text x="542" y="374.3" font-size="9" fill="#000" text-anchor="middle">Ccl4</text>
<text x="496.3" y="400.3" font-size="7.9" fill="#000" text-anchor="middle" transform="rotate(-90 496.3 400.3)">Expression Level</text>
<path d="M606.6 428H623.4" stroke="#4d4d4d" stroke-width="1.3"/>
<path d="M624.7 428H641.5" stroke="#4d4d4d" stroke-width="1.3"/>
<path d="M642.8 428H659.6" stroke="#4d4d4d" stroke-width="1.3"/>
<path d="M660.9 428H677.7" stroke="#4d4d4d" stroke-width="1.3"/>
<path d="M615 428L615 392.9" stroke="#151515" stroke-width="0.9" fill="none"/>
<path d="M633.1 428L633.1 390.5" stroke="#151515" stroke-width="0.9" fill="none"/>
<path d="M651.2 428L651.2 401" stroke="#151515" stroke-width="0.9" fill="none"/>
<path d="M669.3 427.6L669.3 381.6" stroke="#151515" stroke-width="0.9" fill="none"/>
<path d="M669.42 382.41L669.75 405.75L670.35 417.72L670.8 423.71L672.89 425.81L676.18 427L677.38 427.9L672.53 428.4L666.07 428.4L661.22 427.9L662.42 427L665.71 425.81L667.8 423.71L668.25 417.72L668.85 405.75L669.18 382.41Z" fill="#C77CFF" stroke="#111" stroke-width="0.7" stroke-linejoin="round"/>
<path d="M605.1 378.6L605.1 430.5" stroke="#111" stroke-width="1.0" fill="none"/>
<path d="M604.6 430L679.3 430" stroke="#6a6a6a" stroke-width="1.0" fill="none"/>
<path d="M603.1 427.6L605.1 427.6" stroke="#000" stroke-width="0.6" fill="none"/>
<text x="602.1" y="429.7" font-size="6" fill="#000" text-anchor="end">0</text>
<path d="M603.1 413.3L605.1 413.3" stroke="#000" stroke-width="0.6" fill="none"/>
<text x="602.1" y="415.4" font-size="6" fill="#000" text-anchor="end">2</text>
<path d="M603.1 398.9L605.1 398.9" stroke="#000" stroke-width="0.6" fill="none"/>
<text x="602.1" y="401" font-size="6" fill="#000" text-anchor="end">4</text>
<path d="M603.1 383.9L605.1 383.9" stroke="#000" stroke-width="0.6" fill="none"/>
<text x="602.1" y="386" font-size="6" fill="#000" text-anchor="end">6</text>
<path d="M615 430L615 431.8" stroke="#000" stroke-width="0.6" fill="none"/>
<text x="615" y="438.9" font-size="6.8" fill="#000" text-anchor="middle">MG4</text>
<path d="M633.1 430L633.1 431.8" stroke="#000" stroke-width="0.6" fill="none"/>
<text x="633.1" y="438.9" font-size="6.8" fill="#000" text-anchor="middle">MG5</text>
<path d="M651.2 430L651.2 431.8" stroke="#000" stroke-width="0.6" fill="none"/>
<text x="651.2" y="438.9" font-size="6.8" fill="#000" text-anchor="middle">MG6</text>
<path d="M669.3 430L669.3 431.8" stroke="#000" stroke-width="0.6" fill="none"/>
<text x="669.3" y="438.9" font-size="6.8" fill="#000" text-anchor="middle">MG7</text>
<text x="644.6" y="374.3" font-size="9" fill="#000" text-anchor="middle">Cxcl10</text>
<text x="594.7" y="400.5" font-size="7.9" fill="#000" text-anchor="middle" transform="rotate(-90 594.7 400.5)">Expression Level</text>
<path d="M308.8 499.7H325.6" stroke="#4d4d4d" stroke-width="1.3"/>
<path d="M326.9 499.7H343.7" stroke="#4d4d4d" stroke-width="1.3"/>
<path d="M345 499.7H361.8" stroke="#4d4d4d" stroke-width="1.3"/>
<path d="M363.1 499.7H379.9" stroke="#4d4d4d" stroke-width="1.3"/>
<path d="M317.2 499.7L317.2 453.8" stroke="#151515" stroke-width="0.9" fill="none"/>
<path d="M335.3 499.7L335.3 471.8" stroke="#151515" stroke-width="0.9" fill="none"/>
<path d="M371.5 499.7L371.5 472.7" stroke="#151515" stroke-width="0.9" fill="none"/>
<path d="M306.7 451.6L306.7 502.2" stroke="#111" stroke-width="1.0" fill="none"/>
<path d="M306.2 501.7L381.5 501.7" stroke="#6a6a6a" stroke-width="1.0" fill="none"/>
<path d="M304.7 499.3L306.7 499.3" stroke="#000" stroke-width="0.6" fill="none"/>
<text x="303.7" y="501.4" font-size="6" fill="#000" text-anchor="end">0.0</text>
<path d="M304.7 490L306.7 490" stroke="#000" stroke-width="0.6" fill="none"/>
<text x="303.7" y="492.1" font-size="6" fill="#000" text-anchor="end">0.5</text>
<path d="M304.7 480.5L306.7 480.5" stroke="#000" stroke-width="0.6" fill="none"/>
<text x="303.7" y="482.6" font-size="6" fill="#000" text-anchor="end">1.0</text>
<path d="M304.7 471.2L306.7 471.2" stroke="#000" stroke-width="0.6" fill="none"/>
<text x="303.7" y="473.3" font-size="6" fill="#000" text-anchor="end">1.5</text>
<path d="M304.7 461.7L306.7 461.7" stroke="#000" stroke-width="0.6" fill="none"/>
<text x="303.7" y="463.8" font-size="6" fill="#000" text-anchor="end">2.0</text>
<path d="M304.7 452.3L306.7 452.3" stroke="#000" stroke-width="0.6" fill="none"/>
<text x="303.7" y="454.4" font-size="6" fill="#000" text-anchor="end">2.5</text>
<path d="M317.2 501.7L317.2 503.5" stroke="#000" stroke-width="0.6" fill="none"/>
<text x="317.2" y="510.7" font-size="6.8" fill="#000" text-anchor="middle">MG4</text>
<path d="M335.3 501.7L335.3 503.5" stroke="#000" stroke-width="0.6" fill="none"/>
<text x="335.3" y="510.7" font-size="6.8" fill="#000" text-anchor="middle">MG5</text>
<path d="M353.4 501.7L353.4 503.5" stroke="#000" stroke-width="0.6" fill="none"/>
<text x="353.4" y="510.7" font-size="6.8" fill="#000" text-anchor="middle">MG6</text>
<path d="M371.5 501.7L371.5 503.5" stroke="#000" stroke-width="0.6" fill="none"/>
<text x="371.5" y="510.7" font-size="6.8" fill="#000" text-anchor="middle">MG7</text>
<text x="342" y="449" font-size="9" fill="#000" text-anchor="middle">Tnf</text>
<text x="291.7" y="472.8" font-size="7.9" fill="#000" text-anchor="middle" transform="rotate(-90 291.7 472.8)">Expression Level</text>
<path d="M409.3 499.4H426.1" stroke="#4d4d4d" stroke-width="1.3"/>
<path d="M427.4 499.4H444.2" stroke="#4d4d4d" stroke-width="1.3"/>
<path d="M445.6 499.4H462.4" stroke="#4d4d4d" stroke-width="1.3"/>
<path d="M463.8 499.4H480.5" stroke="#4d4d4d" stroke-width="1.3"/>
<path d="M417.7 499L417.7 453" stroke="#151515" stroke-width="0.9" fill="none"/>
<path d="M417.89 453.69L418.07 464.24L419.19 467.96L419.93 471.68L418.94 476.03L418.07 479.75L418.07 492.16L419.19 494.02L423.28 497.12L425.39 499.23L420.78 499.8L414.62 499.8L410.01 499.23L412.12 497.12L416.21 494.02L417.33 492.16L417.33 479.75L416.46 476.03L415.47 471.68L416.21 467.96L417.33 464.24L417.51 453.69Z" fill="#F8766D" stroke="#111" stroke-width="0.7" stroke-linejoin="round"/>
<path d="M435.8 499L435.8 465.5" stroke="#151515" stroke-width="0.9" fill="none"/>
<path d="M436.04 466.1L436.84 474.17L439.57 480.99L442.05 487.19L439.32 491.54L437.09 494.64L438.33 496.5L443.54 498.73L438.93 499.8L432.77 499.8L428.16 498.73L433.37 496.5L434.61 494.64L432.38 491.54L429.65 487.19L432.13 480.99L434.86 474.17L435.66 466.1Z" fill="#7CAE00" stroke="#111" stroke-width="0.7" stroke-linejoin="round"/>
<path d="M454 499L454 459.8" stroke="#151515" stroke-width="0.9" fill="none"/>
<path d="M454.19 460.52L454.25 469.2L454.99 476.65L454.37 485.33L454.37 493.4L455.86 495.26L459.58 497.74L461.44 499.23L456.98 499.8L451.02 499.8L446.56 499.23L448.42 497.74L452.14 495.26L453.63 493.4L453.63 485.33L453.01 476.65L453.75 469.2L453.81 460.52Z" fill="#00BFC4" stroke="#111" stroke-width="0.7" stroke-linejoin="round"/>
<path d="M472.1 499L472.1 458.9" stroke="#151515" stroke-width="0.9" fill="none"/>
<path d="M472.34 459.9L473.14 467.96L475.87 475.41L478.97 484.71L476.49 489.05L474.01 492.78L473.64 494.64L476.49 497.12L479.84 499.23L475.23 499.8L469.07 499.8L464.46 499.23L467.81 497.12L470.66 494.64L470.29 492.78L467.81 489.05L465.33 484.71L468.43 475.41L471.16 467.96L471.96 459.9Z" fill="#C77CFF" stroke="#111" stroke-width="0.7" stroke-linejoin="round"/>
<path d="M407.2 451.6L407.2 501.9" stroke="#111" stroke-width="1.0" fill="none"/>
<path d="M406.7 501.4L482.1 501.4" stroke="#6a6a6a" stroke-width="1.0" fill="none"/>
<path d="M405.2 499L407.2 499" stroke="#000" stroke-width="0.6" fill="none"/>
<text x="404.2" y="501.1" font-size="6" fill="#000" text-anchor="end">0</text>
<path d="M405.2 486.5L407.2 486.5" stroke="#000" stroke-width="0.6" fill="none"/>
<text x="404.2" y="488.6" font-size="6" fill="#000" text-anchor="end">1</text>
<path d="M405.2 473.9L407.2 473.9" stroke="#000" stroke-width="0.6" fill="none"/>
<text x="404.2" y="476" font-size="6" fill="#000" text-anchor="end">2</text>
<path d="M405.2 461.3L407.2 461.3" stroke="#000" stroke-width="0.6" fill="none"/>
<text x="404.2" y="463.4" font-size="6" fill="#000" text-anchor="end">3</text>
<path d="M417.7 501.4L417.7 503.2" stroke="#000" stroke-width="0.6" fill="none"/>
<text x="417.7" y="510.4" font-size="6.8" fill="#000" text-anchor="middle">MG4</text>
<path d="M435.8 501.4L435.8 503.2" stroke="#000" stroke-width="0.6" fill="none"/>
<text x="435.8" y="510.4" font-size="6.8" fill="#000" text-anchor="middle">MG5</text>
<path d="M454 501.4L454 503.2" stroke="#000" stroke-width="0.6" fill="none"/>
<text x="454" y="510.4" font-size="6.8" fill="#000" text-anchor="middle">MG6</text>
<path d="M472.1 501.4L472.1 503.2" stroke="#000" stroke-width="0.6" fill="none"/>
<text x="472.1" y="510.4" font-size="6.8" fill="#000" text-anchor="middle">MG7</text>
<text x="441.6" y="449" font-size="9" fill="#000" text-anchor="middle">Tlr2</text>
<text x="397.1" y="472.7" font-size="7.9" fill="#000" text-anchor="middle" transform="rotate(-90 397.1 472.7)">Expression Level</text>
<path d="M506.6 499.4H523.4" stroke="#4d4d4d" stroke-width="1.3"/>
<path d="M524.6 499.4H541.4" stroke="#4d4d4d" stroke-width="1.3"/>
<path d="M542.5 499.4H559.3" stroke="#4d4d4d" stroke-width="1.3"/>
<path d="M560.5 499.4H577.3" stroke="#4d4d4d" stroke-width="1.3"/>
<path d="M515 499.4L515 453.6" stroke="#151515" stroke-width="0.9" fill="none"/>
<path d="M533 499.4L533 473.9" stroke="#151515" stroke-width="0.9" fill="none"/>
<path d="M550.9 499.4L550.9 470" stroke="#151515" stroke-width="0.9" fill="none"/>
<path d="M568.9 499.4L568.9 477.8" stroke="#151515" stroke-width="0.9" fill="none"/>
<path d="M503.9 451.6L503.9 501.9" stroke="#111" stroke-width="1.0" fill="none"/>
<path d="M503.4 501.4L578.9 501.4" stroke="#6a6a6a" stroke-width="1.0" fill="none"/>
<path d="M501.9 499L503.9 499" stroke="#000" stroke-width="0.6" fill="none"/>
<text x="500.9" y="501.1" font-size="6" fill="#000" text-anchor="end">0</text>
<path d="M501.9 486.2L503.9 486.2" stroke="#000" stroke-width="0.6" fill="none"/>
<text x="500.9" y="488.3" font-size="6" fill="#000" text-anchor="end">1</text>
<path d="M501.9 473.3L503.9 473.3" stroke="#000" stroke-width="0.6" fill="none"/>
<text x="500.9" y="475.4" font-size="6" fill="#000" text-anchor="end">2</text>
<path d="M501.9 460.4L503.9 460.4" stroke="#000" stroke-width="0.6" fill="none"/>
<text x="500.9" y="462.5" font-size="6" fill="#000" text-anchor="end">3</text>
<path d="M515 501.4L515 503.2" stroke="#000" stroke-width="0.6" fill="none"/>
<text x="515" y="510.4" font-size="6.8" fill="#000" text-anchor="middle">MG4</text>
<path d="M533 501.4L533 503.2" stroke="#000" stroke-width="0.6" fill="none"/>
<text x="533" y="510.4" font-size="6.8" fill="#000" text-anchor="middle">MG5</text>
<path d="M550.9 501.4L550.9 503.2" stroke="#000" stroke-width="0.6" fill="none"/>
<text x="550.9" y="510.4" font-size="6.8" fill="#000" text-anchor="middle">MG6</text>
<path d="M568.9 501.4L568.9 503.2" stroke="#000" stroke-width="0.6" fill="none"/>
<text x="568.9" y="510.4" font-size="6.8" fill="#000" text-anchor="middle">MG7</text>
<text x="536.9" y="449" font-size="9" fill="#000" text-anchor="middle">Tlr4</text>
<text x="495.4" y="472.7" font-size="7.9" fill="#000" text-anchor="middle" transform="rotate(-90 495.4 472.7)">Expression Level</text>
<path d="M308.9 593H325.7" stroke="#4d4d4d" stroke-width="1.3"/>
<path d="M327 593H343.8" stroke="#4d4d4d" stroke-width="1.3"/>
<path d="M345.1 593H361.9" stroke="#4d4d4d" stroke-width="1.3"/>
<path d="M363.2 593H380" stroke="#4d4d4d" stroke-width="1.3"/>
<path d="M335.4 593L335.4 556.3" stroke="#151515" stroke-width="0.9" fill="none"/>
<path d="M371.6 593L371.6 547" stroke="#151515" stroke-width="0.9" fill="none"/>
<path d="M306.7 544.9L306.7 595.5" stroke="#111" stroke-width="1.0" fill="none"/>
<path d="M306.2 595L381.6 595" stroke="#6a6a6a" stroke-width="1.0" fill="none"/>
<path d="M304.7 592.6L306.7 592.6" stroke="#000" stroke-width="0.6" fill="none"/>
<text x="303.7" y="594.7" font-size="6" fill="#000" text-anchor="end">0.0</text>
<path d="M304.7 575L306.7 575" stroke="#000" stroke-width="0.6" fill="none"/>
<text x="303.7" y="577.1" font-size="6" fill="#000" text-anchor="end">0.5</text>
<path d="M304.7 557.5L306.7 557.5" stroke="#000" stroke-width="0.6" fill="none"/>
<text x="303.7" y="559.6" font-size="6" fill="#000" text-anchor="end">1.0</text>
<path d="M317.3 595L317.3 596.8" stroke="#000" stroke-width="0.6" fill="none"/>
<text x="317.3" y="603.2" font-size="6.8" fill="#000" text-anchor="middle">MG4</text>
<path d="M335.4 595L335.4 596.8" stroke="#000" stroke-width="0.6" fill="none"/>
<text x="335.4" y="603.2" font-size="6.8" fill="#000" text-anchor="middle">MG5</text>
<path d="M353.5 595L353.5 596.8" stroke="#000" stroke-width="0.6" fill="none"/>
<text x="353.5" y="603.2" font-size="6.8" fill="#000" text-anchor="middle">MG6</text>
<path d="M371.6 595L371.6 596.8" stroke="#000" stroke-width="0.6" fill="none"/>
<text x="371.6" y="603.2" font-size="6.8" fill="#000" text-anchor="middle">MG7</text>
<text x="342.8" y="538.9" font-size="9" fill="#000" text-anchor="middle">Tgm2</text>
<text x="292.4" y="566.2" font-size="7.9" fill="#000" text-anchor="middle" transform="rotate(-90 292.4 566.2)">Expression Level</text>
<path d="M407.8 591.4H424.6" stroke="#4d4d4d" stroke-width="1.3"/>
<path d="M425.9 591.4H442.7" stroke="#4d4d4d" stroke-width="1.3"/>
<path d="M443.9 591.4H460.7" stroke="#4d4d4d" stroke-width="1.3"/>
<path d="M462 591.4H478.8" stroke="#4d4d4d" stroke-width="1.3"/>
<path d="M416.2 591.4L416.2 553.9" stroke="#151515" stroke-width="0.9" fill="none"/>
<path d="M434.3 591.4L434.3 563.5" stroke="#151515" stroke-width="0.9" fill="none"/>
<path d="M452.3 591.4L452.3 545.8" stroke="#151515" stroke-width="0.9" fill="none"/>
<path d="M470.4 591.4L470.4 570.6" stroke="#151515" stroke-width="0.9" fill="none"/>
<path d="M407.2 544L407.2 593.9" stroke="#111" stroke-width="1.0" fill="none"/>
<path d="M406.7 593.4L480.4 593.4" stroke="#6a6a6a" stroke-width="1.0" fill="none"/>
<path d="M405.2 591L407.2 591" stroke="#000" stroke-width="0.6" fill="none"/>
<text x="404.2" y="593.1" font-size="6" fill="#000" text-anchor="end">0</text>
<path d="M405.2 575.7L407.2 575.7" stroke="#000" stroke-width="0.6" fill="none"/>
<text x="404.2" y="577.8" font-size="6" fill="#000" text-anchor="end">1</text>
<path d="M405.2 560.2L407.2 560.2" stroke="#000" stroke-width="0.6" fill="none"/>
<text x="404.2" y="562.3" font-size="6" fill="#000" text-anchor="end">2</text>
<path d="M405.2 544.9L407.2 544.9" stroke="#000" stroke-width="0.6" fill="none"/>
<text x="404.2" y="547" font-size="6" fill="#000" text-anchor="end">3</text>
<path d="M416.2 593.4L416.2 595.2" stroke="#000" stroke-width="0.6" fill="none"/>
<text x="416.2" y="601.6" font-size="6.8" fill="#000" text-anchor="middle">MG4</text>
<path d="M434.3 593.4L434.3 595.2" stroke="#000" stroke-width="0.6" fill="none"/>
<text x="434.3" y="601.6" font-size="6.8" fill="#000" text-anchor="middle">MG5</text>
<path d="M452.3 593.4L452.3 595.2" stroke="#000" stroke-width="0.6" fill="none"/>
<text x="452.3" y="601.6" font-size="6.8" fill="#000" text-anchor="middle">MG6</text>
<path d="M470.4 593.4L470.4 595.2" stroke="#000" stroke-width="0.6" fill="none"/>
<text x="470.4" y="601.6" font-size="6.8" fill="#000" text-anchor="middle">MG7</text>
<text x="437.1" y="538.9" font-size="9" fill="#000" text-anchor="middle">Mrc1</text>
<text x="396.5" y="564.9" font-size="7.9" fill="#000" text-anchor="middle" transform="rotate(-90 396.5 564.9)">Expression Level</text>
<path d="M507.5 591.2H524.3" stroke="#4d4d4d" stroke-width="1.3"/>
<path d="M525.6 591.2H542.4" stroke="#4d4d4d" stroke-width="1.3"/>
<path d="M543.6 591.2H560.4" stroke="#4d4d4d" stroke-width="1.3"/>
<path d="M561.7 591.2H578.5" stroke="#4d4d4d" stroke-width="1.3"/>
<path d="M515.9 591.2L515.9 545.8" stroke="#151515" stroke-width="0.9" fill="none"/>
<path d="M534 591.2L534 565.8" stroke="#151515" stroke-width="0.9" fill="none"/>
<path d="M552 591.2L552 553.9" stroke="#151515" stroke-width="0.9" fill="none"/>
<path d="M570.1 591.2L570.1 565.8" stroke="#151515" stroke-width="0.9" fill="none"/>
<path d="M504.8 544L504.8 593.7" stroke="#111" stroke-width="1.0" fill="none"/>
<path d="M504.3 593.2L580.1 593.2" stroke="#6a6a6a" stroke-width="1.0" fill="none"/>
<path d="M502.8 590.8L504.8 590.8" stroke="#000" stroke-width="0.6" fill="none"/>
<text x="501.8" y="592.9" font-size="6" fill="#000" text-anchor="end">0</text>
<path d="M502.8 576L504.8 576" stroke="#000" stroke-width="0.6" fill="none"/>
<text x="501.8" y="578.1" font-size="6" fill="#000" text-anchor="end">1</text>
<path d="M502.8 561.1L504.8 561.1" stroke="#000" stroke-width="0.6" fill="none"/>
<text x="501.8" y="563.2" font-size="6" fill="#000" text-anchor="end">2</text>
<path d="M502.8 546.4L504.8 546.4" stroke="#000" stroke-width="0.6" fill="none"/>
<text x="501.8" y="548.5" font-size="6" fill="#000" text-anchor="end">3</text>
<path d="M515.9 593.2L515.9 595" stroke="#000" stroke-width="0.6" fill="none"/>
<text x="515.9" y="601.4" font-size="6.8" fill="#000" text-anchor="middle">MG4</text>
<path d="M534 593.2L534 595" stroke="#000" stroke-width="0.6" fill="none"/>
<text x="534" y="601.4" font-size="6.8" fill="#000" text-anchor="middle">MG5</text>
<path d="M552 593.2L552 595" stroke="#000" stroke-width="0.6" fill="none"/>
<text x="552" y="601.4" font-size="6.8" fill="#000" text-anchor="middle">MG6</text>
<path d="M570.1 593.2L570.1 595" stroke="#000" stroke-width="0.6" fill="none"/>
<text x="570.1" y="601.4" font-size="6.8" fill="#000" text-anchor="middle">MG7</text>
<text x="540.8" y="538.9" font-size="9" fill="#000" text-anchor="middle">Cd33</text>
<text x="496" y="564.8" font-size="7.9" fill="#000" text-anchor="middle" transform="rotate(-90 496 564.8)">Expression Level</text>
<path d="M606.9 591.4H623.7" stroke="#4d4d4d" stroke-width="1.3"/>
<path d="M625 591.4H641.8" stroke="#4d4d4d" stroke-width="1.3"/>
<path d="M643 591.4H659.8" stroke="#4d4d4d" stroke-width="1.3"/>
<path d="M661.1 591.4H677.9" stroke="#4d4d4d" stroke-width="1.3"/>
<path d="M615.3 591.4L615.3 545.8" stroke="#151515" stroke-width="0.9" fill="none"/>
<path d="M633.4 591L633.4 547.9" stroke="#151515" stroke-width="0.9" fill="none"/>
<path d="M633.56 548.8L633.99 563.06L635.6 571.75L636.84 579.19L636.1 582.92L634.86 586.02L635.6 587.88L639.57 589.74L641.43 591.23L636.6 591.8L630.14 591.8L625.31 591.23L627.17 589.74L631.14 587.88L631.88 586.02L630.64 582.92L629.9 579.19L631.14 571.75L632.75 563.06L633.18 548.8Z" fill="#7CAE00" stroke="#111" stroke-width="0.7" stroke-linejoin="round"/>
<path d="M651.4 591.4L651.4 547" stroke="#151515" stroke-width="0.9" fill="none"/>
<path d="M669.5 591L669.5 556.3" stroke="#151515" stroke-width="0.9" fill="none"/>
<path d="M669.7 557.48L670.13 569.27L671.25 575.47L671.37 578.57L670.25 582.92L670.13 586.02L671.99 587.88L675.71 589.74L677.95 591.23L672.88 591.8L666.14 591.8L661.07 591.23L663.31 589.74L667.03 587.88L668.89 586.02L668.77 582.92L667.65 578.57L667.77 575.47L668.89 569.27L669.32 557.48Z" fill="#C77CFF" stroke="#111" stroke-width="0.7" stroke-linejoin="round"/>
<path d="M604.2 544L604.2 593.9" stroke="#111" stroke-width="1.0" fill="none"/>
<path d="M603.7 593.4L679.5 593.4" stroke="#6a6a6a" stroke-width="1.0" fill="none"/>
<path d="M602.2 591L604.2 591" stroke="#000" stroke-width="0.6" fill="none"/>
<text x="601.2" y="593.1" font-size="6" fill="#000" text-anchor="end">0</text>
<path d="M602.2 578.4L604.2 578.4" stroke="#000" stroke-width="0.6" fill="none"/>
<text x="601.2" y="580.5" font-size="6" fill="#000" text-anchor="end">1</text>
<path d="M602.2 565.8L604.2 565.8" stroke="#000" stroke-width="0.6" fill="none"/>
<text x="601.2" y="567.9" font-size="6" fill="#000" text-anchor="end">2</text>
<path d="M602.2 553.6L604.2 553.6" stroke="#000" stroke-width="0.6" fill="none"/>
<text x="601.2" y="555.7" font-size="6" fill="#000" text-anchor="end">3</text>
<path d="M615.3 593.4L615.3 595.2" stroke="#000" stroke-width="0.6" fill="none"/>
<text x="615.3" y="601.6" font-size="6.8" fill="#000" text-anchor="middle">MG4</text>
<path d="M633.4 593.4L633.4 595.2" stroke="#000" stroke-width="0.6" fill="none"/>
<text x="633.4" y="601.6" font-size="6.8" fill="#000" text-anchor="middle">MG5</text>
<path d="M651.4 593.4L651.4 595.2" stroke="#000" stroke-width="0.6" fill="none"/>
<text x="651.4" y="601.6" font-size="6.8" fill="#000" text-anchor="middle">MG6</text>
<path d="M669.5 593.4L669.5 595.2" stroke="#000" stroke-width="0.6" fill="none"/>
<text x="669.5" y="601.6" font-size="6.8" fill="#000" text-anchor="middle">MG7</text>
<text x="636.2" y="538.9" font-size="9" fill="#000" text-anchor="middle">Igf1</text>
<text x="594.7" y="564.9" font-size="7.9" fill="#000" text-anchor="middle" transform="rotate(-90 594.7 564.9)">Expression Level</text>
</g>
<g id="panelE">
<text x="2.5" y="626.5" font-size="13.5" fill="#000" font-weight="bold" stroke="none">E</text>
<rect x="37.3" y="638.5" width="35.6" height="2.6" fill="#F9918A"/>
<rect x="37.3" y="640.9" width="35.6" height="3.6" fill="#B5B733"/>
<rect x="37.3" y="644.3" width="35.6" height="8.5" fill="#33CC97"/>
<rect x="37.3" y="652.6" width="35.6" height="9" fill="#33C0F8"/>
<rect x="37.3" y="661.4" width="35.6" height="207.8" fill="#EC89F5"/>
<rect x="81.9" y="638.5" width="35.6" height="2.6" fill="#F9918A"/>
<rect x="81.9" y="640.9" width="35.6" height="3.6" fill="#B5B733"/>
<rect x="81.9" y="644.3" width="35.6" height="15.6" fill="#33CC97"/>
<rect x="81.9" y="659.7" width="35.6" height="16.3" fill="#33C0F8"/>
<rect x="81.9" y="675.8" width="35.6" height="193.4" fill="#EC89F5"/>
<rect x="126.6" y="638.5" width="35.6" height="2.3" fill="#F9918A"/>
<rect x="126.6" y="640.6" width="35.6" height="2.2" fill="#B5B733"/>
<rect x="126.6" y="642.6" width="35.6" height="6.6" fill="#33CC97"/>
<rect x="126.6" y="649" width="35.6" height="14.6" fill="#33C0F8"/>
<rect x="126.6" y="663.4" width="35.6" height="205.8" fill="#EC89F5"/>
<rect x="171.3" y="638.5" width="35.6" height="2.6" fill="#F9918A"/>
<rect x="171.3" y="640.9" width="35.6" height="2.9" fill="#B5B733"/>
<rect x="171.3" y="643.6" width="35.6" height="9.6" fill="#33CC97"/>
<rect x="171.3" y="653" width="35.6" height="11.9" fill="#33C0F8"/>
<rect x="171.3" y="664.7" width="35.6" height="204.5" fill="#EC89F5"/>
<path d="M27.6 631.8L27.6 871.8" stroke="#111" stroke-width="1.25" fill="none"/>
<path d="M27 871.2L221.6 871.2" stroke="#1a1a1a" stroke-width="1.4" fill="none"/>
<path d="M25.3 639.2L27.5 639.2" stroke="#000" stroke-width="0.9" fill="none"/>
<text x="21.6" y="642" font-size="7.8" fill="#000" text-anchor="end">100</text>
<path d="M25.3 696.6L27.5 696.6" stroke="#000" stroke-width="0.9" fill="none"/>
<text x="21.6" y="699.4" font-size="7.8" fill="#000" text-anchor="end">75</text>
<path d="M25.3 754.1L27.5 754.1" stroke="#000" stroke-width="0.9" fill="none"/>
<text x="21.6" y="756.9" font-size="7.8" fill="#000" text-anchor="end">50</text>
<path d="M25.3 811.5L27.5 811.5" stroke="#000" stroke-width="0.9" fill="none"/>
<text x="21.6" y="814.3" font-size="7.8" fill="#000" text-anchor="end">25</text>
<path d="M25.3 869.2L27.5 869.2" stroke="#000" stroke-width="0.9" fill="none"/>
<text x="21.6" y="872" font-size="7.8" fill="#000" text-anchor="end">0</text>
<path d="M55.1 871.2L55.1 874" stroke="#000" stroke-width="0.9" fill="none"/>
<text x="58.6" y="882" font-size="8.2" fill="#000" text-anchor="end" transform="rotate(-30 58.6 882)">4W Sham</text>
<path d="M99.8 871.2L99.8 874" stroke="#000" stroke-width="0.9" fill="none"/>
<text x="103.2" y="882" font-size="8.2" fill="#000" text-anchor="end" transform="rotate(-30 103.2 882)">4W CCH</text>
<path d="M144.4 871.2L144.4 874" stroke="#000" stroke-width="0.9" fill="none"/>
<text x="147.9" y="882" font-size="8.2" fill="#000" text-anchor="end" transform="rotate(-30 147.9 882)">8W Sham</text>
<path d="M189 871.2L189 874" stroke="#000" stroke-width="0.9" fill="none"/>
<text x="192.5" y="882" font-size="8.2" fill="#000" text-anchor="end" transform="rotate(-30 192.5 882)">8W CCH</text>
<text x="7.6" y="757.8" font-size="9.4" fill="#000" text-anchor="middle" transform="rotate(-90 7.6 757.8)">Fraction of microglia clusters</text>
<circle cx="234.7" cy="725.9" r="6.1" fill="#F9918A"/>
<text x="247.7" y="730.5" font-size="7.8" fill="#000">MG7</text>
<circle cx="234.7" cy="739.1" r="6.1" fill="#B5B733"/>
<text x="247.7" y="743.7" font-size="7.8" fill="#000">MG6</text>
<circle cx="234.7" cy="752.4" r="6.1" fill="#33CC97"/>
<text x="247.7" y="757" font-size="7.8" fill="#000">MG5</text>
<circle cx="234.7" cy="765.6" r="6.1" fill="#33C0F8"/>
<text x="247.7" y="770.2" font-size="7.8" fill="#000">MG4</text>
<circle cx="234.7" cy="778.8" r="6.1" fill="#EC89F5"/>
<text x="247.7" y="783.4" font-size="7.8" fill="#000">MG0−3</text>
</g>
<g id="panelF">
<text x="277.4" y="626.3" font-size="13.5" fill="#000" font-weight="bold" stroke="none">F</text>
<defs><filter id="rghF" x="-5%" y="-5%" width="110%" height="110%"><feTurbulence type="fractalNoise" baseFrequency="0.45" numOctaves="1" seed="5" result="n"/><feDisplacementMap in="SourceGraphic" in2="n" scale="3.2" xChannelSelector="R" yChannelSelector="G"/></filter></defs>
<g filter="url(#rghF)">
<path d="M360 677.7C360.2 675.2 360.3 673.7 361.5 671.9C362.6 670.1 364.9 668.5 366.7 666.9C368.6 665.4 370.6 664 372.6 662.6C374.5 661.1 376.2 659.4 378.4 658.2C380.6 657 383.3 656.1 385.7 655.3C388.1 654.4 390.3 653.8 393 653.2C395.7 652.6 399.3 651.9 401.8 651.5C404.2 651 405.6 651 407.6 650.3C409.5 649.6 411.2 648.2 413.4 647.4C415.6 646.5 418.1 645.6 420.7 645C423.4 644.5 426.8 644.3 429.5 644.2C432.2 644.1 434.1 644.2 436.8 644.5C439.5 644.7 442.9 645.3 445.5 645.9C448.2 646.5 450.4 647.1 452.8 648C455.3 648.8 458 649.9 460.1 650.9C462.3 651.8 464.3 652.6 466 653.8C467.7 655 469.3 656.5 470.4 658.2C471.4 659.9 472.3 662.1 472.4 664C472.6 666 470.6 667.9 471.2 669.9C471.9 671.8 474.4 673.7 476.2 675.7C478 677.6 480.1 679.4 482 681.5C484 683.6 486.2 685.8 487.9 688.2C489.6 690.7 491 693.6 492.3 696.1C493.5 698.7 494.8 700.5 495.2 703.4C495.6 706.4 495.3 710.5 494.6 713.6C493.9 716.8 492.4 720 490.8 722.4C489.2 724.8 487.2 726.5 485 728.2C482.8 730 480.3 731.3 477.7 732.6C475 733.9 471.8 735.3 468.9 736.1C466 737 463.6 737.4 460.1 737.9C456.7 738.4 450.9 738.6 448.5 739.1C446 739.5 448.5 740.4 445.5 740.8C442.6 741.2 435.8 741 430.9 741.4C426.1 741.8 420.4 742.8 416.4 743.1C412.3 743.4 409.4 744.1 406.7 743.1C404 742.2 402 739.3 400.3 737.6C398.6 735.8 397.7 733.6 396.5 732.6C395.3 731.7 394.5 732.3 393 732C391.4 731.8 389.1 731.8 387.2 731.2C385.2 730.5 382.9 729.7 381.3 728.2C379.7 726.8 378.2 724.4 377.5 722.4C376.9 720.5 377.1 718.2 377.5 716.6C377.9 715 380 714 379.9 712.8C379.8 711.6 378.2 710.2 376.9 709.3C375.7 708.3 373.9 708.3 372.6 706.9C371.2 705.6 370.3 702.7 369.1 701.1C367.8 699.4 366.6 697.8 365.3 697C363.9 696.2 361.8 697.7 360.9 696.1C360 694.5 360.1 690.4 360 687.4C359.9 684.3 359.8 680.3 360 677.7Z" fill="#D3D3D3"/>
<path d="M393 722.7C393.4 720.9 395.4 719 397.4 719.2C399.3 719.4 402 722.8 404.7 723.9C407.3 724.9 410.8 725.6 413.4 725.6C416.1 725.6 418.8 723.2 420.7 723.9C422.7 724.5 422.4 729 425.1 729.7C427.8 730.4 434.7 727.5 436.8 728.2C438.8 729 435.6 732.6 437.4 734.1C439.1 735.5 445.9 735.8 447.3 737C448.7 738.2 448.3 740.4 445.5 741.1C442.8 741.8 435.8 741 430.9 741.4C426.1 741.8 420.4 743.1 416.4 743.4C412.3 743.8 409.1 744.4 406.4 743.4C403.7 742.5 402.2 739.8 400.3 737.6C398.3 735.4 396 732.8 394.7 730.3C393.5 727.8 392.6 724.5 393 722.7Z" fill="#7BBF4A"/>
</g>
<circle cx="393.5" cy="722.2" r="1.8" fill="#7BBF4A"/>
<circle cx="396" cy="721" r="1.8" fill="#7BBF4A"/>
<circle cx="398.5" cy="720.4" r="1.8" fill="#7BBF4A"/>
<circle cx="401.9" cy="723" r="1.8" fill="#7BBF4A"/>
<circle cx="410.3" cy="725.9" r="1.8" fill="#7BBF4A"/>
<circle cx="415.1" cy="725.4" r="1.8" fill="#7BBF4A"/>
<circle cx="438.9" cy="734.3" r="1.8" fill="#7BBF4A"/>
<circle cx="446.7" cy="739.5" r="1.8" fill="#7BBF4A"/>
<circle cx="435" cy="740.8" r="1.8" fill="#7BBF4A"/>
<circle cx="427.9" cy="742" r="1.8" fill="#7BBF4A"/>
<circle cx="399.8" cy="736.6" r="1.8" fill="#7BBF4A"/>
<circle cx="394.5" cy="728.8" r="1.8" fill="#7BBF4A"/>
<circle cx="393.3" cy="725" r="1.8" fill="#7BBF4A"/>
<circle cx="460.1" cy="658.5" r="2.0" fill="#7BBF4A"/>
<circle cx="376.1" cy="700.2" r="2.0" fill="#7BBF4A"/>
<circle cx="388.3" cy="713.6" r="2.0" fill="#7BBF4A"/>
<circle cx="386" cy="712.2" r="2.0" fill="#7BBF4A"/>
<text x="437.7" y="657.2" font-size="7.8" fill="#111" text-anchor="middle">4</text>
<text x="398.2" y="682.3" font-size="7.8" fill="#111" text-anchor="middle">0</text>
<text x="366.7" y="684.3" font-size="7.8" fill="#111" text-anchor="middle">6</text>
<text x="451.1" y="690.2" font-size="7.8" fill="#111" text-anchor="middle">1</text>
<text x="429.5" y="710.6" font-size="7.8" fill="#111" text-anchor="middle">2</text>
<text x="473.3" y="717.9" font-size="7.8" fill="#111" text-anchor="middle">3</text>
<text x="388.3" y="724.3" font-size="7.8" fill="#111" text-anchor="middle">7</text>
<text x="412.8" y="736.6" font-size="7.8" fill="#111" text-anchor="middle">5</text>
<text x="437.7" y="633.1" font-size="9.2" fill="#000" text-anchor="middle">4W CCH</text>
<g filter="url(#rghF)">
<path d="M508.5 678.3C508.8 675.2 509.9 673.3 511.3 671.2C512.8 669.1 514.9 667.4 517 665.5C519.2 663.6 521.5 661.5 524.2 659.8C526.8 658.2 529.9 656.7 532.7 655.5C535.5 654.4 538.2 653.4 541.2 652.7C544.3 652 548.1 651.7 551.2 651.3C554.3 650.8 557.5 650.7 559.7 649.9C562 649 562.4 647.2 564.6 646.4C566.7 645.6 569.8 645.3 572.6 645C575.3 644.7 578.2 644.6 581.1 644.7C583.9 644.9 586.5 645.2 589.6 645.9C592.7 646.6 596.5 647.6 599.6 649C602.7 650.4 605.8 652.3 608.1 654.1C610.5 655.9 612.4 657.9 613.8 659.8C615.2 661.7 616 663.6 616.7 665.5C617.4 667.4 616.9 669.3 618.1 671.2C619.3 673.1 621.7 674.8 623.8 676.9C625.9 679 628.8 681.6 630.9 684C633 686.4 634.9 688.8 636.6 691.1C638.3 693.5 639.8 695.6 640.9 698.2C642 700.9 642.9 703.7 643.1 706.8C643.4 709.9 643.1 713.7 642.3 716.7C641.4 719.8 639.9 722.8 638 725.3C636.1 727.8 633.8 729.9 630.9 731.8C628.1 733.7 624.5 735.4 620.9 736.7C617.4 738 613.4 738.9 609.6 739.5C605.8 740.1 601.5 740.5 598.2 740.4C594.8 740.2 591.5 738.5 589.6 738.7C587.7 738.9 590.1 740.8 586.8 741.5C583.5 742.2 574.4 742.9 569.7 742.7C565 742.4 561.9 740.9 558.3 739.8C554.8 738.7 550.7 737.3 548.4 735.8C546 734.3 545.7 732 544.1 731C542.4 729.9 540.5 730.3 538.4 729.6C536.3 728.8 533.3 728.1 531.3 726.7C529.3 725.3 527.4 723.2 526.4 721C525.5 718.9 525.5 715.8 525.6 713.9C525.7 712 527.3 710.7 527 709.6C526.7 708.5 523.8 708.3 523.6 707.4C523.4 706.4 526.2 705.5 525.6 703.9C525 702.4 522 699.7 519.9 698.2C517.8 696.8 514.5 696.8 512.8 695.4C511 694 510.1 692.6 509.4 689.7C508.6 686.9 508.2 681.4 508.5 678.3Z" fill="#D3D3D3"/>
<path d="M544.1 726.7C545 725.5 547.4 723.9 549.8 723.9C552.2 723.9 555.7 726.7 558.3 726.7C560.9 726.7 562.6 723.9 565.4 723.9C568.3 723.9 572.6 725.8 575.4 726.7C578.2 727.7 580.3 727.7 582.5 729.6C584.7 731.5 588.2 736.1 588.5 738.1C588.8 740.1 587.6 741 584.5 741.8C581.4 742.6 574.1 743.2 569.7 742.9C565.3 742.7 561.9 741.3 558.3 740.1C554.8 738.9 550.7 737.3 548.4 735.8C546 734.3 544.8 732.8 544.1 731.3C543.4 729.7 543.1 727.9 544.1 726.7Z" fill="#7BBF4A"/>
</g>
<circle cx="545.3" cy="726.7" r="1.8" fill="#7BBF4A"/>
<circle cx="547.6" cy="724" r="1.8" fill="#7BBF4A"/>
<circle cx="550.7" cy="723.9" r="1.8" fill="#7BBF4A"/>
<circle cx="556.5" cy="726.2" r="1.8" fill="#7BBF4A"/>
<circle cx="559.6" cy="726.4" r="1.8" fill="#7BBF4A"/>
<circle cx="562.6" cy="725.3" r="1.8" fill="#7BBF4A"/>
<circle cx="571.7" cy="725.2" r="1.8" fill="#7BBF4A"/>
<circle cx="580.6" cy="729.5" r="1.8" fill="#7BBF4A"/>
<circle cx="583.5" cy="731.2" r="1.8" fill="#7BBF4A"/>
<circle cx="587.3" cy="738.4" r="1.8" fill="#7BBF4A"/>
<circle cx="586" cy="741.2" r="1.8" fill="#7BBF4A"/>
<circle cx="580.8" cy="742.4" r="1.8" fill="#7BBF4A"/>
<circle cx="562.3" cy="741.2" r="1.8" fill="#7BBF4A"/>
<circle cx="556.4" cy="738.8" r="1.8" fill="#7BBF4A"/>
<circle cx="551.8" cy="737.4" r="1.8" fill="#7BBF4A"/>
<circle cx="548" cy="735.5" r="1.8" fill="#7BBF4A"/>
<circle cx="544.8" cy="732.2" r="1.8" fill="#7BBF4A"/>
<circle cx="544.5" cy="730.6" r="1.8" fill="#7BBF4A"/>
<circle cx="544.9" cy="727.8" r="1.8" fill="#7BBF4A"/>
<circle cx="538.4" cy="715.9" r="2.0" fill="#7BBF4A"/>
<circle cx="542.7" cy="713" r="2.0" fill="#7BBF4A"/>
<circle cx="545.5" cy="719.6" r="2.0" fill="#7BBF4A"/>
<circle cx="541.2" cy="721" r="2.0" fill="#7BBF4A"/>
<circle cx="553.5" cy="717.3" r="2.0" fill="#7BBF4A"/>
<text x="592.5" y="657.5" font-size="7.8" fill="#111" text-anchor="middle">4</text>
<text x="548.4" y="684" font-size="7.8" fill="#111" text-anchor="middle">0</text>
<text x="517" y="680.5" font-size="7.8" fill="#111" text-anchor="middle">6</text>
<text x="603.3" y="691.6" font-size="7.8" fill="#111" text-anchor="middle">1</text>
<text x="582.5" y="711.9" font-size="7.8" fill="#111" text-anchor="middle">2</text>
<text x="620.1" y="720.1" font-size="7.8" fill="#111" text-anchor="middle">3</text>
<text x="536.1" y="727.2" font-size="7.8" fill="#111" text-anchor="middle">7</text>
<text x="568.8" y="736.6" font-size="7.8" fill="#111" text-anchor="middle">5</text>
<text x="581.7" y="633.1" font-size="9.2" fill="#000" text-anchor="middle">4W Sham</text>
<g filter="url(#rghF)">
<path d="M360 804C360.5 801.6 361 799.9 362.3 798.2C363.7 796.5 366.2 795.3 368.2 793.8C370.1 792.3 372.3 791 374 789.4C375.7 787.9 376.4 785.9 378.4 784.5C380.3 783 383.3 781.7 385.7 780.7C388.1 779.6 390.3 779.1 393 778.3C395.7 777.6 398.8 777.1 401.8 776.3C404.7 775.5 407.3 774.2 410.5 773.4C413.7 772.5 417.6 771.5 420.7 771C423.9 770.5 426.3 770.4 429.5 770.4C432.7 770.4 436.3 770.6 439.7 771C443.1 771.4 446.5 771.9 449.9 772.8C453.3 773.6 457.2 775 460.1 776.3C463.1 777.6 465.5 779 467.4 780.7C469.4 782.4 470.9 784.3 471.8 786.5C472.8 788.7 473.3 791.6 473.3 793.8C473.3 796 470.9 797.7 471.8 799.6C472.8 801.6 476.7 803.3 479.1 805.5C481.6 807.7 484.2 810.3 486.4 812.8C488.6 815.2 490.8 817.4 492.3 820.1C493.7 822.7 494.8 825.7 495.2 828.8C495.6 832 495.3 835.9 494.6 839.1C493.9 842.2 492.7 845.1 490.8 847.8C489 850.5 486.4 853 483.5 855.1C480.6 857.2 476.7 859 473.3 860.4C469.9 861.7 466.5 862.6 463.1 863.3C459.7 864 456 864.3 452.8 864.5C449.7 864.6 446.8 864.1 444.1 864.5C441.4 864.8 440.9 866.2 436.8 866.8C432.7 867.4 424.1 868.4 419.3 868.2C414.4 868.1 410.8 867.5 407.6 865.9C404.4 864.3 402.2 860.4 400.3 858.6C398.3 856.8 397.6 855.6 395.9 855.1C394.2 854.6 392.3 855.9 390.1 855.7C387.9 855.5 384.7 855 382.8 853.6C380.8 852.3 379.2 850 378.4 847.8C377.6 845.6 378.1 842.7 377.8 840.5C377.6 838.3 377.6 836.6 376.9 834.7C376.3 832.7 375.5 830.8 374 828.8C372.6 826.9 370.4 824.2 368.2 823C366 821.8 362.3 823.2 360.9 821.5C359.4 819.8 359.6 815.7 359.4 812.8C359.3 809.9 359.5 806.4 360 804Z" fill="#D3D3D3"/>
<path d="M387.2 836.4C387.6 836 390.1 838.5 391.5 839.9C393 841.3 394 844.3 395.9 844.9C397.9 845.5 401.3 842.9 403.2 843.4C405.2 843.9 405.4 846.6 407.6 847.8C409.8 849 413.4 849.5 416.4 850.7C419.3 851.9 421.9 854.6 425.1 855.1C428.3 855.6 433.1 852.7 435.3 853.6C437.5 854.6 436.7 859.2 438.2 860.9C439.8 862.7 444.6 862.9 444.4 863.9C444.1 864.8 441 865.8 436.8 866.5C432.6 867.2 424.1 868.3 419.3 868.2C414.4 868.2 410.8 867.5 407.6 865.9C404.4 864.3 402.5 861.1 400.3 858.6C398.1 856.1 396.4 853.5 394.5 850.7C392.5 848 389.8 844.6 388.6 842.3C387.4 839.9 386.7 836.8 387.2 836.4Z" fill="#7BBF4A"/>
</g>
<circle cx="388.3" cy="836.6" r="1.8" fill="#7BBF4A"/>
<circle cx="390.5" cy="839.3" r="1.8" fill="#7BBF4A"/>
<circle cx="392.4" cy="840.2" r="1.8" fill="#7BBF4A"/>
<circle cx="394.4" cy="844" r="1.8" fill="#7BBF4A"/>
<circle cx="397.8" cy="844.5" r="1.8" fill="#7BBF4A"/>
<circle cx="401.6" cy="844.4" r="1.8" fill="#7BBF4A"/>
<circle cx="403.4" cy="844.3" r="1.8" fill="#7BBF4A"/>
<circle cx="406.7" cy="846.7" r="1.8" fill="#7BBF4A"/>
<circle cx="409.5" cy="848.2" r="1.8" fill="#7BBF4A"/>
<circle cx="413" cy="850.6" r="1.8" fill="#7BBF4A"/>
<circle cx="423.1" cy="853.8" r="1.8" fill="#7BBF4A"/>
<circle cx="427.7" cy="855" r="1.8" fill="#7BBF4A"/>
<circle cx="437.6" cy="859.2" r="1.8" fill="#7BBF4A"/>
<circle cx="442.6" cy="863.3" r="1.8" fill="#7BBF4A"/>
<circle cx="443.4" cy="864.8" r="1.8" fill="#7BBF4A"/>
<circle cx="439.2" cy="865.5" r="1.8" fill="#7BBF4A"/>
<circle cx="433.5" cy="867.6" r="1.8" fill="#7BBF4A"/>
<circle cx="423.9" cy="867.7" r="1.8" fill="#7BBF4A"/>
<circle cx="403.2" cy="861" r="1.8" fill="#7BBF4A"/>
<circle cx="398.5" cy="856.4" r="1.8" fill="#7BBF4A"/>
<circle cx="393.8" cy="848.4" r="1.8" fill="#7BBF4A"/>
<circle cx="390.3" cy="844.1" r="1.8" fill="#7BBF4A"/>
<circle cx="389" cy="841.9" r="1.8" fill="#7BBF4A"/>
<circle cx="388" cy="839" r="1.8" fill="#7BBF4A"/>
<circle cx="366.7" cy="821.2" r="2.0" fill="#7BBF4A"/>
<text x="448.8" y="784" font-size="7.8" fill="#111" text-anchor="middle">4</text>
<text x="398.2" y="809.4" font-size="7.8" fill="#111" text-anchor="middle">0</text>
<text x="369.1" y="806.8" font-size="7.8" fill="#111" text-anchor="middle">6</text>
<text x="452" y="817.6" font-size="7.8" fill="#111" text-anchor="middle">1</text>
<text x="432.4" y="837.5" font-size="7.8" fill="#111" text-anchor="middle">2</text>
<text x="472.7" y="845.4" font-size="7.8" fill="#111" text-anchor="middle">3</text>
<text x="386.6" y="851.5" font-size="7.8" fill="#111" text-anchor="middle">7</text>
<text x="417.8" y="860.2" font-size="7.8" fill="#111" text-anchor="middle">5</text>
<text x="437.7" y="760.5" font-size="9.2" fill="#000" text-anchor="middle">8W CCH</text>
<g filter="url(#rghF)">
<path d="M507.6 804.1C508 801.9 508.9 800.3 510.5 798.4C512.1 796.5 515 794.6 517 792.7C519.1 790.8 520.6 788.7 522.7 787C524.9 785.3 527.2 783.9 529.9 782.7C532.5 781.5 535.5 780.7 538.4 779.9C541.2 779 544.1 778.6 546.9 777.6C549.8 776.7 552.6 775.2 555.5 774.2C558.3 773.2 561.2 772.1 564 771.3C566.9 770.6 569.5 770.1 572.6 769.9C575.6 769.8 579.2 770 582.5 770.5C585.8 771 589.2 771.7 592.5 772.8C595.8 773.9 599.4 775.5 602.4 777C605.5 778.6 608.6 780 611 781.9C613.4 783.8 615.2 786.2 616.7 788.4C618.1 790.7 618.7 793.2 619.5 795.5C620.3 797.9 620.3 800.8 621.5 802.7C622.7 804.6 624.8 805.3 626.6 806.9C628.4 808.6 630.5 810.3 632.3 812.6C634.1 815 636.1 818.3 637.5 821.2C638.8 824 639.7 826.6 640.3 829.7C640.9 832.8 641.2 836.6 640.9 839.7C640.5 842.8 639.4 845.6 638 848.2C636.6 850.8 634.7 853.3 632.3 855.3C630 857.4 626.9 859 623.8 860.4C620.7 861.9 617.1 863.1 613.8 863.9C610.5 864.7 607.2 865.2 603.9 865.3C600.5 865.4 596 864.3 593.9 864.4C591.8 864.6 594.1 866.1 591.1 866.1C588 866.1 580.4 864.2 575.4 864.4C570.4 864.6 565.2 867.8 561.2 867.3C557.1 866.8 554 863.7 551.2 861.6C548.4 859.5 546 856 544.1 854.8C542.2 853.5 541.7 854 539.8 853.9C537.9 853.8 534.6 854.6 532.7 853.9C530.8 853.2 529.4 851.5 528.4 849.6C527.5 847.7 526.8 844.3 527 842.5C527.2 840.7 530.7 840 529.9 838.8C529 837.6 522.6 836.7 521.9 835.4C521.2 834.1 525.9 832.8 525.6 831.1C525.3 829.5 521.8 827.3 519.9 825.4C518 823.5 516.1 822.1 514.2 819.7C512.3 817.4 509.6 813.8 508.5 811.2C507.4 808.6 507.3 806.2 507.6 804.1Z" fill="#D3D3D3"/>
<path d="M540.7 843.4C541.1 842.6 544.7 848.8 546.9 849.6C549.2 850.4 551.4 848 554 848.2C556.7 848.4 559 851.1 562.6 851.1C566.1 851.1 572.1 847.5 575.4 848.2C578.7 848.9 581.6 853.4 582.5 855.3C583.5 857.2 579.6 858.4 581.1 859.6C582.6 860.8 589.6 861.4 591.3 862.4C593 863.4 594 865.2 591.3 865.6C588.7 865.9 580.4 864.1 575.4 864.4C570.4 864.7 565.2 867.8 561.2 867.3C557.1 866.8 554 863.8 551.2 861.6C548.4 859.4 545.8 857.2 544.1 854.2C542.3 851.1 540.2 844.1 540.7 843.4Z" fill="#7BBF4A"/>
</g>
<circle cx="542.2" cy="844.1" r="1.8" fill="#7BBF4A"/>
<circle cx="545.3" cy="848.2" r="1.8" fill="#7BBF4A"/>
<circle cx="548.4" cy="848.6" r="1.8" fill="#7BBF4A"/>
<circle cx="551.7" cy="849.2" r="1.8" fill="#7BBF4A"/>
<circle cx="556.2" cy="848.7" r="1.8" fill="#7BBF4A"/>
<circle cx="560.6" cy="850.7" r="1.8" fill="#7BBF4A"/>
<circle cx="564.5" cy="850.5" r="1.8" fill="#7BBF4A"/>
<circle cx="572" cy="849.2" r="1.8" fill="#7BBF4A"/>
<circle cx="576.9" cy="849.4" r="1.8" fill="#7BBF4A"/>
<circle cx="579.7" cy="853.9" r="1.8" fill="#7BBF4A"/>
<circle cx="582.1" cy="858.3" r="1.8" fill="#7BBF4A"/>
<circle cx="583.7" cy="860.3" r="1.8" fill="#7BBF4A"/>
<circle cx="591.5" cy="865.1" r="1.8" fill="#7BBF4A"/>
<circle cx="580.2" cy="865.1" r="1.8" fill="#7BBF4A"/>
<circle cx="573.1" cy="865.5" r="1.8" fill="#7BBF4A"/>
<circle cx="565.6" cy="866.2" r="1.8" fill="#7BBF4A"/>
<circle cx="559.3" cy="866.9" r="1.8" fill="#7BBF4A"/>
<circle cx="553.6" cy="863.3" r="1.8" fill="#7BBF4A"/>
<circle cx="542.4" cy="846.8" r="1.8" fill="#7BBF4A"/>
<circle cx="518.5" cy="821.7" r="2.0" fill="#7BBF4A"/>
<circle cx="535.5" cy="841.1" r="2.0" fill="#7BBF4A"/>
<text x="588.2" y="783.3" font-size="7.8" fill="#111" text-anchor="middle">4</text>
<text x="547.2" y="807.2" font-size="7.8" fill="#111" text-anchor="middle">0</text>
<text x="515" y="807.5" font-size="7.8" fill="#111" text-anchor="middle">6</text>
<text x="598.2" y="816.3" font-size="7.8" fill="#111" text-anchor="middle">1</text>
<text x="577.1" y="837.6" font-size="7.8" fill="#111" text-anchor="middle">2</text>
<text x="620.4" y="844.5" font-size="7.8" fill="#111" text-anchor="middle">3</text>
<text x="533" y="851.9" font-size="7.8" fill="#111" text-anchor="middle">7</text>
<text x="564.9" y="859.8" font-size="7.8" fill="#111" text-anchor="middle">5</text>
<text x="581.7" y="760.3" font-size="9.2" fill="#000" text-anchor="middle">8W Sham</text>
<path d="M357.6 628.1L357.6 740" stroke="#111" stroke-width="1.25" fill="none"/>
<path d="M357.6 760.2L357.6 872.3" stroke="#111" stroke-width="1.25" fill="none"/>
<path d="M357 871.7L501 871.7" stroke="#222" stroke-width="1.4" fill="none"/>
<path d="M505.7 871.7L648 871.7" stroke="#222" stroke-width="1.4" fill="none"/>
<path d="M355 633.4L357.6 633.4" stroke="#000" stroke-width="0.9" fill="none"/>
<text x="351" y="636.2" font-size="7.8" fill="#000" text-anchor="end">6</text>
<path d="M355 662L357.6 662" stroke="#000" stroke-width="0.9" fill="none"/>
<text x="351" y="664.8" font-size="7.8" fill="#000" text-anchor="end">3</text>
<path d="M355 690.3L357.6 690.3" stroke="#000" stroke-width="0.9" fill="none"/>
<text x="351" y="693.1" font-size="7.8" fill="#000" text-anchor="end">0</text>
<path d="M355 718.6L357.6 718.6" stroke="#000" stroke-width="0.9" fill="none"/>
<text x="351" y="721.4" font-size="7.8" fill="#000" text-anchor="end">−3</text>
<path d="M355 765.2L357.6 765.2" stroke="#000" stroke-width="0.9" fill="none"/>
<text x="351" y="768" font-size="7.8" fill="#000" text-anchor="end">6</text>
<path d="M355 794L357.6 794" stroke="#000" stroke-width="0.9" fill="none"/>
<text x="351" y="796.8" font-size="7.8" fill="#000" text-anchor="end">3</text>
<path d="M355 822.4L357.6 822.4" stroke="#000" stroke-width="0.9" fill="none"/>
<text x="351" y="825.2" font-size="7.8" fill="#000" text-anchor="end">0</text>
<path d="M355 850.7L357.6 850.7" stroke="#000" stroke-width="0.9" fill="none"/>
<text x="351" y="853.5" font-size="7.8" fill="#000" text-anchor="end">−3</text>
<path d="M385.4 871.7L385.4 874.6" stroke="#000" stroke-width="0.9" fill="none"/>
<text x="385.4" y="885.2" font-size="7.8" fill="#000" text-anchor="middle">−3</text>
<path d="M423.6 871.7L423.6 874.6" stroke="#000" stroke-width="0.9" fill="none"/>
<text x="423.6" y="885.2" font-size="7.8" fill="#000" text-anchor="middle">0</text>
<path d="M461.6 871.7L461.6 874.6" stroke="#000" stroke-width="0.9" fill="none"/>
<text x="461.6" y="885.2" font-size="7.8" fill="#000" text-anchor="middle">3</text>
<path d="M499.3 871.7L499.3 874.6" stroke="#000" stroke-width="0.9" fill="none"/>
<text x="499.3" y="885.2" font-size="7.8" fill="#000" text-anchor="middle">6</text>
<path d="M533.3 871.7L533.3 874.6" stroke="#000" stroke-width="0.9" fill="none"/>
<text x="531.6" y="885.2" font-size="7.8" fill="#000" text-anchor="middle">−3</text>
<path d="M571.1 871.7L571.1 874.6" stroke="#000" stroke-width="0.9" fill="none"/>
<text x="571.1" y="885.2" font-size="7.8" fill="#000" text-anchor="middle">0</text>
<path d="M609 871.7L609 874.6" stroke="#000" stroke-width="0.9" fill="none"/>
<text x="609" y="885.2" font-size="7.8" fill="#000" text-anchor="middle">3</text>
<path d="M646.6 871.7L646.6 874.6" stroke="#000" stroke-width="0.9" fill="none"/>
<text x="646.6" y="885.2" font-size="7.8" fill="#000" text-anchor="middle">6</text>
<text x="502.8" y="900.6" font-size="9.2" fill="#000" text-anchor="middle">UMAP 1</text>
<text x="331.6" y="748.2" font-size="9.2" fill="#000" text-anchor="middle" transform="rotate(-90 331.6 748.2)">UMAP 2</text>
</g>
</svg>
</body></html>
